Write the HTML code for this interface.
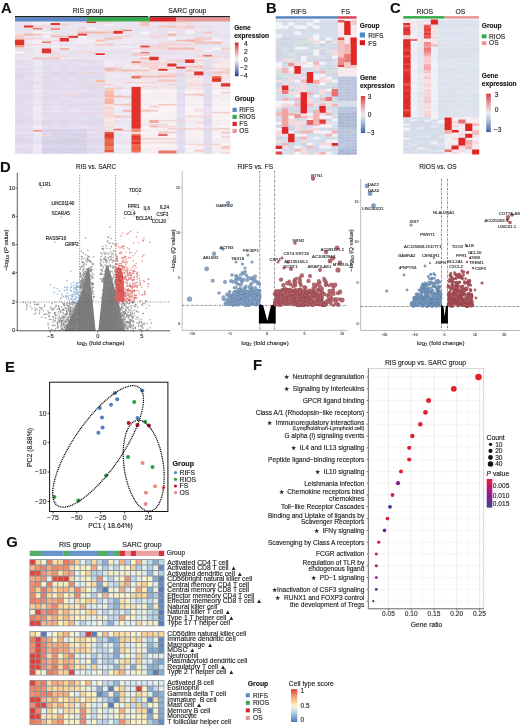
<!DOCTYPE html>
<html><head><meta charset="utf-8"><title>Figure</title>
<style>html,body{margin:0;padding:0;background:#fff;}
svg{display:block;font-family:'Liberation Sans', Arial, Helvetica, sans-serif;}
svg text{stroke:#1a1a1a;stroke-width:0.22px;stroke-opacity:0.55;}</style></head>
<body><svg width="520" height="726" viewBox="0 0 520 726">
<rect x="0" y="0" width="520" height="726" fill="#fff"/>
<text x="1.00" y="12.70" font-size="14.8" font-weight="bold" fill="#111">A</text>
<text x="265.90" y="12.70" font-size="14.8" font-weight="bold" fill="#111">B</text>
<text x="390.00" y="12.70" font-size="14.8" font-weight="bold" fill="#111">C</text>
<text x="234.20" y="29.70" font-size="6.6" font-weight="bold" fill="#111">Gene</text>
<text x="234.20" y="37.70" font-size="6.6" font-weight="bold" fill="#111">expression</text>
<defs><linearGradient id="gA" x1="0" y1="0" x2="0" y2="1"><stop offset="0" stop-color="#c62d33"/><stop offset="0.25" stop-color="#e59a9a"/><stop offset="0.5" stop-color="#f6f2f6"/><stop offset="0.75" stop-color="#9a9fcb"/><stop offset="1" stop-color="#27368c"/></linearGradient><linearGradient id="gB" x1="0" y1="0" x2="0" y2="1"><stop offset="0" stop-color="#d43a3c"/><stop offset="0.25" stop-color="#e79aa0"/><stop offset="0.5" stop-color="#ececf0"/><stop offset="0.75" stop-color="#9fb3d3"/><stop offset="1" stop-color="#3b62a0"/></linearGradient></defs>
<rect x="234.90" y="42.50" width="3.70" height="33.70" fill="url(#gA)"/>
<text x="247.70" y="46.40" font-size="6.6" text-anchor="end" fill="#222">4</text>
<text x="247.70" y="54.20" font-size="6.6" text-anchor="end" fill="#222">2</text>
<text x="247.70" y="62.00" font-size="6.6" text-anchor="end" fill="#222">0</text>
<text x="247.70" y="69.80" font-size="6.6" text-anchor="end" fill="#222">−2</text>
<text x="247.70" y="77.60" font-size="6.6" text-anchor="end" fill="#222">−4</text>
<text x="234.80" y="101.40" font-size="6.6" font-weight="bold" fill="#111">Group</text>
<rect x="232.50" y="107.75" width="4.30" height="4.20" fill="#5b87c5"/>
<text x="239.20" y="112.15" font-size="6.6" fill="#222">RIFS</text>
<rect x="232.50" y="114.78" width="4.30" height="4.20" fill="#35a94b"/>
<text x="239.20" y="119.18" font-size="6.6" fill="#222">RIOS</text>
<rect x="232.50" y="121.81" width="4.30" height="4.20" fill="#d6262c"/>
<text x="239.20" y="126.21" font-size="6.6" fill="#222">FS</text>
<rect x="232.50" y="128.84" width="4.30" height="4.20" fill="#e79896"/>
<text x="239.20" y="133.24" font-size="6.6" fill="#222">OS</text>
<g>
<path fill="#e7e1ed" d="M15 21.5h9.3v2.3h-9.3zM59.8 21.5h9.3v2.3h-9.3zM113.5 21.5h9.3v2.3h-9.3zM122.5 21.5h9.3v2.3h-9.3zM149.4 21.5h9.3v2.3h-9.3zM194.2 21.5h9.3v2.3h-9.3zM77.7 25.5h9.3v2.3h-9.3zM95.6 25.5h9.3v2.3h-9.3zM113.5 25.5h9.3v2.3h-9.3zM140.4 25.5h9.3v2.3h-9.3zM15 27.5h9.3v2.3h-9.3zM24 27.5h9.3v2.3h-9.3zM41.9 27.5h9.3v2.3h-9.3zM68.8 27.5h9.3v2.3h-9.3zM104.6 27.5h9.3v2.3h-9.3zM113.5 27.5h9.3v2.3h-9.3zM122.5 27.5h9.3v2.3h-9.3zM140.4 27.5h9.3v2.3h-9.3zM149.4 27.5h9.3v2.3h-9.3zM158.3 27.5h9.3v2.3h-9.3zM203.1 27.5h9.3v2.3h-9.3zM15 29.5h9.3v2.3h-9.3zM24 29.5h9.3v2.3h-9.3zM77.7 29.5h9.3v2.3h-9.3zM86.7 29.5h9.3v2.3h-9.3zM131.5 29.5h9.3v2.3h-9.3zM167.3 29.5h9.3v2.3h-9.3zM176.2 29.5h9.3v2.3h-9.3zM212.1 29.5h9.3v2.3h-9.3zM59.8 31.5h9.3v2.3h-9.3zM149.4 31.5h9.3v2.3h-9.3zM176.2 31.5h9.3v2.3h-9.3zM59.8 33.5h9.3v2.3h-9.3zM68.8 33.5h9.3v2.3h-9.3zM122.5 33.5h9.3v2.3h-9.3zM131.5 33.5h9.3v2.3h-9.3zM140.4 33.5h9.3v2.3h-9.3zM149.4 33.5h9.3v2.3h-9.3zM185.2 33.5h9.3v2.3h-9.3zM15 35.5h9.3v2.3h-9.3zM95.6 35.5h9.3v2.3h-9.3zM104.6 35.5h9.3v2.3h-9.3zM194.2 35.5h9.3v2.3h-9.3zM203.1 35.5h9.3v2.3h-9.3zM221 35.5h9.3v2.3h-9.3zM50.8 43.5h9.3v2.3h-9.3zM68.8 43.5h9.3v2.3h-9.3zM86.7 43.5h9.3v2.3h-9.3zM113.5 43.5h9.3v2.3h-9.3zM221 43.5h9.3v2.3h-9.3zM50.8 49.5h9.3v2.3h-9.3zM68.8 49.5h9.3v2.3h-9.3zM122.5 49.5h9.3v2.3h-9.3zM140.4 49.5h9.3v2.3h-9.3zM167.3 49.5h9.3v2.3h-9.3zM185.2 49.5h9.3v2.3h-9.3zM212.1 49.5h9.3v2.3h-9.3zM24 51.5h9.3v2.3h-9.3zM113.5 51.5h9.3v2.3h-9.3zM122.5 51.5h9.3v2.3h-9.3zM140.4 51.5h9.3v2.3h-9.3zM212.1 51.5h9.3v2.3h-9.3zM41.9 53.5h9.3v2.3h-9.3zM59.8 53.5h9.3v2.3h-9.3zM86.7 53.5h9.3v2.3h-9.3zM104.6 53.5h9.3v2.3h-9.3zM122.5 53.5h9.3v2.3h-9.3zM158.3 53.5h9.3v2.3h-9.3zM176.2 53.5h9.3v2.3h-9.3zM185.2 53.5h9.3v2.3h-9.3zM194.2 53.5h9.3v2.3h-9.3zM15 55.5h9.3v2.3h-9.3zM86.7 55.5h9.3v2.3h-9.3zM32.9 87.5h9.3v2.3h-9.3zM113.5 119.5h9.3v2.3h-9.3zM32.9 121.5h9.3v2.3h-9.3zM32.9 129.5h9.3v2.3h-9.3z"/>
<path fill="#e7deea" d="M24 21.5h9.3v2.3h-9.3zM149.4 25.5h9.3v2.3h-9.3zM203.1 25.5h9.3v2.3h-9.3zM158.3 29.5h9.3v2.3h-9.3zM194.2 31.5h9.3v2.3h-9.3zM95.6 33.5h9.3v2.3h-9.3zM158.3 33.5h9.3v2.3h-9.3zM194.2 33.5h9.3v2.3h-9.3zM221 33.5h9.3v2.3h-9.3zM41.9 43.5h9.3v2.3h-9.3zM77.7 43.5h9.3v2.3h-9.3zM131.5 43.5h9.3v2.3h-9.3zM140.4 43.5h9.3v2.3h-9.3zM149.4 43.5h9.3v2.3h-9.3zM203.1 43.5h9.3v2.3h-9.3zM212.1 43.5h9.3v2.3h-9.3zM15 49.5h9.3v2.3h-9.3zM41.9 49.5h9.3v2.3h-9.3zM77.7 49.5h9.3v2.3h-9.3zM149.4 51.5h9.3v2.3h-9.3zM167.3 51.5h9.3v2.3h-9.3zM176.2 51.5h9.3v2.3h-9.3zM221 51.5h9.3v2.3h-9.3zM15 53.5h9.3v2.3h-9.3zM50.8 53.5h9.3v2.3h-9.3zM149.4 53.5h9.3v2.3h-9.3zM167.3 53.5h9.3v2.3h-9.3zM203.1 53.5h9.3v2.3h-9.3z"/>
<path fill="#f6f3f6" d="M32.9 21.5h9.3v2.3h-9.3zM41.9 21.5h9.3v2.3h-9.3zM50.8 21.5h9.3v2.3h-9.3zM104.6 23.5h9.3v2.3h-9.3zM86.7 27.5h9.3v2.3h-9.3zM185.2 29.5h9.3v2.3h-9.3zM32.9 31.5h9.3v2.3h-9.3zM41.9 31.5h9.3v2.3h-9.3zM140.4 31.5h9.3v2.3h-9.3zM167.3 31.5h9.3v2.3h-9.3zM185.2 31.5h9.3v2.3h-9.3zM113.5 33.5h9.3v2.3h-9.3zM41.9 35.5h9.3v2.3h-9.3zM77.7 35.5h9.3v2.3h-9.3zM77.7 37.5h9.3v2.3h-9.3zM167.3 37.5h9.3v2.3h-9.3zM86.7 39.5h9.3v2.3h-9.3zM212.1 39.5h9.3v2.3h-9.3zM77.7 41.5h9.3v2.3h-9.3zM95.6 41.5h9.3v2.3h-9.3zM50.8 45.5h9.3v2.3h-9.3zM122.5 45.5h9.3v2.3h-9.3zM59.8 47.5h9.3v2.3h-9.3zM212.1 47.5h9.3v2.3h-9.3zM131.5 49.5h9.3v2.3h-9.3zM203.1 49.5h9.3v2.3h-9.3zM15 51.5h9.3v2.3h-9.3zM95.6 51.5h9.3v2.3h-9.3zM95.6 53.5h9.3v2.3h-9.3zM140.4 55.5h9.3v2.3h-9.3z"/>
<path fill="#eae4f0" d="M68.8 21.5h9.3v2.3h-9.3zM131.5 21.5h9.3v2.3h-9.3zM203.1 21.5h9.3v2.3h-9.3zM221 21.5h9.3v2.3h-9.3zM15 23.5h9.3v2.3h-9.3zM24 23.5h9.3v2.3h-9.3zM41.9 23.5h9.3v2.3h-9.3zM50.8 23.5h9.3v2.3h-9.3zM68.8 23.5h9.3v2.3h-9.3zM86.7 23.5h9.3v2.3h-9.3zM122.5 23.5h9.3v2.3h-9.3zM131.5 23.5h9.3v2.3h-9.3zM167.3 23.5h9.3v2.3h-9.3zM185.2 23.5h9.3v2.3h-9.3zM194.2 23.5h9.3v2.3h-9.3zM203.1 23.5h9.3v2.3h-9.3zM68.8 25.5h9.3v2.3h-9.3zM86.7 25.5h9.3v2.3h-9.3zM104.6 25.5h9.3v2.3h-9.3zM131.5 25.5h9.3v2.3h-9.3zM221 25.5h9.3v2.3h-9.3zM50.8 27.5h9.3v2.3h-9.3zM59.8 27.5h9.3v2.3h-9.3zM212.1 27.5h9.3v2.3h-9.3zM221 27.5h9.3v2.3h-9.3zM50.8 29.5h9.3v2.3h-9.3zM59.8 29.5h9.3v2.3h-9.3zM68.8 29.5h9.3v2.3h-9.3zM95.6 29.5h9.3v2.3h-9.3zM104.6 29.5h9.3v2.3h-9.3zM140.4 29.5h9.3v2.3h-9.3zM149.4 29.5h9.3v2.3h-9.3zM194.2 29.5h9.3v2.3h-9.3zM203.1 29.5h9.3v2.3h-9.3zM221 29.5h9.3v2.3h-9.3zM15 31.5h9.3v2.3h-9.3zM50.8 31.5h9.3v2.3h-9.3zM68.8 31.5h9.3v2.3h-9.3zM113.5 31.5h9.3v2.3h-9.3zM131.5 31.5h9.3v2.3h-9.3zM221 31.5h9.3v2.3h-9.3zM24 35.5h9.3v2.3h-9.3zM131.5 35.5h9.3v2.3h-9.3zM140.4 35.5h9.3v2.3h-9.3zM176.2 35.5h9.3v2.3h-9.3zM185.2 35.5h9.3v2.3h-9.3zM212.1 35.5h9.3v2.3h-9.3zM41.9 37.5h9.3v2.3h-9.3zM149.4 37.5h9.3v2.3h-9.3zM158.3 37.5h9.3v2.3h-9.3zM221 37.5h9.3v2.3h-9.3zM15 39.5h9.3v2.3h-9.3zM41.9 39.5h9.3v2.3h-9.3zM140.4 39.5h9.3v2.3h-9.3zM167.3 39.5h9.3v2.3h-9.3zM104.6 41.5h9.3v2.3h-9.3zM15 45.5h9.3v2.3h-9.3zM41.9 45.5h9.3v2.3h-9.3zM68.8 45.5h9.3v2.3h-9.3zM77.7 45.5h9.3v2.3h-9.3zM140.4 45.5h9.3v2.3h-9.3zM167.3 45.5h9.3v2.3h-9.3zM194.2 45.5h9.3v2.3h-9.3zM203.1 45.5h9.3v2.3h-9.3zM221 45.5h9.3v2.3h-9.3zM41.9 47.5h9.3v2.3h-9.3zM77.7 47.5h9.3v2.3h-9.3zM95.6 47.5h9.3v2.3h-9.3zM113.5 47.5h9.3v2.3h-9.3zM122.5 47.5h9.3v2.3h-9.3zM194.2 47.5h9.3v2.3h-9.3zM24 55.5h9.3v2.3h-9.3zM41.9 55.5h9.3v2.3h-9.3zM77.7 55.5h9.3v2.3h-9.3zM122.5 55.5h9.3v2.3h-9.3zM149.4 55.5h9.3v2.3h-9.3zM158.3 55.5h9.3v2.3h-9.3zM176.2 55.5h9.3v2.3h-9.3zM185.2 55.5h9.3v2.3h-9.3zM24 57.5h9.3v2.3h-9.3zM77.7 57.5h9.3v2.3h-9.3zM104.6 57.5h9.3v2.3h-9.3zM122.5 57.5h9.3v2.3h-9.3zM131.5 57.5h9.3v2.3h-9.3zM158.3 57.5h9.3v2.3h-9.3zM203.1 57.5h9.3v2.3h-9.3zM212.1 57.5h9.3v2.3h-9.3zM113.5 59.5h9.3v2.3h-9.3zM122.5 71.5h9.3v2.3h-9.3zM122.5 73.5h9.3v2.3h-9.3zM32.9 75.5h9.3v2.3h-9.3zM113.5 77.5h9.3v2.3h-9.3zM122.5 77.5h9.3v2.3h-9.3zM113.5 79.5h9.3v2.3h-9.3zM32.9 91.5h9.3v2.3h-9.3zM32.9 95.5h9.3v2.3h-9.3zM122.5 97.5h9.3v2.3h-9.3zM113.5 121.5h9.3v2.3h-9.3zM32.9 123.5h9.3v2.3h-9.3zM32.9 133.5h9.3v2.3h-9.3zM32.9 139.5h9.3v2.3h-9.3zM113.5 139.5h9.3v2.3h-9.3z"/>
<path fill="#f3d8de" d="M77.7 21.5h9.3v2.3h-9.3zM59.8 39.5h9.3v2.3h-9.3zM194.2 75.5h9.3v2.3h-9.3zM122.5 141.5h9.3v2.3h-9.3z"/>
<path fill="#f3d8db" d="M86.7 21.5h9.3v2.3h-9.3zM95.6 21.5h9.3v2.3h-9.3zM15 37.5h9.3v2.3h-9.3zM167.3 41.5h9.3v2.3h-9.3zM32.9 43.5h9.3v2.3h-9.3zM131.5 47.5h9.3v2.3h-9.3zM77.7 51.5h9.3v2.3h-9.3zM131.5 59.5h9.3v2.3h-9.3zM212.1 61.5h9.3v2.3h-9.3zM140.4 63.5h9.3v2.3h-9.3zM158.3 73.5h9.3v2.3h-9.3zM149.4 81.5h9.3v2.3h-9.3zM131.5 87.5h9.3v2.3h-9.3zM149.4 119.5h9.3v2.3h-9.3zM158.3 119.5h9.3v2.3h-9.3zM167.3 119.5h9.3v2.3h-9.3zM149.4 123.5h9.3v2.3h-9.3zM158.3 141.5h9.3v2.3h-9.3zM185.2 143.5h9.3v2.3h-9.3zM104.6 149.5h9.3v2.3h-9.3zM221 151.5h9.3v2.3h-9.3z"/>
<path fill="#f0d8de" d="M104.6 21.5h9.3v2.3h-9.3zM185.2 27.5h9.3v2.3h-9.3zM24 43.5h9.3v2.3h-9.3zM15 47.5h9.3v2.3h-9.3zM140.4 47.5h9.3v2.3h-9.3zM50.8 51.5h9.3v2.3h-9.3z"/>
<path fill="#f0baae" d="M140.4 21.5h9.3v2.3h-9.3zM77.7 31.5h9.3v2.3h-9.3zM176.2 39.5h9.3v2.3h-9.3z"/>
<path fill="#f3d8d8" d="M158.3 21.5h9.3v2.3h-9.3z"/>
<path fill="#f3d5d8" d="M167.3 21.5h9.3v2.3h-9.3zM32.9 37.5h9.3v2.3h-9.3zM158.3 47.5h9.3v2.3h-9.3zM212.1 55.5h9.3v2.3h-9.3zM221 69.5h9.3v2.3h-9.3zM185.2 75.5h9.3v2.3h-9.3zM32.9 81.5h9.3v2.3h-9.3zM131.5 85.5h9.3v2.3h-9.3z"/>
<path fill="#f0d5d8" d="M176.2 21.5h9.3v2.3h-9.3zM24 25.5h9.3v2.3h-9.3zM50.8 25.5h9.3v2.3h-9.3z"/>
<path fill="#f3d5d5" d="M185.2 21.5h9.3v2.3h-9.3zM131.5 61.5h9.3v2.3h-9.3zM158.3 61.5h9.3v2.3h-9.3zM140.4 65.5h9.3v2.3h-9.3zM140.4 81.5h9.3v2.3h-9.3zM140.4 85.5h9.3v2.3h-9.3zM194.2 121.5h9.3v2.3h-9.3zM15 35h9.2v2.2h-9.2z"/>
<path fill="#eae1ed" d="M212.1 21.5h9.3v2.3h-9.3zM95.6 23.5h9.3v2.3h-9.3zM221 23.5h9.3v2.3h-9.3zM15 25.5h9.3v2.3h-9.3zM59.8 25.5h9.3v2.3h-9.3zM122.5 25.5h9.3v2.3h-9.3zM194.2 25.5h9.3v2.3h-9.3zM212.1 25.5h9.3v2.3h-9.3zM95.6 27.5h9.3v2.3h-9.3zM131.5 27.5h9.3v2.3h-9.3zM167.3 27.5h9.3v2.3h-9.3zM194.2 27.5h9.3v2.3h-9.3zM41.9 29.5h9.3v2.3h-9.3zM122.5 29.5h9.3v2.3h-9.3zM24 31.5h9.3v2.3h-9.3zM122.5 31.5h9.3v2.3h-9.3zM158.3 31.5h9.3v2.3h-9.3zM212.1 31.5h9.3v2.3h-9.3zM41.9 33.5h9.3v2.3h-9.3zM203.1 33.5h9.3v2.3h-9.3zM86.7 35.5h9.3v2.3h-9.3zM167.3 35.5h9.3v2.3h-9.3zM24 47.5h9.3v2.3h-9.3zM59.8 49.5h9.3v2.3h-9.3zM86.7 49.5h9.3v2.3h-9.3zM104.6 49.5h9.3v2.3h-9.3zM113.5 49.5h9.3v2.3h-9.3zM149.4 49.5h9.3v2.3h-9.3zM158.3 49.5h9.3v2.3h-9.3zM176.2 49.5h9.3v2.3h-9.3zM221 49.5h9.3v2.3h-9.3zM59.8 51.5h9.3v2.3h-9.3zM104.6 51.5h9.3v2.3h-9.3zM185.2 51.5h9.3v2.3h-9.3zM194.2 51.5h9.3v2.3h-9.3zM24 53.5h9.3v2.3h-9.3zM68.8 53.5h9.3v2.3h-9.3zM77.7 53.5h9.3v2.3h-9.3zM113.5 53.5h9.3v2.3h-9.3zM212.1 53.5h9.3v2.3h-9.3zM221 53.5h9.3v2.3h-9.3zM68.8 55.5h9.3v2.3h-9.3zM95.6 55.5h9.3v2.3h-9.3zM104.6 55.5h9.3v2.3h-9.3zM131.5 55.5h9.3v2.3h-9.3zM167.3 55.5h9.3v2.3h-9.3zM113.5 57.5h9.3v2.3h-9.3zM176.2 57.5h9.3v2.3h-9.3z"/>
<path fill="#edeaf3" d="M32.9 23.5h9.3v2.3h-9.3zM32.9 27.5h9.3v2.3h-9.3zM32.9 29.5h9.3v2.3h-9.3zM32.9 49.5h9.3v2.3h-9.3zM32.9 55.5h9.3v2.3h-9.3zM113.5 75.5h9.3v2.3h-9.3zM113.5 83.5h9.3v2.3h-9.3zM122.5 91.5h9.3v2.3h-9.3zM113.5 97.5h9.3v2.3h-9.3zM122.5 101.5h9.3v2.3h-9.3zM113.5 109.5h9.3v2.3h-9.3zM113.5 113.5h9.3v2.3h-9.3zM113.5 149.5h9.3v2.3h-9.3zM122.5 149.5h9.3v2.3h-9.3zM113.5 151.5h9.3v2.3h-9.3z"/>
<path fill="#f0cfcf" d="M59.8 23.5h9.3v2.3h-9.3zM113.5 35.5h9.3v2.3h-9.3zM113.5 129.5h9.3v2.3h-9.3z"/>
<path fill="#ede7f3" d="M77.7 23.5h9.3v2.3h-9.3zM113.5 23.5h9.3v2.3h-9.3zM149.4 23.5h9.3v2.3h-9.3zM176.2 23.5h9.3v2.3h-9.3zM212.1 23.5h9.3v2.3h-9.3zM68.8 37.5h9.3v2.3h-9.3zM86.7 37.5h9.3v2.3h-9.3zM131.5 37.5h9.3v2.3h-9.3zM140.4 37.5h9.3v2.3h-9.3zM176.2 37.5h9.3v2.3h-9.3zM185.2 37.5h9.3v2.3h-9.3zM24 39.5h9.3v2.3h-9.3zM104.6 39.5h9.3v2.3h-9.3zM203.1 39.5h9.3v2.3h-9.3zM15 41.5h9.3v2.3h-9.3zM24 41.5h9.3v2.3h-9.3zM59.8 41.5h9.3v2.3h-9.3zM68.8 41.5h9.3v2.3h-9.3zM113.5 41.5h9.3v2.3h-9.3zM185.2 41.5h9.3v2.3h-9.3zM59.8 45.5h9.3v2.3h-9.3zM86.7 45.5h9.3v2.3h-9.3zM104.6 45.5h9.3v2.3h-9.3zM113.5 45.5h9.3v2.3h-9.3zM131.5 45.5h9.3v2.3h-9.3zM212.1 45.5h9.3v2.3h-9.3zM68.8 47.5h9.3v2.3h-9.3zM104.6 47.5h9.3v2.3h-9.3zM15 57.5h9.3v2.3h-9.3zM68.8 57.5h9.3v2.3h-9.3zM86.7 57.5h9.3v2.3h-9.3zM194.2 57.5h9.3v2.3h-9.3zM32.9 61.5h9.3v2.3h-9.3zM113.5 63.5h9.3v2.3h-9.3zM122.5 65.5h9.3v2.3h-9.3zM32.9 77.5h9.3v2.3h-9.3zM32.9 79.5h9.3v2.3h-9.3zM122.5 79.5h9.3v2.3h-9.3zM122.5 105.5h9.3v2.3h-9.3zM122.5 111.5h9.3v2.3h-9.3zM113.5 117.5h9.3v2.3h-9.3zM122.5 117.5h9.3v2.3h-9.3zM122.5 133.5h9.3v2.3h-9.3zM32.9 135.5h9.3v2.3h-9.3zM113.5 135.5h9.3v2.3h-9.3zM32.9 143.5h9.3v2.3h-9.3zM32.9 149.5h9.3v2.3h-9.3zM32.9 151.5h9.3v2.3h-9.3z"/>
<path fill="#f3c0ba" d="M140.4 23.5h9.3v2.3h-9.3z"/>
<path fill="#ede4f0" d="M158.3 23.5h9.3v2.3h-9.3zM59.8 37.5h9.3v2.3h-9.3zM95.6 37.5h9.3v2.3h-9.3zM68.8 39.5h9.3v2.3h-9.3zM122.5 39.5h9.3v2.3h-9.3zM149.4 39.5h9.3v2.3h-9.3zM158.3 39.5h9.3v2.3h-9.3zM221 39.5h9.3v2.3h-9.3zM86.7 41.5h9.3v2.3h-9.3zM131.5 41.5h9.3v2.3h-9.3zM140.4 41.5h9.3v2.3h-9.3zM221 41.5h9.3v2.3h-9.3zM24 45.5h9.3v2.3h-9.3zM95.6 45.5h9.3v2.3h-9.3zM176.2 45.5h9.3v2.3h-9.3zM185.2 45.5h9.3v2.3h-9.3zM50.8 47.5h9.3v2.3h-9.3zM86.7 47.5h9.3v2.3h-9.3zM203.1 47.5h9.3v2.3h-9.3zM113.5 55.5h9.3v2.3h-9.3zM59.8 57.5h9.3v2.3h-9.3zM95.6 57.5h9.3v2.3h-9.3zM167.3 57.5h9.3v2.3h-9.3zM185.2 57.5h9.3v2.3h-9.3zM221 57.5h9.3v2.3h-9.3z"/>
<path fill="#f3cfcf" d="M32.9 25.5h9.3v2.3h-9.3zM149.4 45.5h9.3v2.3h-9.3zM185.2 59.5h9.3v2.3h-9.3zM149.4 61.5h9.3v2.3h-9.3zM167.3 67.5h9.3v2.3h-9.3zM167.3 83.5h9.3v2.3h-9.3zM221 91.5h9.3v2.3h-9.3zM212.1 143.5h9.3v2.3h-9.3z"/>
<path fill="#f3d2d2" d="M41.9 25.5h9.3v2.3h-9.3zM122.5 35.5h9.3v2.3h-9.3zM149.4 35.5h9.3v2.3h-9.3zM194.2 59.5h9.3v2.3h-9.3zM194.2 67.5h9.3v2.3h-9.3zM212.1 67.5h9.3v2.3h-9.3zM221 67.5h9.3v2.3h-9.3zM122.5 81.5h9.3v2.3h-9.3zM104.6 83.5h9.3v2.3h-9.3zM185.2 83.5h9.3v2.3h-9.3zM194.2 83.5h9.3v2.3h-9.3zM158.3 137.5h9.3v2.3h-9.3zM167.3 137.5h9.3v2.3h-9.3z"/>
<path fill="#f0c9c6" d="M158.3 25.5h9.3v2.3h-9.3zM203.1 37.5h9.3v2.3h-9.3zM41.9 57.5h9.3v2.3h-9.3zM122.5 129.5h9.3v2.3h-9.3z"/>
<path fill="#f3c3c0" d="M167.3 25.5h9.3v2.3h-9.3z"/>
<path fill="#f3cfc9" d="M176.2 25.5h9.3v2.3h-9.3zM221 135.5h9.3v2.3h-9.3z"/>
<path fill="#f3c6c0" d="M185.2 25.5h9.3v2.3h-9.3zM203.1 31.5h9.3v2.3h-9.3zM194.2 37.5h9.3v2.3h-9.3zM149.4 67.5h9.3v2.3h-9.3zM221 71.5h9.3v2.3h-9.3zM167.3 103.5h9.3v2.3h-9.3zM113.5 115.5h9.3v2.3h-9.3zM131.5 129.5h9.3v2.3h-9.3z"/>
<path fill="#f0d2d8" d="M77.7 27.5h9.3v2.3h-9.3zM203.1 115.5h9.3v2.3h-9.3zM24 117.5h9.3v2.3h-9.3z"/>
<path fill="#f3d5db" d="M176.2 27.5h9.3v2.3h-9.3zM50.8 39.5h9.3v2.3h-9.3zM15 43.5h9.3v2.3h-9.3zM149.4 47.5h9.3v2.3h-9.3zM86.7 51.5h9.3v2.3h-9.3zM194.2 55.5h9.3v2.3h-9.3zM203.1 55.5h9.3v2.3h-9.3zM131.5 63.5h9.3v2.3h-9.3zM149.4 63.5h9.3v2.3h-9.3zM59.8 93.5h9.3v2.3h-9.3zM68.8 93.5h9.3v2.3h-9.3zM86.7 111.5h9.3v2.3h-9.3zM158.3 123.5h9.3v2.3h-9.3z"/>
<path fill="#f0c6c0" d="M113.5 29.5h9.3v2.3h-9.3zM113.5 37.5h9.3v2.3h-9.3zM194.2 39.5h9.3v2.3h-9.3zM140.4 53.5h9.3v2.3h-9.3zM113.5 69.5h9.3v2.3h-9.3zM113.5 103.5h9.3v2.3h-9.3z"/>
<path fill="#f0b7ab" d="M86.7 31.5h9.3v2.3h-9.3zM15 33.5h9.3v2.3h-9.3z"/>
<path fill="#f3b7a8" d="M95.6 31.5h9.3v2.3h-9.3zM158.3 75.5h9.3v2.3h-9.3z"/>
<path fill="#f0c3bd" d="M104.6 31.5h9.3v2.3h-9.3zM203.1 41.5h9.3v2.3h-9.3zM122.5 95.5h9.3v2.3h-9.3z"/>
<path fill="#edbab1" d="M24 33.5h9.3v2.3h-9.3z"/>
<path fill="#f3c3b7" d="M32.9 33.5h9.3v2.3h-9.3z"/>
<path fill="#e4deea" d="M50.8 33.5h9.3v2.3h-9.3zM77.7 33.5h9.3v2.3h-9.3zM86.7 33.5h9.3v2.3h-9.3zM104.6 33.5h9.3v2.3h-9.3zM176.2 33.5h9.3v2.3h-9.3zM212.1 33.5h9.3v2.3h-9.3zM59.8 43.5h9.3v2.3h-9.3zM122.5 43.5h9.3v2.3h-9.3zM194.2 43.5h9.3v2.3h-9.3zM24 49.5h9.3v2.3h-9.3zM95.6 49.5h9.3v2.3h-9.3zM68.8 51.5h9.3v2.3h-9.3zM131.5 51.5h9.3v2.3h-9.3zM158.3 51.5h9.3v2.3h-9.3zM203.1 51.5h9.3v2.3h-9.3z"/>
<path fill="#f0b4a8" d="M167.3 33.5h9.3v2.3h-9.3z"/>
<path fill="#eae4ed" d="M32.9 35.5h9.3v2.3h-9.3z"/>
<path fill="#f0bab1" d="M50.8 35.5h9.3v2.3h-9.3zM185.2 47.5h9.3v2.3h-9.3z"/>
<path fill="#f0c0ba" d="M59.8 35.5h9.3v2.3h-9.3z"/>
<path fill="#f3b4a5" d="M68.8 35.5h9.3v2.3h-9.3z"/>
<path fill="#f0d5db" d="M158.3 35.5h9.3v2.3h-9.3zM185.2 43.5h9.3v2.3h-9.3zM77.7 71.5h9.3v2.3h-9.3zM95.6 71.5h9.3v2.3h-9.3zM24 145.5h9.3v2.3h-9.3z"/>
<path fill="#f3d2d5" d="M24 37.5h9.3v2.3h-9.3zM167.3 43.5h9.3v2.3h-9.3zM149.4 65.5h9.3v2.3h-9.3zM131.5 81.5h9.3v2.3h-9.3zM167.3 141.5h9.3v2.3h-9.3z"/>
<path fill="#f0e7f3" d="M50.8 37.5h9.3v2.3h-9.3zM122.5 37.5h9.3v2.3h-9.3zM212.1 37.5h9.3v2.3h-9.3zM77.7 39.5h9.3v2.3h-9.3zM113.5 39.5h9.3v2.3h-9.3zM131.5 39.5h9.3v2.3h-9.3zM41.9 41.5h9.3v2.3h-9.3zM50.8 41.5h9.3v2.3h-9.3zM149.4 41.5h9.3v2.3h-9.3zM176.2 41.5h9.3v2.3h-9.3z"/>
<path fill="#f3bab1" d="M104.6 37.5h9.3v2.3h-9.3zM167.3 47.5h9.3v2.3h-9.3z"/>
<path fill="#f3edf6" d="M32.9 39.5h9.3v2.3h-9.3z"/>
<path fill="#f3c0b7" d="M95.6 39.5h9.3v2.3h-9.3zM194.2 41.5h9.3v2.3h-9.3zM50.8 57.5h9.3v2.3h-9.3zM140.4 69.5h9.3v2.3h-9.3zM131.5 109.5h9.3v2.3h-9.3zM149.4 109.5h9.3v2.3h-9.3zM221 131.5h9.3v2.3h-9.3z"/>
<path fill="#f3b1a2" d="M185.2 39.5h9.3v2.3h-9.3z"/>
<path fill="#f3f0f9" d="M32.9 41.5h9.3v2.3h-9.3z"/>
<path fill="#f0eaf6" d="M122.5 41.5h9.3v2.3h-9.3zM122.5 63.5h9.3v2.3h-9.3zM32.9 107.5h9.3v2.3h-9.3zM122.5 113.5h9.3v2.3h-9.3zM32.9 131.5h9.3v2.3h-9.3zM113.5 131.5h9.3v2.3h-9.3z"/>
<path fill="#f0dbe1" d="M158.3 41.5h9.3v2.3h-9.3zM194.2 49.5h9.3v2.3h-9.3zM113.5 85.5h9.3v2.3h-9.3z"/>
<path fill="#f3baae" d="M212.1 41.5h9.3v2.3h-9.3zM104.6 95.5h9.3v2.3h-9.3z"/>
<path fill="#f3cccc" d="M95.6 43.5h9.3v2.3h-9.3zM203.1 67.5h9.3v2.3h-9.3zM203.1 83.5h9.3v2.3h-9.3z"/>
<path fill="#f3ccc9" d="M104.6 43.5h9.3v2.3h-9.3zM212.1 111.5h9.3v2.3h-9.3zM221 111.5h9.3v2.3h-9.3zM167.3 127.5h9.3v2.3h-9.3zM185.2 127.5h9.3v2.3h-9.3zM221 127.5h9.3v2.3h-9.3zM221 147.5h9.3v2.3h-9.3z"/>
<path fill="#f3cfd2" d="M158.3 43.5h9.3v2.3h-9.3zM176.2 43.5h9.3v2.3h-9.3zM140.4 61.5h9.3v2.3h-9.3z"/>
<path fill="#f0eaf3" d="M32.9 45.5h9.3v2.3h-9.3zM32.9 47.5h9.3v2.3h-9.3z"/>
<path fill="#f0cfcc" d="M158.3 45.5h9.3v2.3h-9.3zM113.5 87.5h9.3v2.3h-9.3zM122.5 115.5h9.3v2.3h-9.3z"/>
<path fill="#f3bdb1" d="M176.2 47.5h9.3v2.3h-9.3zM149.4 75.5h9.3v2.3h-9.3zM167.3 75.5h9.3v2.3h-9.3z"/>
<path fill="#f0cfd2" d="M221 47.5h9.3v2.3h-9.3zM176.2 127.5h9.3v2.3h-9.3z"/>
<path fill="#ede7f0" d="M32.9 51.5h9.3v2.3h-9.3zM32.9 53.5h9.3v2.3h-9.3z"/>
<path fill="#edd8de" d="M41.9 51.5h9.3v2.3h-9.3z"/>
<path fill="#f0c6c3" d="M131.5 53.5h9.3v2.3h-9.3z"/>
<path fill="#f0d8db" d="M50.8 55.5h9.3v2.3h-9.3zM59.8 55.5h9.3v2.3h-9.3z"/>
<path fill="#f0d8e1" d="M221 55.5h9.3v2.3h-9.3z"/>
<path fill="#f3bdb4" d="M32.9 57.5h9.3v2.3h-9.3zM131.5 69.5h9.3v2.3h-9.3zM194.2 149.5h9.3v2.3h-9.3zM86.7 108h9.2v2h-9.2zM122.5 108h9.2v2h-9.2z"/>
<path fill="#f3b7ab" d="M140.4 57.5h9.3v2.3h-9.3zM104.6 69.5h9.3v2.3h-9.3zM122.5 109.5h9.3v2.3h-9.3zM149.4 125.5h9.3v2.3h-9.3z"/>
<path fill="#f0c3ba" d="M149.4 57.5h9.3v2.3h-9.3z"/>
<path fill="#e1dbed" d="M15 59.5h9.3v2.3h-9.3zM50.8 59.5h9.3v2.3h-9.3zM59.8 59.5h9.3v2.3h-9.3zM86.7 59.5h9.3v2.3h-9.3zM15 61.5h9.3v2.3h-9.3zM50.8 61.5h9.3v2.3h-9.3zM86.7 61.5h9.3v2.3h-9.3zM95.6 61.5h9.3v2.3h-9.3zM176.2 61.5h9.3v2.3h-9.3zM15 63.5h9.3v2.3h-9.3zM24 63.5h9.3v2.3h-9.3zM41.9 65.5h9.3v2.3h-9.3zM59.8 65.5h9.3v2.3h-9.3zM77.7 65.5h9.3v2.3h-9.3zM86.7 65.5h9.3v2.3h-9.3zM95.6 65.5h9.3v2.3h-9.3zM15 67.5h9.3v2.3h-9.3zM50.8 67.5h9.3v2.3h-9.3zM59.8 67.5h9.3v2.3h-9.3zM68.8 67.5h9.3v2.3h-9.3zM77.7 67.5h9.3v2.3h-9.3zM86.7 67.5h9.3v2.3h-9.3zM15 69.5h9.3v2.3h-9.3zM41.9 69.5h9.3v2.3h-9.3zM59.8 69.5h9.3v2.3h-9.3zM77.7 69.5h9.3v2.3h-9.3zM15 71.5h9.3v2.3h-9.3zM59.8 71.5h9.3v2.3h-9.3zM24 73.5h9.3v2.3h-9.3zM41.9 73.5h9.3v2.3h-9.3zM59.8 73.5h9.3v2.3h-9.3zM77.7 73.5h9.3v2.3h-9.3zM86.7 73.5h9.3v2.3h-9.3zM24 75.5h9.3v2.3h-9.3zM59.8 75.5h9.3v2.3h-9.3zM68.8 75.5h9.3v2.3h-9.3zM77.7 75.5h9.3v2.3h-9.3zM86.7 75.5h9.3v2.3h-9.3zM50.8 77.5h9.3v2.3h-9.3zM59.8 77.5h9.3v2.3h-9.3zM77.7 77.5h9.3v2.3h-9.3zM86.7 77.5h9.3v2.3h-9.3zM95.6 77.5h9.3v2.3h-9.3zM24 79.5h9.3v2.3h-9.3zM41.9 79.5h9.3v2.3h-9.3zM59.8 79.5h9.3v2.3h-9.3zM68.8 79.5h9.3v2.3h-9.3zM77.7 79.5h9.3v2.3h-9.3zM95.6 79.5h9.3v2.3h-9.3zM176.2 79.5h9.3v2.3h-9.3zM15 81.5h9.3v2.3h-9.3zM24 81.5h9.3v2.3h-9.3zM59.8 81.5h9.3v2.3h-9.3zM86.7 81.5h9.3v2.3h-9.3zM95.6 81.5h9.3v2.3h-9.3zM24 83.5h9.3v2.3h-9.3zM50.8 83.5h9.3v2.3h-9.3zM59.8 83.5h9.3v2.3h-9.3zM15 85.5h9.3v2.3h-9.3zM24 85.5h9.3v2.3h-9.3zM50.8 85.5h9.3v2.3h-9.3zM86.7 85.5h9.3v2.3h-9.3zM95.6 85.5h9.3v2.3h-9.3zM41.9 87.5h9.3v2.3h-9.3zM77.7 87.5h9.3v2.3h-9.3zM86.7 87.5h9.3v2.3h-9.3zM95.6 87.5h9.3v2.3h-9.3zM86.7 89.5h9.3v2.3h-9.3zM41.9 91.5h9.3v2.3h-9.3zM59.8 91.5h9.3v2.3h-9.3zM77.7 91.5h9.3v2.3h-9.3zM24 93.5h9.3v2.3h-9.3zM41.9 93.5h9.3v2.3h-9.3zM77.7 93.5h9.3v2.3h-9.3zM95.6 93.5h9.3v2.3h-9.3zM203.1 93.5h9.3v2.3h-9.3zM15 95.5h9.3v2.3h-9.3zM24 95.5h9.3v2.3h-9.3zM59.8 95.5h9.3v2.3h-9.3zM176.2 95.5h9.3v2.3h-9.3zM15 97.5h9.3v2.3h-9.3zM24 97.5h9.3v2.3h-9.3zM41.9 97.5h9.3v2.3h-9.3zM50.8 97.5h9.3v2.3h-9.3zM176.2 97.5h9.3v2.3h-9.3zM203.1 97.5h9.3v2.3h-9.3zM15 99.5h9.3v2.3h-9.3zM24 99.5h9.3v2.3h-9.3zM50.8 99.5h9.3v2.3h-9.3zM68.8 99.5h9.3v2.3h-9.3zM86.7 99.5h9.3v2.3h-9.3zM15 101.5h9.3v2.3h-9.3zM59.8 101.5h9.3v2.3h-9.3zM86.7 101.5h9.3v2.3h-9.3zM95.6 101.5h9.3v2.3h-9.3zM15 103.5h9.3v2.3h-9.3zM24 103.5h9.3v2.3h-9.3zM50.8 103.5h9.3v2.3h-9.3zM68.8 105.5h9.3v2.3h-9.3zM77.7 107.5h9.3v2.3h-9.3zM95.6 107.5h9.3v2.3h-9.3zM24 109.5h9.3v2.3h-9.3zM95.6 109.5h9.3v2.3h-9.3zM15 111.5h9.3v2.3h-9.3zM41.9 111.5h9.3v2.3h-9.3zM50.8 111.5h9.3v2.3h-9.3zM77.7 111.5h9.3v2.3h-9.3zM15 113.5h9.3v2.3h-9.3zM41.9 113.5h9.3v2.3h-9.3zM77.7 113.5h9.3v2.3h-9.3zM86.7 113.5h9.3v2.3h-9.3zM203.1 113.5h9.3v2.3h-9.3zM15 115.5h9.3v2.3h-9.3zM24 115.5h9.3v2.3h-9.3zM86.7 115.5h9.3v2.3h-9.3zM15 117.5h9.3v2.3h-9.3zM59.8 117.5h9.3v2.3h-9.3zM68.8 117.5h9.3v2.3h-9.3zM86.7 117.5h9.3v2.3h-9.3zM95.6 117.5h9.3v2.3h-9.3zM176.2 117.5h9.3v2.3h-9.3zM24 121.5h9.3v2.3h-9.3zM50.8 121.5h9.3v2.3h-9.3zM68.8 121.5h9.3v2.3h-9.3zM77.7 121.5h9.3v2.3h-9.3zM15 123.5h9.3v2.3h-9.3zM24 123.5h9.3v2.3h-9.3zM50.8 123.5h9.3v2.3h-9.3zM68.8 123.5h9.3v2.3h-9.3zM95.6 123.5h9.3v2.3h-9.3zM15 127.5h9.3v2.3h-9.3zM24 127.5h9.3v2.3h-9.3zM41.9 127.5h9.3v2.3h-9.3zM50.8 127.5h9.3v2.3h-9.3zM203.1 127.5h9.3v2.3h-9.3zM95.6 133.5h9.3v2.3h-9.3zM15 135.5h9.3v2.3h-9.3zM15 143.5h9.3v2.3h-9.3zM95.6 143.5h9.3v2.3h-9.3zM24 147.5h9.3v2.3h-9.3zM15 149.5h9.3v2.3h-9.3zM24 149.5h9.3v2.3h-9.3zM95.6 149.5h9.3v2.3h-9.3zM15 151.5h9.3v2.3h-9.3zM86.7 151.5h9.3v2.3h-9.3z"/>
<path fill="#e4def0" d="M24 59.5h9.3v2.3h-9.3zM95.6 59.5h9.3v2.3h-9.3zM24 61.5h9.3v2.3h-9.3zM41.9 61.5h9.3v2.3h-9.3zM59.8 61.5h9.3v2.3h-9.3zM68.8 61.5h9.3v2.3h-9.3zM77.7 61.5h9.3v2.3h-9.3zM41.9 63.5h9.3v2.3h-9.3zM50.8 63.5h9.3v2.3h-9.3zM59.8 63.5h9.3v2.3h-9.3zM68.8 63.5h9.3v2.3h-9.3zM86.7 63.5h9.3v2.3h-9.3zM95.6 63.5h9.3v2.3h-9.3zM15 65.5h9.3v2.3h-9.3zM24 65.5h9.3v2.3h-9.3zM50.8 65.5h9.3v2.3h-9.3zM68.8 65.5h9.3v2.3h-9.3zM24 69.5h9.3v2.3h-9.3zM50.8 69.5h9.3v2.3h-9.3zM68.8 69.5h9.3v2.3h-9.3zM86.7 69.5h9.3v2.3h-9.3zM95.6 69.5h9.3v2.3h-9.3zM24 77.5h9.3v2.3h-9.3zM68.8 77.5h9.3v2.3h-9.3zM15 79.5h9.3v2.3h-9.3zM50.8 79.5h9.3v2.3h-9.3zM86.7 79.5h9.3v2.3h-9.3zM203.1 79.5h9.3v2.3h-9.3zM15 83.5h9.3v2.3h-9.3zM41.9 83.5h9.3v2.3h-9.3zM68.8 83.5h9.3v2.3h-9.3zM77.7 83.5h9.3v2.3h-9.3zM59.8 85.5h9.3v2.3h-9.3zM68.8 85.5h9.3v2.3h-9.3zM15 89.5h9.3v2.3h-9.3zM24 89.5h9.3v2.3h-9.3zM41.9 89.5h9.3v2.3h-9.3zM50.8 89.5h9.3v2.3h-9.3zM59.8 89.5h9.3v2.3h-9.3zM68.8 89.5h9.3v2.3h-9.3zM95.6 89.5h9.3v2.3h-9.3zM15 91.5h9.3v2.3h-9.3zM24 91.5h9.3v2.3h-9.3zM50.8 91.5h9.3v2.3h-9.3zM68.8 91.5h9.3v2.3h-9.3zM86.7 91.5h9.3v2.3h-9.3zM95.6 91.5h9.3v2.3h-9.3zM176.2 91.5h9.3v2.3h-9.3zM59.8 97.5h9.3v2.3h-9.3zM68.8 97.5h9.3v2.3h-9.3zM77.7 97.5h9.3v2.3h-9.3zM86.7 97.5h9.3v2.3h-9.3zM95.6 97.5h9.3v2.3h-9.3zM77.7 99.5h9.3v2.3h-9.3zM95.6 99.5h9.3v2.3h-9.3zM176.2 99.5h9.3v2.3h-9.3zM24 101.5h9.3v2.3h-9.3zM41.9 101.5h9.3v2.3h-9.3zM50.8 101.5h9.3v2.3h-9.3zM68.8 101.5h9.3v2.3h-9.3zM77.7 101.5h9.3v2.3h-9.3zM15 105.5h9.3v2.3h-9.3zM24 105.5h9.3v2.3h-9.3zM41.9 105.5h9.3v2.3h-9.3zM59.8 105.5h9.3v2.3h-9.3zM77.7 105.5h9.3v2.3h-9.3zM86.7 105.5h9.3v2.3h-9.3zM95.6 105.5h9.3v2.3h-9.3zM176.2 105.5h9.3v2.3h-9.3zM15 107.5h9.3v2.3h-9.3zM24 107.5h9.3v2.3h-9.3zM41.9 107.5h9.3v2.3h-9.3zM50.8 107.5h9.3v2.3h-9.3zM59.8 107.5h9.3v2.3h-9.3zM68.8 107.5h9.3v2.3h-9.3zM86.7 107.5h9.3v2.3h-9.3zM15 109.5h9.3v2.3h-9.3zM41.9 109.5h9.3v2.3h-9.3zM59.8 109.5h9.3v2.3h-9.3zM77.7 109.5h9.3v2.3h-9.3zM24 111.5h9.3v2.3h-9.3zM59.8 111.5h9.3v2.3h-9.3zM68.8 111.5h9.3v2.3h-9.3zM203.1 111.5h9.3v2.3h-9.3zM24 113.5h9.3v2.3h-9.3zM50.8 113.5h9.3v2.3h-9.3zM59.8 113.5h9.3v2.3h-9.3zM68.8 113.5h9.3v2.3h-9.3zM95.6 113.5h9.3v2.3h-9.3zM41.9 115.5h9.3v2.3h-9.3zM50.8 115.5h9.3v2.3h-9.3zM59.8 115.5h9.3v2.3h-9.3zM68.8 115.5h9.3v2.3h-9.3zM77.7 115.5h9.3v2.3h-9.3zM95.6 115.5h9.3v2.3h-9.3zM41.9 117.5h9.3v2.3h-9.3zM50.8 117.5h9.3v2.3h-9.3zM77.7 117.5h9.3v2.3h-9.3zM15 125.5h9.3v2.3h-9.3zM24 125.5h9.3v2.3h-9.3zM41.9 125.5h9.3v2.3h-9.3zM50.8 125.5h9.3v2.3h-9.3zM59.8 125.5h9.3v2.3h-9.3zM68.8 125.5h9.3v2.3h-9.3zM86.7 125.5h9.3v2.3h-9.3zM95.6 125.5h9.3v2.3h-9.3zM59.8 127.5h9.3v2.3h-9.3zM68.8 127.5h9.3v2.3h-9.3zM77.7 127.5h9.3v2.3h-9.3zM86.7 127.5h9.3v2.3h-9.3zM95.6 127.5h9.3v2.3h-9.3zM95.6 131.5h9.3v2.3h-9.3zM24 135.5h9.3v2.3h-9.3zM86.7 135.5h9.3v2.3h-9.3zM95.6 135.5h9.3v2.3h-9.3zM203.1 135.5h9.3v2.3h-9.3zM24 143.5h9.3v2.3h-9.3zM86.7 143.5h9.3v2.3h-9.3zM176.2 143.5h9.3v2.3h-9.3zM86.7 145.5h9.3v2.3h-9.3zM95.6 145.5h9.3v2.3h-9.3z"/>
<path fill="#eae7f3" d="M32.9 59.5h9.3v2.3h-9.3zM122.5 59.5h9.3v2.3h-9.3zM122.5 61.5h9.3v2.3h-9.3zM113.5 73.5h9.3v2.3h-9.3zM122.5 75.5h9.3v2.3h-9.3zM32.9 83.5h9.3v2.3h-9.3zM32.9 85.5h9.3v2.3h-9.3zM122.5 85.5h9.3v2.3h-9.3zM113.5 91.5h9.3v2.3h-9.3zM122.5 93.5h9.3v2.3h-9.3zM32.9 99.5h9.3v2.3h-9.3zM32.9 101.5h9.3v2.3h-9.3zM32.9 111.5h9.3v2.3h-9.3zM113.5 111.5h9.3v2.3h-9.3zM32.9 113.5h9.3v2.3h-9.3zM113.5 123.5h9.3v2.3h-9.3zM32.9 127.5h9.3v2.3h-9.3zM32.9 147.5h9.3v2.3h-9.3zM122.5 151.5h9.3v2.3h-9.3z"/>
<path fill="#ded8ea" d="M41.9 59.5h9.3v2.3h-9.3zM68.8 59.5h9.3v2.3h-9.3zM77.7 59.5h9.3v2.3h-9.3zM24 67.5h9.3v2.3h-9.3zM41.9 67.5h9.3v2.3h-9.3zM95.6 67.5h9.3v2.3h-9.3zM24 71.5h9.3v2.3h-9.3zM41.9 71.5h9.3v2.3h-9.3zM50.8 71.5h9.3v2.3h-9.3zM68.8 71.5h9.3v2.3h-9.3zM203.1 71.5h9.3v2.3h-9.3zM68.8 73.5h9.3v2.3h-9.3zM95.6 73.5h9.3v2.3h-9.3zM15 75.5h9.3v2.3h-9.3zM41.9 75.5h9.3v2.3h-9.3zM50.8 75.5h9.3v2.3h-9.3zM95.6 75.5h9.3v2.3h-9.3zM15 77.5h9.3v2.3h-9.3zM41.9 77.5h9.3v2.3h-9.3zM41.9 81.5h9.3v2.3h-9.3zM50.8 81.5h9.3v2.3h-9.3zM68.8 81.5h9.3v2.3h-9.3zM77.7 81.5h9.3v2.3h-9.3zM41.9 85.5h9.3v2.3h-9.3zM77.7 85.5h9.3v2.3h-9.3zM15 87.5h9.3v2.3h-9.3zM24 87.5h9.3v2.3h-9.3zM50.8 87.5h9.3v2.3h-9.3zM59.8 87.5h9.3v2.3h-9.3zM68.8 87.5h9.3v2.3h-9.3zM15 93.5h9.3v2.3h-9.3zM50.8 93.5h9.3v2.3h-9.3zM86.7 93.5h9.3v2.3h-9.3zM176.2 93.5h9.3v2.3h-9.3zM41.9 95.5h9.3v2.3h-9.3zM50.8 95.5h9.3v2.3h-9.3zM68.8 95.5h9.3v2.3h-9.3zM77.7 95.5h9.3v2.3h-9.3zM86.7 95.5h9.3v2.3h-9.3zM95.6 95.5h9.3v2.3h-9.3zM41.9 99.5h9.3v2.3h-9.3zM59.8 99.5h9.3v2.3h-9.3zM41.9 103.5h9.3v2.3h-9.3zM59.8 103.5h9.3v2.3h-9.3zM68.8 103.5h9.3v2.3h-9.3zM77.7 103.5h9.3v2.3h-9.3zM86.7 103.5h9.3v2.3h-9.3zM95.6 103.5h9.3v2.3h-9.3zM176.2 103.5h9.3v2.3h-9.3zM15 119.5h9.3v2.3h-9.3zM24 119.5h9.3v2.3h-9.3zM50.8 119.5h9.3v2.3h-9.3zM59.8 119.5h9.3v2.3h-9.3zM68.8 119.5h9.3v2.3h-9.3zM77.7 119.5h9.3v2.3h-9.3zM86.7 119.5h9.3v2.3h-9.3zM95.6 119.5h9.3v2.3h-9.3zM15 121.5h9.3v2.3h-9.3zM41.9 121.5h9.3v2.3h-9.3zM59.8 121.5h9.3v2.3h-9.3zM86.7 121.5h9.3v2.3h-9.3zM95.6 121.5h9.3v2.3h-9.3zM203.1 121.5h9.3v2.3h-9.3zM41.9 123.5h9.3v2.3h-9.3zM59.8 123.5h9.3v2.3h-9.3zM77.7 123.5h9.3v2.3h-9.3zM86.7 123.5h9.3v2.3h-9.3zM203.1 123.5h9.3v2.3h-9.3zM15 129.5h9.3v2.3h-9.3zM24 129.5h9.3v2.3h-9.3zM86.7 129.5h9.3v2.3h-9.3zM15 133.5h9.3v2.3h-9.3zM24 133.5h9.3v2.3h-9.3zM86.7 133.5h9.3v2.3h-9.3zM15 137.5h9.3v2.3h-9.3zM24 137.5h9.3v2.3h-9.3zM86.7 137.5h9.3v2.3h-9.3zM95.6 137.5h9.3v2.3h-9.3zM15 139.5h9.3v2.3h-9.3zM24 139.5h9.3v2.3h-9.3zM86.7 139.5h9.3v2.3h-9.3zM95.6 139.5h9.3v2.3h-9.3zM15 141.5h9.3v2.3h-9.3zM24 141.5h9.3v2.3h-9.3zM86.7 141.5h9.3v2.3h-9.3zM95.6 141.5h9.3v2.3h-9.3zM15 147.5h9.3v2.3h-9.3zM86.7 147.5h9.3v2.3h-9.3zM95.6 147.5h9.3v2.3h-9.3zM86.7 149.5h9.3v2.3h-9.3zM24 151.5h9.3v2.3h-9.3zM95.6 151.5h9.3v2.3h-9.3zM203.1 151.5h9.3v2.3h-9.3z"/>
<path fill="#f0eaf0" d="M104.6 59.5h9.3v2.3h-9.3zM131.5 79.5h9.3v2.3h-9.3zM131.5 91.5h9.3v2.3h-9.3zM104.6 97.5h9.3v2.3h-9.3zM131.5 97.5h9.3v2.3h-9.3zM104.6 109.5h9.3v2.3h-9.3zM131.5 115.5h9.3v2.3h-9.3zM131.5 125.5h9.3v2.3h-9.3zM131.5 127.5h9.3v2.3h-9.3z"/>
<path fill="#f0e1e7" d="M140.4 59.5h9.3v2.3h-9.3zM149.4 59.5h9.3v2.3h-9.3zM140.4 71.5h9.3v2.3h-9.3zM149.4 71.5h9.3v2.3h-9.3zM158.3 71.5h9.3v2.3h-9.3zM185.2 73.5h9.3v2.3h-9.3zM194.2 73.5h9.3v2.3h-9.3zM212.1 73.5h9.3v2.3h-9.3zM221 73.5h9.3v2.3h-9.3zM140.4 77.5h9.3v2.3h-9.3zM149.4 77.5h9.3v2.3h-9.3zM158.3 77.5h9.3v2.3h-9.3zM185.2 77.5h9.3v2.3h-9.3zM221 77.5h9.3v2.3h-9.3zM167.3 81.5h9.3v2.3h-9.3zM185.2 81.5h9.3v2.3h-9.3zM221 81.5h9.3v2.3h-9.3zM149.4 85.5h9.3v2.3h-9.3zM140.4 87.5h9.3v2.3h-9.3zM149.4 87.5h9.3v2.3h-9.3zM194.2 87.5h9.3v2.3h-9.3z"/>
<path fill="#f3e4e7" d="M158.3 59.5h9.3v2.3h-9.3zM158.3 65.5h9.3v2.3h-9.3zM167.3 77.5h9.3v2.3h-9.3zM158.3 81.5h9.3v2.3h-9.3zM158.3 83.5h9.3v2.3h-9.3zM158.3 85.5h9.3v2.3h-9.3zM167.3 85.5h9.3v2.3h-9.3zM194.2 85.5h9.3v2.3h-9.3zM158.3 87.5h9.3v2.3h-9.3zM167.3 87.5h9.3v2.3h-9.3zM185.2 87.5h9.3v2.3h-9.3z"/>
<path fill="#f3cfcc" d="M167.3 59.5h9.3v2.3h-9.3z"/>
<path fill="#f0cccc" d="M176.2 59.5h9.3v2.3h-9.3z"/>
<path fill="#e1def0" d="M203.1 59.5h9.3v2.3h-9.3zM203.1 61.5h9.3v2.3h-9.3zM203.1 63.5h9.3v2.3h-9.3zM176.2 65.5h9.3v2.3h-9.3zM176.2 69.5h9.3v2.3h-9.3zM203.1 69.5h9.3v2.3h-9.3zM176.2 71.5h9.3v2.3h-9.3zM176.2 75.5h9.3v2.3h-9.3zM203.1 75.5h9.3v2.3h-9.3zM203.1 77.5h9.3v2.3h-9.3zM176.2 81.5h9.3v2.3h-9.3zM203.1 81.5h9.3v2.3h-9.3zM176.2 83.5h9.3v2.3h-9.3zM203.1 87.5h9.3v2.3h-9.3zM203.1 89.5h9.3v2.3h-9.3zM203.1 91.5h9.3v2.3h-9.3zM176.2 101.5h9.3v2.3h-9.3zM203.1 101.5h9.3v2.3h-9.3zM176.2 109.5h9.3v2.3h-9.3zM176.2 111.5h9.3v2.3h-9.3zM176.2 115.5h9.3v2.3h-9.3zM203.1 117.5h9.3v2.3h-9.3zM203.1 125.5h9.3v2.3h-9.3zM176.2 131.5h9.3v2.3h-9.3zM203.1 131.5h9.3v2.3h-9.3zM176.2 135.5h9.3v2.3h-9.3zM176.2 137.5h9.3v2.3h-9.3zM203.1 145.5h9.3v2.3h-9.3z"/>
<path fill="#f3e4ea" d="M212.1 59.5h9.3v2.3h-9.3zM194.2 61.5h9.3v2.3h-9.3zM185.2 63.5h9.3v2.3h-9.3zM194.2 63.5h9.3v2.3h-9.3zM140.4 67.5h9.3v2.3h-9.3zM185.2 67.5h9.3v2.3h-9.3zM149.4 69.5h9.3v2.3h-9.3zM212.1 69.5h9.3v2.3h-9.3zM167.3 71.5h9.3v2.3h-9.3zM185.2 71.5h9.3v2.3h-9.3zM212.1 75.5h9.3v2.3h-9.3zM221 75.5h9.3v2.3h-9.3zM140.4 79.5h9.3v2.3h-9.3zM149.4 79.5h9.3v2.3h-9.3zM194.2 79.5h9.3v2.3h-9.3zM212.1 79.5h9.3v2.3h-9.3zM194.2 81.5h9.3v2.3h-9.3zM212.1 81.5h9.3v2.3h-9.3zM149.4 83.5h9.3v2.3h-9.3zM185.2 85.5h9.3v2.3h-9.3zM221 85.5h9.3v2.3h-9.3zM212.1 87.5h9.3v2.3h-9.3z"/>
<path fill="#f6e7ea" d="M221 59.5h9.3v2.3h-9.3zM167.3 69.5h9.3v2.3h-9.3zM194.2 69.5h9.3v2.3h-9.3zM194.2 77.5h9.3v2.3h-9.3zM212.1 77.5h9.3v2.3h-9.3zM185.2 79.5h9.3v2.3h-9.3zM212.1 83.5h9.3v2.3h-9.3zM221 83.5h9.3v2.3h-9.3zM212.1 85.5h9.3v2.3h-9.3z"/>
<path fill="#f3eaf3" d="M104.6 61.5h9.3v2.3h-9.3zM104.6 65.5h9.3v2.3h-9.3zM131.5 65.5h9.3v2.3h-9.3zM131.5 83.5h9.3v2.3h-9.3zM104.6 91.5h9.3v2.3h-9.3zM104.6 99.5h9.3v2.3h-9.3zM131.5 99.5h9.3v2.3h-9.3zM131.5 105.5h9.3v2.3h-9.3zM131.5 111.5h9.3v2.3h-9.3zM104.6 113.5h9.3v2.3h-9.3zM131.5 113.5h9.3v2.3h-9.3zM104.6 117.5h9.3v2.3h-9.3zM131.5 117.5h9.3v2.3h-9.3zM104.6 125.5h9.3v2.3h-9.3zM131.5 131.5h9.3v2.3h-9.3zM104.6 135.5h9.3v2.3h-9.3zM131.5 135.5h9.3v2.3h-9.3zM131.5 143.5h9.3v2.3h-9.3zM104.6 145.5h9.3v2.3h-9.3zM131.5 151.5h9.3v2.3h-9.3z"/>
<path fill="#edeaf6" d="M113.5 61.5h9.3v2.3h-9.3zM32.9 63.5h9.3v2.3h-9.3zM32.9 69.5h9.3v2.3h-9.3zM122.5 83.5h9.3v2.3h-9.3zM32.9 89.5h9.3v2.3h-9.3zM113.5 89.5h9.3v2.3h-9.3zM122.5 99.5h9.3v2.3h-9.3zM113.5 101.5h9.3v2.3h-9.3zM32.9 105.5h9.3v2.3h-9.3zM113.5 107.5h9.3v2.3h-9.3zM122.5 107.5h9.3v2.3h-9.3zM32.9 109.5h9.3v2.3h-9.3zM32.9 115.5h9.3v2.3h-9.3zM32.9 117.5h9.3v2.3h-9.3zM113.5 125.5h9.3v2.3h-9.3zM122.5 125.5h9.3v2.3h-9.3zM113.5 127.5h9.3v2.3h-9.3zM122.5 127.5h9.3v2.3h-9.3zM122.5 135.5h9.3v2.3h-9.3zM113.5 143.5h9.3v2.3h-9.3zM32.9 145.5h9.3v2.3h-9.3z"/>
<path fill="#f6e7ed" d="M167.3 61.5h9.3v2.3h-9.3zM185.2 61.5h9.3v2.3h-9.3zM221 61.5h9.3v2.3h-9.3zM221 63.5h9.3v2.3h-9.3zM167.3 65.5h9.3v2.3h-9.3zM212.1 65.5h9.3v2.3h-9.3zM221 65.5h9.3v2.3h-9.3zM158.3 69.5h9.3v2.3h-9.3zM221 79.5h9.3v2.3h-9.3zM140.4 83.5h9.3v2.3h-9.3z"/>
<path fill="#e7e1f3" d="M77.7 63.5h9.3v2.3h-9.3zM77.7 89.5h9.3v2.3h-9.3zM50.8 105.5h9.3v2.3h-9.3zM50.8 109.5h9.3v2.3h-9.3zM68.8 109.5h9.3v2.3h-9.3zM86.7 109.5h9.3v2.3h-9.3zM203.1 109.5h9.3v2.3h-9.3zM77.7 125.5h9.3v2.3h-9.3zM15 131.5h9.3v2.3h-9.3zM24 131.5h9.3v2.3h-9.3zM86.7 131.5h9.3v2.3h-9.3zM15 145.5h9.3v2.3h-9.3z"/>
<path fill="#f3edf3" d="M104.6 63.5h9.3v2.3h-9.3zM104.6 89.5h9.3v2.3h-9.3zM104.6 105.5h9.3v2.3h-9.3zM104.6 107.5h9.3v2.3h-9.3zM131.5 107.5h9.3v2.3h-9.3z"/>
<path fill="#f6d8de" d="M158.3 63.5h9.3v2.3h-9.3z"/>
<path fill="#f9eaed" d="M167.3 63.5h9.3v2.3h-9.3zM212.1 63.5h9.3v2.3h-9.3z"/>
<path fill="#e4e1f3" d="M176.2 63.5h9.3v2.3h-9.3zM176.2 89.5h9.3v2.3h-9.3zM203.1 105.5h9.3v2.3h-9.3zM176.2 107.5h9.3v2.3h-9.3zM203.1 107.5h9.3v2.3h-9.3zM176.2 113.5h9.3v2.3h-9.3zM176.2 125.5h9.3v2.3h-9.3zM176.2 145.5h9.3v2.3h-9.3z"/>
<path fill="#e7e4f0" d="M32.9 65.5h9.3v2.3h-9.3zM32.9 67.5h9.3v2.3h-9.3zM32.9 71.5h9.3v2.3h-9.3zM113.5 71.5h9.3v2.3h-9.3zM32.9 73.5h9.3v2.3h-9.3zM122.5 87.5h9.3v2.3h-9.3zM32.9 93.5h9.3v2.3h-9.3zM32.9 97.5h9.3v2.3h-9.3zM32.9 103.5h9.3v2.3h-9.3zM32.9 119.5h9.3v2.3h-9.3zM122.5 121.5h9.3v2.3h-9.3zM113.5 133.5h9.3v2.3h-9.3zM32.9 137.5h9.3v2.3h-9.3zM113.5 137.5h9.3v2.3h-9.3zM122.5 137.5h9.3v2.3h-9.3z"/>
<path fill="#eae7f0" d="M113.5 65.5h9.3v2.3h-9.3zM122.5 67.5h9.3v2.3h-9.3zM113.5 81.5h9.3v2.3h-9.3zM113.5 93.5h9.3v2.3h-9.3zM113.5 99.5h9.3v2.3h-9.3zM122.5 119.5h9.3v2.3h-9.3zM122.5 143.5h9.3v2.3h-9.3zM113.5 147.5h9.3v2.3h-9.3zM122.5 147.5h9.3v2.3h-9.3z"/>
<path fill="#f3c9c3" d="M185.2 65.5h9.3v2.3h-9.3zM158.3 67.5h9.3v2.3h-9.3zM167.3 131.5h9.3v2.3h-9.3z"/>
<path fill="#f3c3ba" d="M194.2 65.5h9.3v2.3h-9.3zM158.3 79.5h9.3v2.3h-9.3zM104.6 87.5h9.3v2.3h-9.3zM221 145.5h9.3v2.3h-9.3z"/>
<path fill="#dedbed" d="M203.1 65.5h9.3v2.3h-9.3zM176.2 67.5h9.3v2.3h-9.3zM176.2 77.5h9.3v2.3h-9.3zM176.2 85.5h9.3v2.3h-9.3zM203.1 85.5h9.3v2.3h-9.3zM176.2 87.5h9.3v2.3h-9.3zM203.1 99.5h9.3v2.3h-9.3zM176.2 123.5h9.3v2.3h-9.3zM176.2 133.5h9.3v2.3h-9.3zM203.1 133.5h9.3v2.3h-9.3zM203.1 137.5h9.3v2.3h-9.3zM176.2 139.5h9.3v2.3h-9.3zM203.1 141.5h9.3v2.3h-9.3zM176.2 147.5h9.3v2.3h-9.3zM176.2 149.5h9.3v2.3h-9.3zM203.1 149.5h9.3v2.3h-9.3zM176.2 151.5h9.3v2.3h-9.3z"/>
<path fill="#f0baab" d="M104.6 67.5h9.3v2.3h-9.3z"/>
<path fill="#f3c9c6" d="M113.5 67.5h9.3v2.3h-9.3zM167.3 73.5h9.3v2.3h-9.3zM131.5 93.5h9.3v2.3h-9.3zM104.6 101.5h9.3v2.3h-9.3zM149.4 137.5h9.3v2.3h-9.3z"/>
<path fill="#ede7ed" d="M131.5 67.5h9.3v2.3h-9.3zM104.6 75.5h9.3v2.3h-9.3zM131.5 75.5h9.3v2.3h-9.3zM104.6 79.5h9.3v2.3h-9.3zM104.6 85.5h9.3v2.3h-9.3zM131.5 95.5h9.3v2.3h-9.3zM104.6 119.5h9.3v2.3h-9.3zM131.5 133.5h9.3v2.3h-9.3zM104.6 137.5h9.3v2.3h-9.3zM131.5 137.5h9.3v2.3h-9.3zM104.6 141.5h9.3v2.3h-9.3zM104.6 147.5h9.3v2.3h-9.3z"/>
<path fill="#f0c0b7" d="M122.5 69.5h9.3v2.3h-9.3zM113.5 95.5h9.3v2.3h-9.3z"/>
<path fill="#f3ccc6" d="M185.2 69.5h9.3v2.3h-9.3z"/>
<path fill="#ead5db" d="M86.7 71.5h9.3v2.3h-9.3z"/>
<path fill="#f0e7f0" d="M104.6 71.5h9.3v2.3h-9.3zM131.5 73.5h9.3v2.3h-9.3zM104.6 81.5h9.3v2.3h-9.3zM131.5 89.5h9.3v2.3h-9.3zM104.6 93.5h9.3v2.3h-9.3zM131.5 101.5h9.3v2.3h-9.3zM104.6 103.5h9.3v2.3h-9.3zM131.5 103.5h9.3v2.3h-9.3zM104.6 111.5h9.3v2.3h-9.3zM104.6 127.5h9.3v2.3h-9.3zM104.6 143.5h9.3v2.3h-9.3zM131.5 149.5h9.3v2.3h-9.3zM104.6 151.5h9.3v2.3h-9.3z"/>
<path fill="#ede4ed" d="M131.5 71.5h9.3v2.3h-9.3zM104.6 77.5h9.3v2.3h-9.3zM131.5 77.5h9.3v2.3h-9.3zM131.5 119.5h9.3v2.3h-9.3zM131.5 121.5h9.3v2.3h-9.3zM104.6 123.5h9.3v2.3h-9.3zM104.6 133.5h9.3v2.3h-9.3zM104.6 139.5h9.3v2.3h-9.3zM131.5 141.5h9.3v2.3h-9.3z"/>
<path fill="#f0e1e4" d="M194.2 71.5h9.3v2.3h-9.3zM140.4 73.5h9.3v2.3h-9.3zM149.4 73.5h9.3v2.3h-9.3z"/>
<path fill="#f3c3bd" d="M212.1 71.5h9.3v2.3h-9.3zM122.5 103.5h9.3v2.3h-9.3zM158.3 103.5h9.3v2.3h-9.3zM104.6 115.5h9.3v2.3h-9.3z"/>
<path fill="#dbd5e7" d="M15 73.5h9.3v2.3h-9.3zM50.8 73.5h9.3v2.3h-9.3zM41.9 119.5h9.3v2.3h-9.3zM176.2 141.5h9.3v2.3h-9.3z"/>
<path fill="#eae4ea" d="M104.6 73.5h9.3v2.3h-9.3zM104.6 121.5h9.3v2.3h-9.3zM131.5 139.5h9.3v2.3h-9.3zM131.5 147.5h9.3v2.3h-9.3z"/>
<path fill="#eacfd5" d="M176.2 73.5h9.3v2.3h-9.3z"/>
<path fill="#dbd8ea" d="M203.1 73.5h9.3v2.3h-9.3zM203.1 95.5h9.3v2.3h-9.3zM203.1 103.5h9.3v2.3h-9.3zM203.1 119.5h9.3v2.3h-9.3zM176.2 121.5h9.3v2.3h-9.3zM176.2 129.5h9.3v2.3h-9.3zM203.1 129.5h9.3v2.3h-9.3zM203.1 139.5h9.3v2.3h-9.3zM203.1 147.5h9.3v2.3h-9.3z"/>
<path fill="#f3c0b4" d="M140.4 75.5h9.3v2.3h-9.3z"/>
<path fill="#f3c6bd" d="M167.3 79.5h9.3v2.3h-9.3zM185.2 93.5h9.3v2.3h-9.3z"/>
<path fill="#edd5db" d="M86.7 83.5h9.3v2.3h-9.3z"/>
<path fill="#edd2db" d="M95.6 83.5h9.3v2.3h-9.3z"/>
<path fill="#f3dbde" d="M221 87.5h9.3v2.3h-9.3zM140.4 123.5h9.3v2.3h-9.3zM104.6 129.5h9.3v2.3h-9.3zM140.4 141.5h9.3v2.3h-9.3zM149.4 141.5h9.3v2.3h-9.3z"/>
<path fill="#f0edf6" d="M122.5 89.5h9.3v2.3h-9.3zM113.5 105.5h9.3v2.3h-9.3zM122.5 145.5h9.3v2.3h-9.3z"/>
<path fill="#f9f3f6" d="M140.4 89.5h9.3v2.3h-9.3zM212.1 89.5h9.3v2.3h-9.3zM140.4 91.5h9.3v2.3h-9.3zM185.2 91.5h9.3v2.3h-9.3zM167.3 97.5h9.3v2.3h-9.3zM158.3 101.5h9.3v2.3h-9.3zM194.2 101.5h9.3v2.3h-9.3zM221 101.5h9.3v2.3h-9.3zM194.2 105.5h9.3v2.3h-9.3zM149.4 107.5h9.3v2.3h-9.3zM221 107.5h9.3v2.3h-9.3zM167.3 109.5h9.3v2.3h-9.3zM185.2 111.5h9.3v2.3h-9.3zM140.4 113.5h9.3v2.3h-9.3zM149.4 113.5h9.3v2.3h-9.3zM167.3 113.5h9.3v2.3h-9.3zM185.2 113.5h9.3v2.3h-9.3zM212.1 113.5h9.3v2.3h-9.3zM140.4 125.5h9.3v2.3h-9.3zM194.2 125.5h9.3v2.3h-9.3zM140.4 127.5h9.3v2.3h-9.3zM194.2 131.5h9.3v2.3h-9.3zM212.1 131.5h9.3v2.3h-9.3zM149.4 143.5h9.3v2.3h-9.3zM158.3 143.5h9.3v2.3h-9.3zM221 143.5h9.3v2.3h-9.3zM149.4 145.5h9.3v2.3h-9.3zM167.3 145.5h9.3v2.3h-9.3z"/>
<path fill="#f9f0f6" d="M149.4 89.5h9.3v2.3h-9.3zM167.3 89.5h9.3v2.3h-9.3zM167.3 91.5h9.3v2.3h-9.3zM194.2 91.5h9.3v2.3h-9.3zM212.1 91.5h9.3v2.3h-9.3zM212.1 97.5h9.3v2.3h-9.3zM149.4 99.5h9.3v2.3h-9.3zM194.2 99.5h9.3v2.3h-9.3zM212.1 99.5h9.3v2.3h-9.3zM158.3 105.5h9.3v2.3h-9.3zM167.3 105.5h9.3v2.3h-9.3zM140.4 107.5h9.3v2.3h-9.3zM185.2 109.5h9.3v2.3h-9.3zM212.1 109.5h9.3v2.3h-9.3zM149.4 111.5h9.3v2.3h-9.3zM158.3 111.5h9.3v2.3h-9.3zM140.4 115.5h9.3v2.3h-9.3zM158.3 115.5h9.3v2.3h-9.3zM158.3 117.5h9.3v2.3h-9.3zM212.1 117.5h9.3v2.3h-9.3zM185.2 131.5h9.3v2.3h-9.3zM149.4 135.5h9.3v2.3h-9.3zM167.3 143.5h9.3v2.3h-9.3zM194.2 145.5h9.3v2.3h-9.3zM212.1 145.5h9.3v2.3h-9.3zM185.2 149.5h9.3v2.3h-9.3zM158.3 151.5h9.3v2.3h-9.3z"/>
<path fill="#fcf3f9" d="M158.3 89.5h9.3v2.3h-9.3zM140.4 105.5h9.3v2.3h-9.3zM185.2 105.5h9.3v2.3h-9.3zM212.1 105.5h9.3v2.3h-9.3zM221 105.5h9.3v2.3h-9.3zM212.1 107.5h9.3v2.3h-9.3zM212.1 125.5h9.3v2.3h-9.3zM149.4 131.5h9.3v2.3h-9.3zM140.4 135.5h9.3v2.3h-9.3zM167.3 135.5h9.3v2.3h-9.3zM194.2 135.5h9.3v2.3h-9.3zM212.1 135.5h9.3v2.3h-9.3zM158.3 145.5h9.3v2.3h-9.3z"/>
<path fill="#f6f0f3" d="M185.2 89.5h9.3v2.3h-9.3zM194.2 89.5h9.3v2.3h-9.3zM221 89.5h9.3v2.3h-9.3zM149.4 91.5h9.3v2.3h-9.3zM158.3 91.5h9.3v2.3h-9.3zM140.4 97.5h9.3v2.3h-9.3zM158.3 97.5h9.3v2.3h-9.3zM185.2 97.5h9.3v2.3h-9.3zM194.2 97.5h9.3v2.3h-9.3zM158.3 99.5h9.3v2.3h-9.3zM185.2 99.5h9.3v2.3h-9.3zM149.4 101.5h9.3v2.3h-9.3zM167.3 101.5h9.3v2.3h-9.3zM185.2 101.5h9.3v2.3h-9.3zM212.1 101.5h9.3v2.3h-9.3zM221 103.5h9.3v2.3h-9.3zM158.3 107.5h9.3v2.3h-9.3zM194.2 107.5h9.3v2.3h-9.3zM221 109.5h9.3v2.3h-9.3zM167.3 111.5h9.3v2.3h-9.3zM194.2 111.5h9.3v2.3h-9.3zM158.3 113.5h9.3v2.3h-9.3zM194.2 113.5h9.3v2.3h-9.3zM149.4 115.5h9.3v2.3h-9.3zM167.3 115.5h9.3v2.3h-9.3zM212.1 115.5h9.3v2.3h-9.3zM221 115.5h9.3v2.3h-9.3zM140.4 117.5h9.3v2.3h-9.3zM149.4 117.5h9.3v2.3h-9.3zM167.3 117.5h9.3v2.3h-9.3zM185.2 117.5h9.3v2.3h-9.3zM221 117.5h9.3v2.3h-9.3zM140.4 121.5h9.3v2.3h-9.3zM221 121.5h9.3v2.3h-9.3zM167.3 123.5h9.3v2.3h-9.3zM221 123.5h9.3v2.3h-9.3zM185.2 125.5h9.3v2.3h-9.3zM149.4 127.5h9.3v2.3h-9.3zM158.3 127.5h9.3v2.3h-9.3zM149.4 133.5h9.3v2.3h-9.3zM167.3 133.5h9.3v2.3h-9.3zM194.2 133.5h9.3v2.3h-9.3zM212.1 133.5h9.3v2.3h-9.3zM158.3 135.5h9.3v2.3h-9.3zM185.2 135.5h9.3v2.3h-9.3zM194.2 137.5h9.3v2.3h-9.3zM212.1 137.5h9.3v2.3h-9.3zM149.4 149.5h9.3v2.3h-9.3zM167.3 149.5h9.3v2.3h-9.3zM221 149.5h9.3v2.3h-9.3zM140.4 151.5h9.3v2.3h-9.3zM149.4 151.5h9.3v2.3h-9.3zM167.3 151.5h9.3v2.3h-9.3z"/>
<path fill="#f3edf0" d="M140.4 93.5h9.3v2.3h-9.3zM149.4 93.5h9.3v2.3h-9.3zM158.3 93.5h9.3v2.3h-9.3zM167.3 93.5h9.3v2.3h-9.3zM221 93.5h9.3v2.3h-9.3zM140.4 95.5h9.3v2.3h-9.3zM158.3 95.5h9.3v2.3h-9.3zM185.2 95.5h9.3v2.3h-9.3zM194.2 95.5h9.3v2.3h-9.3zM221 95.5h9.3v2.3h-9.3zM221 97.5h9.3v2.3h-9.3zM221 99.5h9.3v2.3h-9.3zM149.4 103.5h9.3v2.3h-9.3zM185.2 103.5h9.3v2.3h-9.3zM194.2 103.5h9.3v2.3h-9.3zM212.1 119.5h9.3v2.3h-9.3zM221 119.5h9.3v2.3h-9.3zM158.3 121.5h9.3v2.3h-9.3zM167.3 121.5h9.3v2.3h-9.3zM185.2 121.5h9.3v2.3h-9.3zM212.1 121.5h9.3v2.3h-9.3zM212.1 123.5h9.3v2.3h-9.3zM149.4 129.5h9.3v2.3h-9.3zM158.3 129.5h9.3v2.3h-9.3zM194.2 129.5h9.3v2.3h-9.3zM212.1 129.5h9.3v2.3h-9.3zM140.4 133.5h9.3v2.3h-9.3zM185.2 133.5h9.3v2.3h-9.3zM221 133.5h9.3v2.3h-9.3zM185.2 137.5h9.3v2.3h-9.3zM221 137.5h9.3v2.3h-9.3zM149.4 139.5h9.3v2.3h-9.3zM158.3 139.5h9.3v2.3h-9.3zM167.3 139.5h9.3v2.3h-9.3zM221 139.5h9.3v2.3h-9.3zM194.2 141.5h9.3v2.3h-9.3zM221 141.5h9.3v2.3h-9.3zM140.4 147.5h9.3v2.3h-9.3zM140.4 149.5h9.3v2.3h-9.3zM212.1 149.5h9.3v2.3h-9.3zM185.2 151.5h9.3v2.3h-9.3zM212.1 151.5h9.3v2.3h-9.3z"/>
<path fill="#f3c9c0" d="M194.2 93.5h9.3v2.3h-9.3z"/>
<path fill="#f6edf3" d="M212.1 93.5h9.3v2.3h-9.3zM149.4 95.5h9.3v2.3h-9.3zM167.3 95.5h9.3v2.3h-9.3zM149.4 97.5h9.3v2.3h-9.3zM140.4 99.5h9.3v2.3h-9.3zM167.3 99.5h9.3v2.3h-9.3zM140.4 101.5h9.3v2.3h-9.3zM212.1 103.5h9.3v2.3h-9.3zM140.4 111.5h9.3v2.3h-9.3zM221 113.5h9.3v2.3h-9.3zM194.2 117.5h9.3v2.3h-9.3zM185.2 123.5h9.3v2.3h-9.3zM194.2 123.5h9.3v2.3h-9.3zM185.2 129.5h9.3v2.3h-9.3zM158.3 133.5h9.3v2.3h-9.3zM140.4 139.5h9.3v2.3h-9.3zM140.4 143.5h9.3v2.3h-9.3zM149.4 147.5h9.3v2.3h-9.3zM167.3 147.5h9.3v2.3h-9.3zM194.2 147.5h9.3v2.3h-9.3zM158.3 149.5h9.3v2.3h-9.3zM194.2 151.5h9.3v2.3h-9.3z"/>
<path fill="#f3eaf0" d="M212.1 95.5h9.3v2.3h-9.3zM140.4 103.5h9.3v2.3h-9.3zM140.4 119.5h9.3v2.3h-9.3zM185.2 119.5h9.3v2.3h-9.3zM194.2 119.5h9.3v2.3h-9.3zM149.4 121.5h9.3v2.3h-9.3zM194.2 139.5h9.3v2.3h-9.3zM212.1 139.5h9.3v2.3h-9.3zM185.2 141.5h9.3v2.3h-9.3zM158.3 147.5h9.3v2.3h-9.3zM185.2 147.5h9.3v2.3h-9.3z"/>
<path fill="#f6d5d5" d="M149.4 105.5h9.3v2.3h-9.3zM194.2 127.5h9.3v2.3h-9.3z"/>
<path fill="#fcf6f9" d="M167.3 107.5h9.3v2.3h-9.3zM185.2 107.5h9.3v2.3h-9.3zM158.3 109.5h9.3v2.3h-9.3zM221 125.5h9.3v2.3h-9.3zM140.4 131.5h9.3v2.3h-9.3zM140.4 145.5h9.3v2.3h-9.3zM185.2 145.5h9.3v2.3h-9.3z"/>
<path fill="#f6c6bd" d="M140.4 109.5h9.3v2.3h-9.3zM15 39h9.2v.6h-9.2z"/>
<path fill="#f6dbde" d="M194.2 109.5h9.3v2.3h-9.3zM194.2 115.5h9.3v2.3h-9.3z"/>
<path fill="#edd8e1" d="M95.6 111.5h9.3v2.3h-9.3z"/>
<path fill="#f6dbdb" d="M185.2 115.5h9.3v2.3h-9.3zM167.3 125.5h9.3v2.3h-9.3zM194.2 143.5h9.3v2.3h-9.3z"/>
<path fill="#edd5de" d="M176.2 119.5h9.3v2.3h-9.3z"/>
<path fill="#e7e4ed" d="M122.5 123.5h9.3v2.3h-9.3zM122.5 139.5h9.3v2.3h-9.3z"/>
<path fill="#f3dbe1" d="M131.5 123.5h9.3v2.3h-9.3z"/>
<path fill="#f0edf9" d="M32.9 125.5h9.3v2.3h-9.3zM122.5 131.5h9.3v2.3h-9.3zM113.5 145.5h9.3v2.3h-9.3z"/>
<path fill="#f6d8d8" d="M158.3 125.5h9.3v2.3h-9.3z"/>
<path fill="#f3d5d2" d="M212.1 127.5h9.3v2.3h-9.3z"/>
<path fill="#d5cfe4" d="M41.9 129.5h9.3v2.3h-9.3zM68.8 137.5h9.3v2.3h-9.3zM41.9 139.5h9.3v2.3h-9.3zM50.8 139.5h9.3v2.3h-9.3zM59.8 139.5h9.3v2.3h-9.3zM41.9 147.5h9.3v2.3h-9.3zM68.8 147.5h9.3v2.3h-9.3zM41.9 149.5h9.3v2.3h-9.3zM50.8 149.5h9.3v2.3h-9.3zM59.8 151.5h9.3v2.3h-9.3zM68.8 151.5h9.3v2.3h-9.3z"/>
<path fill="#d2cfe4" d="M50.8 129.5h9.3v2.3h-9.3zM59.8 137.5h9.3v2.3h-9.3zM68.8 141.5h9.3v2.3h-9.3zM50.8 147.5h9.3v2.3h-9.3z"/>
<path fill="#d5cfe7" d="M59.8 129.5h9.3v2.3h-9.3zM68.8 129.5h9.3v2.3h-9.3zM50.8 133.5h9.3v2.3h-9.3zM77.7 133.5h9.3v2.3h-9.3zM77.7 139.5h9.3v2.3h-9.3zM77.7 141.5h9.3v2.3h-9.3zM59.8 147.5h9.3v2.3h-9.3zM68.8 149.5h9.3v2.3h-9.3zM41.9 151.5h9.3v2.3h-9.3zM77.7 151.5h9.3v2.3h-9.3z"/>
<path fill="#d2cce1" d="M77.7 129.5h9.3v2.3h-9.3zM41.9 141.5h9.3v2.3h-9.3zM50.8 141.5h9.3v2.3h-9.3zM59.8 141.5h9.3v2.3h-9.3zM77.7 147.5h9.3v2.3h-9.3z"/>
<path fill="#f0d5de" d="M95.6 129.5h9.3v2.3h-9.3z"/>
<path fill="#f0eaed" d="M140.4 129.5h9.3v2.3h-9.3zM167.3 129.5h9.3v2.3h-9.3zM221 129.5h9.3v2.3h-9.3zM185.2 139.5h9.3v2.3h-9.3zM212.1 141.5h9.3v2.3h-9.3zM212.1 147.5h9.3v2.3h-9.3z"/>
<path fill="#dbd5ed" d="M41.9 131.5h9.3v2.3h-9.3zM68.8 131.5h9.3v2.3h-9.3zM77.7 131.5h9.3v2.3h-9.3z"/>
<path fill="#dbd5ea" d="M50.8 131.5h9.3v2.3h-9.3zM59.8 135.5h9.3v2.3h-9.3zM68.8 135.5h9.3v2.3h-9.3zM50.8 143.5h9.3v2.3h-9.3zM68.8 145.5h9.3v2.3h-9.3zM77.7 145.5h9.3v2.3h-9.3z"/>
<path fill="#d8d5ea" d="M59.8 131.5h9.3v2.3h-9.3zM41.9 135.5h9.3v2.3h-9.3zM59.8 143.5h9.3v2.3h-9.3z"/>
<path fill="#f6edf6" d="M104.6 131.5h9.3v2.3h-9.3zM131.5 145.5h9.3v2.3h-9.3z"/>
<path fill="#f3c6c3" d="M158.3 131.5h9.3v2.3h-9.3z"/>
<path fill="#ead5de" d="M41.9 133.5h9.3v2.3h-9.3z"/>
<path fill="#d5d2e7" d="M59.8 133.5h9.3v2.3h-9.3zM50.8 135.5h9.3v2.3h-9.3zM77.7 143.5h9.3v2.3h-9.3zM59.8 149.5h9.3v2.3h-9.3zM77.7 149.5h9.3v2.3h-9.3zM50.8 151.5h9.3v2.3h-9.3z"/>
<path fill="#d2cce4" d="M68.8 133.5h9.3v2.3h-9.3zM68.8 139.5h9.3v2.3h-9.3z"/>
<path fill="#d8d2e7" d="M77.7 135.5h9.3v2.3h-9.3zM41.9 137.5h9.3v2.3h-9.3zM50.8 137.5h9.3v2.3h-9.3zM77.7 137.5h9.3v2.3h-9.3zM41.9 143.5h9.3v2.3h-9.3z"/>
<path fill="#f3d2cf" d="M140.4 137.5h9.3v2.3h-9.3z"/>
<path fill="#e4e1ed" d="M32.9 141.5h9.3v2.3h-9.3zM113.5 141.5h9.3v2.3h-9.3z"/>
<path fill="#d8d2ea" d="M68.8 143.5h9.3v2.3h-9.3zM50.8 145.5h9.3v2.3h-9.3zM59.8 145.5h9.3v2.3h-9.3z"/>
<path fill="#edd2d8" d="M203.1 143.5h9.3v2.3h-9.3z"/>
<path fill="#dbd8ed" d="M41.9 145.5h9.3v2.3h-9.3z"/>
<path fill="#e1332d" d="M15 39.4h9.2v6.2h-9.2zM24 25.5h9.2v2.1h-9.2zM41.9 48.4h9.2v4.8h-9.2zM50.8 23h9.2v2.1h-9.2zM59.8 38h9.2v3.5h-9.2zM68.8 36h9.2v1.7h-9.2zM77.7 33.8h9.2v1.8h-9.2zM86.7 21.5h9.2v1.5h-9.2zM95.6 53.2h9.2v1.8h-9.2zM113.5 31h9.2v2.8h-9.2zM131.5 87h9.2v41.8h-9.2zM149.4 56.7h9.2v3.5h-9.2zM158.3 69h9.2v1.8h-9.2zM167.3 63.5h9.2v2.9h-9.2zM176.2 66.8h9.2v1.8h-9.2zM185.2 59.5h9.2v3.6h-9.2zM194.2 71.5h9.2v3.7h-9.2zM212.1 78h9.2v3.7h-9.2zM221 83.2h9.2v3.4h-9.2z"/>
<path fill="#f3a590" d="M15 45.6h9.2v1.9h-9.2z"/>
<path fill="#ed7869" d="M32.9 28h9.2v1.5h-9.2zM41.9 41.5h9.2v1.5h-9.2zM50.8 28.3h9.2v1.4h-9.2zM59.8 48.4h9.2v1.1h-9.2zM122.5 29.7h9.2v1.3h-9.2zM131.5 61.5h9.2v1.5h-9.2zM131.5 75.8h9.2v2.8h-9.2zM140.4 51.9h9.2v1.3h-9.2zM158.3 150.4h9.2v3.1h-9.2zM167.3 150.4h9.2v3.1h-9.2zM203.1 55h9.2v1.5h-9.2zM113.5 128.8h9.2v1.4h-9.2z"/>
<path fill="#f38d78" d="M131.5 128.8h9.2v3.4h-9.2z"/>
<path fill="#f9dbc9" d="M131.5 132.2h9.2v2.1h-9.2z"/>
<path fill="#ed5a3c" d="M131.5 134.3h9.2v1.7h-9.2z"/>
<path fill="#f06f5a" d="M131.5 148h9.2v4.5h-9.2z"/>
<path fill="#e7453c" d="M140.4 45.6h9.2v1.8h-9.2z"/>
<path fill="#e13c36" d="M158.3 134.3h9.2v1.5h-9.2z"/>
<path fill="#f06f54" d="M212.1 75.9h9.2v2.1h-9.2z"/>
<path fill="#f6bd9f" d="M95.6 80h9.2v2h-9.2z"/>
<path fill="#f09681" d="M32.9 130h9.2v1.5h-9.2z"/>
<path fill="#f3ab9f" d="M149.4 120h9.2v3h-9.2z"/>
<path fill="#f3dede" d="M15 33h9.2v2.2h-9.2z"/>
<path fill="#f6ccc9" d="M15 37h9.2v2.2h-9.2z"/>
<path fill="#f9c9ba" d="M104.6 88.4h9.2v2.2h-9.2zM104.6 96.4h9.2v2.2h-9.2z"/>
<path fill="#f6bda8" d="M104.6 90.4h9.2v2.2h-9.2zM104.6 92.4h9.2v2.2h-9.2z"/>
<path fill="#f6ae99" d="M104.6 94.4h9.2v2.2h-9.2z"/>
<path fill="#f6b19c" d="M104.6 98.4h9.2v2.2h-9.2z"/>
<path fill="#f6b49f" d="M104.6 100.4h9.2v2.2h-9.2zM104.6 102.4h9.2v2.2h-9.2z"/>
<path fill="#f9ccbd" d="M104.6 104.4h9.2v.4h-9.2z"/>
<path fill="#f9e4e1" d="M104.6 104.6h9.2v2.2h-9.2zM104.6 116.6h9.2v2.2h-9.2zM104.6 124.6h9.2v2.2h-9.2z"/>
<path fill="#f6d2cc" d="M104.6 106.6h9.2v2.2h-9.2z"/>
<path fill="#f6dbd5" d="M104.6 108.6h9.2v2.2h-9.2z"/>
<path fill="#f9dbd5" d="M104.6 110.6h9.2v2.2h-9.2z"/>
<path fill="#f6d8d5" d="M104.6 112.6h9.2v2.2h-9.2z"/>
<path fill="#f6d8d2" d="M104.6 114.6h9.2v2.2h-9.2zM104.6 126.6h9.2v1.6h-9.2z"/>
<path fill="#f9e7e1" d="M104.6 118.6h9.2v2.2h-9.2zM104.6 120.6h9.2v2.2h-9.2z"/>
<path fill="#f9e1db" d="M104.6 122.6h9.2v2.2h-9.2z"/>
<path fill="#e75a45" d="M104.6 131.8h9.2v2.2h-9.2z"/>
<path fill="#e13c2d" d="M104.6 133.8h9.2v2.2h-9.2zM104.6 135.8h9.2v2.2h-9.2z"/>
<path fill="#ea5d45" d="M104.6 137.8h9.2v2.2h-9.2z"/>
<path fill="#ed6c51" d="M104.6 139.8h9.2v2.2h-9.2z"/>
<path fill="#ea664b" d="M104.6 141.8h9.2v2.2h-9.2z"/>
<path fill="#e75742" d="M104.6 143.8h9.2v2.2h-9.2z"/>
<path fill="#f07e5d" d="M104.6 145.8h9.2v2.2h-9.2z"/>
<path fill="#f08163" d="M104.6 147.8h9.2v2.2h-9.2z"/>
<path fill="#e7543f" d="M104.6 149.8h9.2v2.2h-9.2z"/>
<path fill="#f08160" d="M104.6 151.8h9.2v.6h-9.2z"/>
<path fill="#e43930" d="M131.5 136h9.2v2.2h-9.2z"/>
<path fill="#e44236" d="M131.5 138h9.2v2.2h-9.2z"/>
<path fill="#ea5442" d="M131.5 140h9.2v2.2h-9.2z"/>
<path fill="#e43630" d="M131.5 142h9.2v2.2h-9.2z"/>
<path fill="#f06c4e" d="M131.5 144h9.2v2.2h-9.2z"/>
<path fill="#ed634b" d="M131.5 146h9.2v2.2h-9.2z"/>
<path fill="#ed6348" d="M131.5 148h9.2v2.2h-9.2z"/>
</g>
<rect x="15.00" y="17.20" width="71.87" height="4.30" fill="#5b87c5"/>
<rect x="86.67" y="17.20" width="62.91" height="4.30" fill="#35a94b"/>
<rect x="149.38" y="17.20" width="27.07" height="4.30" fill="#d6262c"/>
<rect x="176.25" y="17.20" width="53.95" height="4.30" fill="#e79896"/>
<rect x="15.00" y="16.00" width="133.18" height="1.20" fill="#222"/>
<rect x="149.78" y="16.00" width="80.22" height="1.20" fill="#222"/>
<text x="88.00" y="12.80" font-size="6.8" text-anchor="middle" fill="#222">RIS group</text>
<text x="187.30" y="12.80" font-size="6.8" text-anchor="middle" fill="#222">SARC group</text>
<g>
<path fill="#d5deea" d="M275.7 19.5h6.5v3.3h-6.5zM281.9 19.5h6.5v3.3h-6.5zM288.1 19.5h6.5v3.3h-6.5zM294.4 19.5h6.5v3.3h-6.5zM300.6 19.5h6.5v3.3h-6.5zM306.8 19.5h6.5v3.3h-6.5zM319.3 19.5h6.5v3.3h-6.5zM325.5 19.5h6.5v3.3h-6.5zM331.7 19.5h6.5v3.3h-6.5zM281.9 22.5h6.5v3.3h-6.5zM294.4 22.5h6.5v3.3h-6.5zM300.6 22.5h6.5v3.3h-6.5zM313 22.5h6.5v3.3h-6.5zM319.3 22.5h6.5v3.3h-6.5zM325.5 22.5h6.5v3.3h-6.5zM331.7 22.5h6.5v3.3h-6.5zM288.1 25.5h6.5v3.3h-6.5zM306.8 25.5h6.5v3.3h-6.5zM319.3 25.5h6.5v3.3h-6.5zM325.5 25.5h6.5v3.3h-6.5zM331.7 25.5h6.5v3.3h-6.5zM275.7 28.5h6.5v3.3h-6.5zM281.9 28.5h6.5v3.3h-6.5zM288.1 28.5h6.5v3.3h-6.5zM294.4 28.5h6.5v3.3h-6.5zM300.6 28.5h6.5v3.3h-6.5zM306.8 28.5h6.5v3.3h-6.5zM313 28.5h6.5v3.3h-6.5zM319.3 28.5h6.5v3.3h-6.5zM325.5 28.5h6.5v3.3h-6.5zM331.7 28.5h6.5v3.3h-6.5zM275.7 31.5h6.5v3.3h-6.5zM281.9 31.5h6.5v3.3h-6.5zM288.1 31.5h6.5v3.3h-6.5zM300.6 31.5h6.5v3.3h-6.5zM306.8 31.5h6.5v3.3h-6.5zM313 31.5h6.5v3.3h-6.5zM319.3 31.5h6.5v3.3h-6.5zM325.5 31.5h6.5v3.3h-6.5zM331.7 31.5h6.5v3.3h-6.5zM281.9 34.5h6.5v3.3h-6.5zM288.1 34.5h6.5v3.3h-6.5zM294.4 34.5h6.5v3.3h-6.5zM300.6 34.5h6.5v3.3h-6.5zM306.8 34.5h6.5v3.3h-6.5zM319.3 34.5h6.5v3.3h-6.5zM325.5 34.5h6.5v3.3h-6.5zM331.7 34.5h6.5v3.3h-6.5zM300.6 145.5h6.5v3.3h-6.5z"/>
<path fill="#f3f3f9" d="M313 19.5h6.5v3.3h-6.5zM275.7 22.5h6.5v3.3h-6.5zM288.1 22.5h6.5v3.3h-6.5zM306.8 22.5h6.5v3.3h-6.5zM275.7 25.5h6.5v3.3h-6.5zM281.9 25.5h6.5v3.3h-6.5zM294.4 25.5h6.5v3.3h-6.5zM300.6 25.5h6.5v3.3h-6.5zM313 25.5h6.5v3.3h-6.5zM294.4 31.5h6.5v3.3h-6.5zM275.7 34.5h6.5v3.3h-6.5zM313 34.5h6.5v3.3h-6.5zM313 37.5h6.5v3.3h-6.5zM325.5 37.5h6.5v3.3h-6.5zM319.3 40.5h6.5v3.3h-6.5zM294.4 46.5h6.5v3.3h-6.5zM300.6 46.5h6.5v3.3h-6.5zM313 49.5h6.5v3.3h-6.5zM313 52.5h6.5v3.3h-6.5zM300.6 55.5h6.5v3.3h-6.5zM331.7 55.5h6.5v3.3h-6.5zM300.6 58.5h6.5v3.3h-6.5zM275.7 61.5h6.5v3.3h-6.5zM306.8 61.5h6.5v3.3h-6.5zM319.3 61.5h6.5v3.3h-6.5zM275.7 64.5h6.5v3.3h-6.5zM300.6 64.5h6.5v3.3h-6.5zM306.8 64.5h6.5v3.3h-6.5zM288.1 67.5h6.5v3.3h-6.5zM306.8 73.5h6.5v3.3h-6.5zM313 73.5h6.5v3.3h-6.5zM319.3 73.5h6.5v3.3h-6.5zM313 76.5h6.5v3.3h-6.5zM325.5 76.5h6.5v3.3h-6.5zM294.4 79.5h6.5v3.3h-6.5zM331.7 79.5h6.5v3.3h-6.5zM319.3 82.5h6.5v3.3h-6.5zM281.9 88.5h6.5v3.3h-6.5zM325.5 88.5h6.5v3.3h-6.5zM294.4 94.5h6.5v3.3h-6.5zM313 94.5h6.5v3.3h-6.5zM300.6 97.5h6.5v3.3h-6.5zM275.7 100.5h6.5v3.3h-6.5zM281.9 100.5h6.5v3.3h-6.5zM288.1 100.5h6.5v3.3h-6.5zM275.7 103.5h6.5v3.3h-6.5zM300.6 103.5h6.5v3.3h-6.5zM300.6 112.5h6.5v3.3h-6.5zM306.8 112.5h6.5v3.3h-6.5zM288.1 115.5h6.5v3.3h-6.5zM319.3 115.5h6.5v3.3h-6.5zM325.5 115.5h6.5v3.3h-6.5zM281.9 118.5h6.5v3.3h-6.5zM306.8 118.5h6.5v3.3h-6.5zM331.7 118.5h6.5v3.3h-6.5zM275.7 121.5h6.5v3.3h-6.5zM313 124.5h6.5v3.3h-6.5zM319.3 124.5h6.5v3.3h-6.5zM325.5 124.5h6.5v3.3h-6.5zM275.7 127.5h6.5v3.3h-6.5zM288.1 130.5h6.5v3.3h-6.5zM313 130.5h6.5v3.3h-6.5zM319.3 130.5h6.5v3.3h-6.5zM325.5 130.5h6.5v3.3h-6.5zM294.4 133.5h6.5v3.3h-6.5zM300.6 133.5h6.5v3.3h-6.5zM331.7 133.5h6.5v3.3h-6.5zM313 136.5h6.5v3.3h-6.5zM325.5 139.5h6.5v3.3h-6.5zM331.7 139.5h6.5v3.3h-6.5zM306.8 142.5h6.5v3.3h-6.5zM331.7 142.5h6.5v3.3h-6.5zM294.4 145.5h6.5v3.3h-6.5zM319.3 145.5h6.5v3.3h-6.5zM325.5 145.5h6.5v3.3h-6.5zM275.7 148.5h6.5v3.3h-6.5zM275.7 151.5h6.5v3.3h-6.5zM294.4 151.5h6.5v3.3h-6.5zM325.5 151.5h6.5v3.3h-6.5z"/>
<path fill="#f6eaed" d="M337.9 19.5h6.5v3.3h-6.5zM344.2 19.5h6.5v3.3h-6.5zM350.4 19.5h6.5v3.3h-6.5zM337.9 22.5h6.5v3.3h-6.5zM344.2 22.5h6.5v3.3h-6.5zM350.4 22.5h6.5v3.3h-6.5zM337.9 25.5h6.5v3.3h-6.5zM344.2 25.5h6.5v3.3h-6.5zM350.4 25.5h6.5v3.3h-6.5zM337.9 28.5h6.5v3.3h-6.5zM344.2 28.5h6.5v3.3h-6.5zM350.4 28.5h6.5v3.3h-6.5zM337.9 31.5h6.5v3.3h-6.5zM344.2 31.5h6.5v3.3h-6.5zM350.4 31.5h6.5v3.3h-6.5zM337.9 34.5h6.5v3.3h-6.5zM344.2 34.5h6.5v3.3h-6.5zM350.4 34.5h6.5v3.3h-6.5zM337.9 37.5h6.5v3.3h-6.5zM344.2 37.5h6.5v3.3h-6.5zM350.4 37.5h6.5v3.3h-6.5zM337.9 40.5h6.5v3.3h-6.5zM344.2 40.5h6.5v3.3h-6.5zM350.4 40.5h6.5v3.3h-6.5zM337.9 43.5h6.5v3.3h-6.5zM344.2 43.5h6.5v3.3h-6.5zM350.4 43.5h6.5v3.3h-6.5zM337.9 46.5h6.5v3.3h-6.5zM344.2 46.5h6.5v3.3h-6.5zM350.4 46.5h6.5v3.3h-6.5zM337.9 49.5h6.5v3.3h-6.5zM344.2 49.5h6.5v3.3h-6.5zM350.4 49.5h6.5v3.3h-6.5zM337.9 52.5h6.5v3.3h-6.5zM344.2 52.5h6.5v3.3h-6.5zM350.4 52.5h6.5v3.3h-6.5zM337.9 55.5h6.5v3.3h-6.5zM344.2 55.5h6.5v3.3h-6.5zM350.4 55.5h6.5v3.3h-6.5zM337.9 58.5h6.5v3.3h-6.5zM344.2 58.5h6.5v3.3h-6.5zM350.4 58.5h6.5v3.3h-6.5zM337.9 61.5h6.5v3.3h-6.5zM344.2 61.5h6.5v3.3h-6.5zM350.4 61.5h6.5v3.3h-6.5zM337.9 64.5h6.5v3.3h-6.5zM344.2 64.5h6.5v3.3h-6.5zM350.4 64.5h6.5v3.3h-6.5zM337.9 67.5h6.5v3.3h-6.5zM344.2 67.5h6.5v3.3h-6.5zM350.4 67.5h6.5v3.3h-6.5zM337.9 70.5h6.5v3.3h-6.5zM344.2 70.5h6.5v3.3h-6.5zM350.4 70.5h6.5v3.3h-6.5zM337.9 73.5h6.5v3.3h-6.5zM344.2 73.5h6.5v3.3h-6.5zM350.4 73.5h6.5v3.3h-6.5z"/>
<path fill="#cfdeea" d="M275.7 37.5h6.5v3.3h-6.5zM275.7 97.5h6.5v3.3h-6.5z"/>
<path fill="#cfd2de" d="M281.9 37.5h6.5v3.3h-6.5zM325.5 40.5h6.5v3.3h-6.5z"/>
<path fill="#ccd8e4" d="M288.1 37.5h6.5v3.3h-6.5z"/>
<path fill="#d5d2e7" d="M294.4 37.5h6.5v3.3h-6.5z"/>
<path fill="#cfd5e1" d="M300.6 37.5h6.5v3.3h-6.5zM300.6 73.5h6.5v3.3h-6.5z"/>
<path fill="#f3dbde" d="M306.8 37.5h6.5v3.3h-6.5zM313 40.5h6.5v3.3h-6.5zM331.7 40.5h6.5v3.3h-6.5zM331.7 49.5h6.5v3.3h-6.5zM331.7 52.5h6.5v3.3h-6.5zM281.9 58.5h6.5v3.3h-6.5zM288.1 58.5h6.5v3.3h-6.5zM294.4 61.5h6.5v3.3h-6.5zM300.6 61.5h6.5v3.3h-6.5zM294.4 64.5h6.5v3.3h-6.5zM313 64.5h6.5v3.3h-6.5zM275.7 67.5h6.5v3.3h-6.5zM313 67.5h6.5v3.3h-6.5zM288.1 70.5h6.5v3.3h-6.5zM294.4 73.5h6.5v3.3h-6.5zM288.1 76.5h6.5v3.3h-6.5zM300.6 76.5h6.5v3.3h-6.5zM319.3 76.5h6.5v3.3h-6.5zM275.7 79.5h6.5v3.3h-6.5zM288.1 79.5h6.5v3.3h-6.5zM313 79.5h6.5v3.3h-6.5zM319.3 79.5h6.5v3.3h-6.5zM325.5 79.5h6.5v3.3h-6.5zM281.9 82.5h6.5v3.3h-6.5zM300.6 82.5h6.5v3.3h-6.5zM288.1 85.5h6.5v3.3h-6.5zM300.6 85.5h6.5v3.3h-6.5zM275.7 88.5h6.5v3.3h-6.5zM294.4 88.5h6.5v3.3h-6.5zM300.6 88.5h6.5v3.3h-6.5zM319.3 88.5h6.5v3.3h-6.5zM281.9 91.5h6.5v3.3h-6.5zM288.1 91.5h6.5v3.3h-6.5zM294.4 91.5h6.5v3.3h-6.5zM319.3 91.5h6.5v3.3h-6.5zM331.7 91.5h6.5v3.3h-6.5zM300.6 94.5h6.5v3.3h-6.5zM306.8 97.5h6.5v3.3h-6.5zM300.6 100.5h6.5v3.3h-6.5zM306.8 100.5h6.5v3.3h-6.5zM325.5 100.5h6.5v3.3h-6.5zM281.9 103.5h6.5v3.3h-6.5zM288.1 103.5h6.5v3.3h-6.5zM313 103.5h6.5v3.3h-6.5zM325.5 103.5h6.5v3.3h-6.5zM275.7 106.5h6.5v3.3h-6.5zM281.9 109.5h6.5v3.3h-6.5zM300.6 109.5h6.5v3.3h-6.5zM313 109.5h6.5v3.3h-6.5zM319.3 109.5h6.5v3.3h-6.5zM325.5 109.5h6.5v3.3h-6.5zM319.3 112.5h6.5v3.3h-6.5zM306.8 115.5h6.5v3.3h-6.5zM288.1 118.5h6.5v3.3h-6.5zM319.3 118.5h6.5v3.3h-6.5zM288.1 121.5h6.5v3.3h-6.5zM294.4 121.5h6.5v3.3h-6.5zM300.6 121.5h6.5v3.3h-6.5zM325.5 121.5h6.5v3.3h-6.5zM281.9 124.5h6.5v3.3h-6.5zM294.4 124.5h6.5v3.3h-6.5zM294.4 127.5h6.5v3.3h-6.5zM306.8 127.5h6.5v3.3h-6.5zM313 127.5h6.5v3.3h-6.5zM275.7 130.5h6.5v3.3h-6.5zM281.9 130.5h6.5v3.3h-6.5zM275.7 133.5h6.5v3.3h-6.5zM281.9 133.5h6.5v3.3h-6.5zM275.7 139.5h6.5v3.3h-6.5zM300.6 139.5h6.5v3.3h-6.5zM319.3 142.5h6.5v3.3h-6.5zM325.5 142.5h6.5v3.3h-6.5zM281.9 145.5h6.5v3.3h-6.5zM300.6 148.5h6.5v3.3h-6.5zM300.6 151.5h6.5v3.3h-6.5zM313 151.5h6.5v3.3h-6.5z"/>
<path fill="#d8d5e4" d="M319.3 37.5h6.5v3.3h-6.5zM300.6 67.5h6.5v3.3h-6.5zM331.7 94.5h6.5v3.3h-6.5zM294.4 118.5h6.5v3.3h-6.5z"/>
<path fill="#cce1e1" d="M331.7 37.5h6.5v3.3h-6.5z"/>
<path fill="#d5d5e1" d="M275.7 40.5h6.5v3.3h-6.5zM294.4 136.5h6.5v3.3h-6.5z"/>
<path fill="#ccdbe1" d="M281.9 40.5h6.5v3.3h-6.5z"/>
<path fill="#cfd8ed" d="M288.1 40.5h6.5v3.3h-6.5zM325.5 73.5h6.5v3.3h-6.5zM281.9 127.5h6.5v3.3h-6.5z"/>
<path fill="#d2dee1" d="M294.4 40.5h6.5v3.3h-6.5zM275.7 73.5h6.5v3.3h-6.5zM325.5 148.5h6.5v3.3h-6.5z"/>
<path fill="#d8dee1" d="M300.6 40.5h6.5v3.3h-6.5z"/>
<path fill="#d5dee1" d="M306.8 40.5h6.5v3.3h-6.5z"/>
<path fill="#d5d5ea" d="M275.7 43.5h6.5v3.3h-6.5zM325.5 55.5h6.5v3.3h-6.5zM275.7 58.5h6.5v3.3h-6.5z"/>
<path fill="#cfd5ea" d="M281.9 43.5h6.5v3.3h-6.5z"/>
<path fill="#ccd8ea" d="M288.1 43.5h6.5v3.3h-6.5z"/>
<path fill="#cfdee1" d="M294.4 43.5h6.5v3.3h-6.5z"/>
<path fill="#cfd8de" d="M300.6 43.5h6.5v3.3h-6.5z"/>
<path fill="#cfdbe1" d="M306.8 43.5h6.5v3.3h-6.5zM331.7 76.5h6.5v3.3h-6.5z"/>
<path fill="#d8e1e7" d="M313 43.5h6.5v3.3h-6.5zM331.7 61.5h6.5v3.3h-6.5z"/>
<path fill="#d2d2de" d="M319.3 43.5h6.5v3.3h-6.5z"/>
<path fill="#d8dbed" d="M325.5 43.5h6.5v3.3h-6.5zM331.7 58.5h6.5v3.3h-6.5zM331.7 112.5h6.5v3.3h-6.5z"/>
<path fill="#d5d8ea" d="M331.7 43.5h6.5v3.3h-6.5zM294.4 55.5h6.5v3.3h-6.5zM331.7 127.5h6.5v3.3h-6.5zM288.1 145.5h6.5v3.3h-6.5z"/>
<path fill="#d8d2e7" d="M275.7 46.5h6.5v3.3h-6.5z"/>
<path fill="#d8dbea" d="M281.9 46.5h6.5v3.3h-6.5zM331.7 70.5h6.5v3.3h-6.5zM275.7 94.5h6.5v3.3h-6.5zM331.7 151.5h6.5v3.3h-6.5z"/>
<path fill="#d8d5e7" d="M288.1 46.5h6.5v3.3h-6.5zM300.6 49.5h6.5v3.3h-6.5zM319.3 67.5h6.5v3.3h-6.5z"/>
<path fill="#d5dee7" d="M306.8 46.5h6.5v3.3h-6.5zM275.7 70.5h6.5v3.3h-6.5zM288.1 73.5h6.5v3.3h-6.5zM331.7 106.5h6.5v3.3h-6.5zM300.6 127.5h6.5v3.3h-6.5zM294.4 142.5h6.5v3.3h-6.5zM313 142.5h6.5v3.3h-6.5z"/>
<path fill="#cfdbe7" d="M313 46.5h6.5v3.3h-6.5zM325.5 46.5h6.5v3.3h-6.5zM288.1 55.5h6.5v3.3h-6.5zM325.5 67.5h6.5v3.3h-6.5zM306.8 109.5h6.5v3.3h-6.5z"/>
<path fill="#d5e1ea" d="M319.3 46.5h6.5v3.3h-6.5zM306.8 139.5h6.5v3.3h-6.5z"/>
<path fill="#d8d2ea" d="M331.7 46.5h6.5v3.3h-6.5z"/>
<path fill="#d2d8e1" d="M275.7 49.5h6.5v3.3h-6.5z"/>
<path fill="#d2dbed" d="M281.9 49.5h6.5v3.3h-6.5zM313 97.5h6.5v3.3h-6.5z"/>
<path fill="#c9d5e7" d="M288.1 49.5h6.5v3.3h-6.5z"/>
<path fill="#ccdee7" d="M294.4 49.5h6.5v3.3h-6.5z"/>
<path fill="#cfdeed" d="M306.8 49.5h6.5v3.3h-6.5z"/>
<path fill="#d2d5e1" d="M319.3 49.5h6.5v3.3h-6.5z"/>
<path fill="#d8deea" d="M325.5 49.5h6.5v3.3h-6.5zM281.9 79.5h6.5v3.3h-6.5zM350.4 100.5h6.5v3.3h-6.5z"/>
<path fill="#ccd8e1" d="M275.7 52.5h6.5v3.3h-6.5zM275.7 55.5h6.5v3.3h-6.5z"/>
<path fill="#cfdbe4" d="M281.9 52.5h6.5v3.3h-6.5zM325.5 82.5h6.5v3.3h-6.5zM319.3 127.5h6.5v3.3h-6.5z"/>
<path fill="#d8e1e4" d="M288.1 52.5h6.5v3.3h-6.5zM319.3 100.5h6.5v3.3h-6.5zM331.7 136.5h6.5v3.3h-6.5z"/>
<path fill="#c9dede" d="M294.4 52.5h6.5v3.3h-6.5z"/>
<path fill="#d2d5ea" d="M300.6 52.5h6.5v3.3h-6.5z"/>
<path fill="#ccd8de" d="M306.8 52.5h6.5v3.3h-6.5z"/>
<path fill="#ccd2e7" d="M319.3 52.5h6.5v3.3h-6.5zM325.5 58.5h6.5v3.3h-6.5z"/>
<path fill="#d2dbea" d="M325.5 52.5h6.5v3.3h-6.5zM275.7 115.5h6.5v3.3h-6.5zM313 121.5h6.5v3.3h-6.5z"/>
<path fill="#d2dbe1" d="M281.9 55.5h6.5v3.3h-6.5z"/>
<path fill="#d8dbe1" d="M306.8 55.5h6.5v3.3h-6.5z"/>
<path fill="#d2dee4" d="M313 55.5h6.5v3.3h-6.5zM325.5 70.5h6.5v3.3h-6.5zM294.4 112.5h6.5v3.3h-6.5zM313 115.5h6.5v3.3h-6.5z"/>
<path fill="#d8deed" d="M319.3 55.5h6.5v3.3h-6.5zM300.6 70.5h6.5v3.3h-6.5z"/>
<path fill="#d5d5ed" d="M294.4 58.5h6.5v3.3h-6.5zM319.3 139.5h6.5v3.3h-6.5zM281.9 148.5h6.5v3.3h-6.5z"/>
<path fill="#ccd8e7" d="M306.8 58.5h6.5v3.3h-6.5z"/>
<path fill="#d2d2ea" d="M313 58.5h6.5v3.3h-6.5z"/>
<path fill="#d5d5e4" d="M319.3 58.5h6.5v3.3h-6.5zM325.5 91.5h6.5v3.3h-6.5zM288.1 133.5h6.5v3.3h-6.5z"/>
<path fill="#ccd5e4" d="M281.9 61.5h6.5v3.3h-6.5zM325.5 64.5h6.5v3.3h-6.5zM313 70.5h6.5v3.3h-6.5zM331.7 73.5h6.5v3.3h-6.5zM275.7 76.5h6.5v3.3h-6.5zM275.7 82.5h6.5v3.3h-6.5zM306.8 82.5h6.5v3.3h-6.5zM275.7 85.5h6.5v3.3h-6.5zM331.7 85.5h6.5v3.3h-6.5zM288.1 88.5h6.5v3.3h-6.5zM306.8 94.5h6.5v3.3h-6.5zM288.1 97.5h6.5v3.3h-6.5zM294.4 100.5h6.5v3.3h-6.5zM281.9 106.5h6.5v3.3h-6.5zM275.7 109.5h6.5v3.3h-6.5zM294.4 109.5h6.5v3.3h-6.5zM313 112.5h6.5v3.3h-6.5zM294.4 115.5h6.5v3.3h-6.5zM275.7 124.5h6.5v3.3h-6.5zM288.1 127.5h6.5v3.3h-6.5zM294.4 130.5h6.5v3.3h-6.5zM275.7 136.5h6.5v3.3h-6.5zM288.1 142.5h6.5v3.3h-6.5zM300.6 142.5h6.5v3.3h-6.5zM313 148.5h6.5v3.3h-6.5z"/>
<path fill="#d2dbe4" d="M288.1 61.5h6.5v3.3h-6.5zM331.7 67.5h6.5v3.3h-6.5zM313 133.5h6.5v3.3h-6.5zM275.7 142.5h6.5v3.3h-6.5z"/>
<path fill="#f0b7ba" d="M313 61.5h6.5v3.3h-6.5zM281.9 67.5h6.5v3.3h-6.5zM281.9 70.5h6.5v3.3h-6.5zM294.4 70.5h6.5v3.3h-6.5zM319.3 70.5h6.5v3.3h-6.5zM300.6 79.5h6.5v3.3h-6.5zM306.8 79.5h6.5v3.3h-6.5zM306.8 91.5h6.5v3.3h-6.5zM281.9 97.5h6.5v3.3h-6.5zM294.4 97.5h6.5v3.3h-6.5zM319.3 97.5h6.5v3.3h-6.5zM294.4 103.5h6.5v3.3h-6.5zM306.8 103.5h6.5v3.3h-6.5zM319.3 103.5h6.5v3.3h-6.5zM331.7 103.5h6.5v3.3h-6.5zM275.7 112.5h6.5v3.3h-6.5zM281.9 112.5h6.5v3.3h-6.5zM288.1 112.5h6.5v3.3h-6.5zM325.5 112.5h6.5v3.3h-6.5zM300.6 115.5h6.5v3.3h-6.5zM313 118.5h6.5v3.3h-6.5zM319.3 121.5h6.5v3.3h-6.5zM300.6 130.5h6.5v3.3h-6.5zM306.8 130.5h6.5v3.3h-6.5zM331.7 130.5h6.5v3.3h-6.5zM325.5 133.5h6.5v3.3h-6.5zM300.6 136.5h6.5v3.3h-6.5zM281.9 142.5h6.5v3.3h-6.5zM306.8 145.5h6.5v3.3h-6.5zM294.4 148.5h6.5v3.3h-6.5zM319.3 151.5h6.5v3.3h-6.5z"/>
<path fill="#d2deed" d="M325.5 61.5h6.5v3.3h-6.5zM281.9 121.5h6.5v3.3h-6.5zM306.8 151.5h6.5v3.3h-6.5z"/>
<path fill="#d5dbea" d="M281.9 64.5h6.5v3.3h-6.5zM331.7 88.5h6.5v3.3h-6.5zM325.5 94.5h6.5v3.3h-6.5zM344.2 100.5h6.5v3.3h-6.5z"/>
<path fill="#dbdbe7" d="M288.1 64.5h6.5v3.3h-6.5z"/>
<path fill="#d5dbed" d="M319.3 64.5h6.5v3.3h-6.5zM306.8 106.5h6.5v3.3h-6.5z"/>
<path fill="#d5d8e7" d="M331.7 64.5h6.5v3.3h-6.5zM306.8 67.5h6.5v3.3h-6.5zM281.9 85.5h6.5v3.3h-6.5zM325.5 127.5h6.5v3.3h-6.5z"/>
<path fill="#cfdbed" d="M294.4 67.5h6.5v3.3h-6.5z"/>
<path fill="#d2e1e4" d="M306.8 70.5h6.5v3.3h-6.5z"/>
<path fill="#d5e1ed" d="M281.9 73.5h6.5v3.3h-6.5zM306.8 136.5h6.5v3.3h-6.5z"/>
<path fill="#cfe1e7" d="M281.9 76.5h6.5v3.3h-6.5z"/>
<path fill="#d5dbe7" d="M294.4 76.5h6.5v3.3h-6.5zM288.1 82.5h6.5v3.3h-6.5z"/>
<path fill="#d5dee4" d="M306.8 76.5h6.5v3.3h-6.5zM313 82.5h6.5v3.3h-6.5zM313 100.5h6.5v3.3h-6.5zM300.6 106.5h6.5v3.3h-6.5zM300.6 118.5h6.5v3.3h-6.5z"/>
<path fill="#bdc6de" d="M337.9 76.5h6.5v3.3h-6.5zM350.4 88.5h6.5v3.3h-6.5zM337.9 109.5h6.5v3.3h-6.5z"/>
<path fill="#bdc6db" d="M344.2 76.5h6.5v3.3h-6.5zM344.2 127.5h6.5v3.3h-6.5z"/>
<path fill="#bac6e1" d="M350.4 76.5h6.5v3.3h-6.5z"/>
<path fill="#bac3db" d="M337.9 79.5h6.5v3.3h-6.5zM344.2 91.5h6.5v3.3h-6.5zM337.9 94.5h6.5v3.3h-6.5zM350.4 133.5h6.5v3.3h-6.5z"/>
<path fill="#bac0db" d="M344.2 79.5h6.5v3.3h-6.5z"/>
<path fill="#bac6db" d="M350.4 79.5h6.5v3.3h-6.5zM337.9 91.5h6.5v3.3h-6.5zM344.2 94.5h6.5v3.3h-6.5zM337.9 130.5h6.5v3.3h-6.5z"/>
<path fill="#dbdeea" d="M294.4 82.5h6.5v3.3h-6.5z"/>
<path fill="#d8dbe7" d="M331.7 82.5h6.5v3.3h-6.5zM294.4 85.5h6.5v3.3h-6.5z"/>
<path fill="#bdc6e1" d="M337.9 82.5h6.5v3.3h-6.5z"/>
<path fill="#bac6d8" d="M344.2 82.5h6.5v3.3h-6.5zM350.4 82.5h6.5v3.3h-6.5z"/>
<path fill="#d2deea" d="M306.8 85.5h6.5v3.3h-6.5zM275.7 91.5h6.5v3.3h-6.5zM337.9 100.5h6.5v3.3h-6.5zM275.7 145.5h6.5v3.3h-6.5z"/>
<path fill="#d8d8e1" d="M313 85.5h6.5v3.3h-6.5z"/>
<path fill="#cfd8ea" d="M319.3 85.5h6.5v3.3h-6.5zM288.1 124.5h6.5v3.3h-6.5zM294.4 139.5h6.5v3.3h-6.5z"/>
<path fill="#d8dee4" d="M325.5 85.5h6.5v3.3h-6.5zM331.7 100.5h6.5v3.3h-6.5z"/>
<path fill="#bdc3de" d="M337.9 85.5h6.5v3.3h-6.5z"/>
<path fill="#b7c6e1" d="M344.2 85.5h6.5v3.3h-6.5zM344.2 106.5h6.5v3.3h-6.5z"/>
<path fill="#b7c6de" d="M350.4 85.5h6.5v3.3h-6.5zM350.4 127.5h6.5v3.3h-6.5z"/>
<path fill="#d5dbe4" d="M306.8 88.5h6.5v3.3h-6.5zM288.1 109.5h6.5v3.3h-6.5z"/>
<path fill="#d5d5e7" d="M313 88.5h6.5v3.3h-6.5zM281.9 115.5h6.5v3.3h-6.5z"/>
<path fill="#bac9e1" d="M337.9 88.5h6.5v3.3h-6.5z"/>
<path fill="#bac3d8" d="M344.2 88.5h6.5v3.3h-6.5zM350.4 106.5h6.5v3.3h-6.5z"/>
<path fill="#d2e1ed" d="M300.6 91.5h6.5v3.3h-6.5zM319.3 136.5h6.5v3.3h-6.5z"/>
<path fill="#cfd8e7" d="M313 91.5h6.5v3.3h-6.5zM288.1 106.5h6.5v3.3h-6.5z"/>
<path fill="#bac9d8" d="M350.4 91.5h6.5v3.3h-6.5zM344.2 133.5h6.5v3.3h-6.5zM344.2 142.5h6.5v3.3h-6.5z"/>
<path fill="#d2d8ed" d="M281.9 94.5h6.5v3.3h-6.5z"/>
<path fill="#d5e1e7" d="M288.1 94.5h6.5v3.3h-6.5zM281.9 139.5h6.5v3.3h-6.5zM281.9 151.5h6.5v3.3h-6.5z"/>
<path fill="#cfe1e4" d="M319.3 94.5h6.5v3.3h-6.5z"/>
<path fill="#b7c3de" d="M350.4 94.5h6.5v3.3h-6.5zM344.2 139.5h6.5v3.3h-6.5zM350.4 139.5h6.5v3.3h-6.5z"/>
<path fill="#d2d8e7" d="M325.5 97.5h6.5v3.3h-6.5zM281.9 136.5h6.5v3.3h-6.5z"/>
<path fill="#d2d8ea" d="M331.7 97.5h6.5v3.3h-6.5zM325.5 106.5h6.5v3.3h-6.5zM306.8 121.5h6.5v3.3h-6.5zM288.1 139.5h6.5v3.3h-6.5zM288.1 148.5h6.5v3.3h-6.5z"/>
<path fill="#bac6de" d="M337.9 97.5h6.5v3.3h-6.5zM337.9 145.5h6.5v3.3h-6.5z"/>
<path fill="#bac3de" d="M344.2 97.5h6.5v3.3h-6.5zM337.9 133.5h6.5v3.3h-6.5zM337.9 136.5h6.5v3.3h-6.5zM350.4 142.5h6.5v3.3h-6.5z"/>
<path fill="#bdc3d8" d="M350.4 97.5h6.5v3.3h-6.5zM344.2 130.5h6.5v3.3h-6.5z"/>
<path fill="#d8e1ea" d="M337.9 103.5h6.5v3.3h-6.5zM331.7 121.5h6.5v3.3h-6.5zM319.3 133.5h6.5v3.3h-6.5z"/>
<path fill="#d5deed" d="M344.2 103.5h6.5v3.3h-6.5zM319.3 148.5h6.5v3.3h-6.5z"/>
<path fill="#d2dbe7" d="M350.4 103.5h6.5v3.3h-6.5z"/>
<path fill="#dbd5e7" d="M294.4 106.5h6.5v3.3h-6.5z"/>
<path fill="#cfd8e4" d="M313 106.5h6.5v3.3h-6.5zM331.7 109.5h6.5v3.3h-6.5z"/>
<path fill="#d8dbe4" d="M319.3 106.5h6.5v3.3h-6.5z"/>
<path fill="#b7c9de" d="M337.9 106.5h6.5v3.3h-6.5zM350.4 136.5h6.5v3.3h-6.5z"/>
<path fill="#bdc3db" d="M344.2 109.5h6.5v3.3h-6.5z"/>
<path fill="#b7c6d8" d="M350.4 109.5h6.5v3.3h-6.5z"/>
<path fill="#a8bdd2" d="M337.9 112.5h6.5v3.3h-6.5z"/>
<path fill="#abbad2" d="M344.2 112.5h6.5v3.3h-6.5zM350.4 115.5h6.5v3.3h-6.5zM337.9 121.5h6.5v3.3h-6.5zM337.9 148.5h6.5v3.3h-6.5zM337.9 151.5h6.5v3.3h-6.5zM350.4 151.5h6.5v3.3h-6.5z"/>
<path fill="#aeb7d2" d="M350.4 112.5h6.5v3.3h-6.5zM350.4 148.5h6.5v3.3h-6.5z"/>
<path fill="#dbdee4" d="M331.7 115.5h6.5v3.3h-6.5z"/>
<path fill="#aeb7d5" d="M337.9 115.5h6.5v3.3h-6.5z"/>
<path fill="#abb7d5" d="M344.2 115.5h6.5v3.3h-6.5z"/>
<path fill="#d8d8ed" d="M275.7 118.5h6.5v3.3h-6.5z"/>
<path fill="#d2d8e4" d="M325.5 118.5h6.5v3.3h-6.5zM306.8 148.5h6.5v3.3h-6.5z"/>
<path fill="#a8bdd5" d="M337.9 118.5h6.5v3.3h-6.5z"/>
<path fill="#abbad8" d="M344.2 118.5h6.5v3.3h-6.5z"/>
<path fill="#aebad5" d="M350.4 118.5h6.5v3.3h-6.5z"/>
<path fill="#aebdd5" d="M344.2 121.5h6.5v3.3h-6.5z"/>
<path fill="#aebdd2" d="M350.4 121.5h6.5v3.3h-6.5zM350.4 124.5h6.5v3.3h-6.5z"/>
<path fill="#d8d8e7" d="M300.6 124.5h6.5v3.3h-6.5zM325.5 136.5h6.5v3.3h-6.5zM331.7 148.5h6.5v3.3h-6.5z"/>
<path fill="#dbd8ed" d="M306.8 124.5h6.5v3.3h-6.5z"/>
<path fill="#d8e1ed" d="M331.7 124.5h6.5v3.3h-6.5z"/>
<path fill="#aeb7d8" d="M337.9 124.5h6.5v3.3h-6.5z"/>
<path fill="#abbdd2" d="M344.2 124.5h6.5v3.3h-6.5z"/>
<path fill="#b4c6d8" d="M337.9 127.5h6.5v3.3h-6.5z"/>
<path fill="#bac9de" d="M350.4 130.5h6.5v3.3h-6.5zM337.9 142.5h6.5v3.3h-6.5z"/>
<path fill="#cfdee7" d="M306.8 133.5h6.5v3.3h-6.5z"/>
<path fill="#d8dee7" d="M288.1 136.5h6.5v3.3h-6.5z"/>
<path fill="#b4c3de" d="M344.2 136.5h6.5v3.3h-6.5zM350.4 145.5h6.5v3.3h-6.5z"/>
<path fill="#d2e1ea" d="M313 139.5h6.5v3.3h-6.5z"/>
<path fill="#bac0de" d="M337.9 139.5h6.5v3.3h-6.5z"/>
<path fill="#cfd5e7" d="M313 145.5h6.5v3.3h-6.5z"/>
<path fill="#d8d5ed" d="M331.7 145.5h6.5v3.3h-6.5z"/>
<path fill="#b7c3db" d="M344.2 145.5h6.5v3.3h-6.5z"/>
<path fill="#a8bdd8" d="M344.2 148.5h6.5v3.3h-6.5z"/>
<path fill="#dbdbe1" d="M288.1 151.5h6.5v3.3h-6.5z"/>
<path fill="#abb7d2" d="M344.2 151.5h6.5v3.3h-6.5z"/>
<path fill="#ea5a5a" d="M337.9 20h6.4v2.5h-6.4z"/>
<path fill="#e75151" d="M337.9 37.5h6.4v2.5h-6.4z"/>
<path fill="#f3c3c3" d="M337.9 40h6.4v17.5h-6.4z"/>
<path fill="#ed8d8d" d="M337.9 57.5h6.4v7.5h-6.4z"/>
<path fill="#e74545" d="M337.9 65h6.4v2h-6.4zM275.7 151.6h6.4v2.9h-6.4z"/>
<path fill="#e12727" d="M344.2 21h6.4v14h-6.4zM350.4 37.5h6.4v27.5h-6.4zM294.4 66h6.4v7.7h-6.4zM306.8 72h6.4v11h-6.4zM281.9 85.5h6.4v5h-6.4zM281.9 127h6.4v6.8h-6.4zM300.6 92.3h6.4v21.2h-6.4zM331.7 143h6.4v2.7h-6.4zM319.3 106h6.4v6.7h-6.4zM288.1 133.8h6.4v8.5h-6.4zM275.7 145.7h6.4v3.3h-6.4z"/>
<path fill="#f3b4b4" d="M344.2 43.7h6.4v10h-6.4zM313 110h6.4v16h-6.4z"/>
<path fill="#ed7878" d="M344.2 53.7h6.4v8.8h-6.4zM281.9 90.5h6.4v3.5h-6.4zM325.5 97h6.4v4h-6.4z"/>
<path fill="#f3c9c9" d="M344.2 62.5h6.4v5.5h-6.4zM350.4 20h6.4v5h-6.4zM350.4 65h6.4v3h-6.4z"/>
<path fill="#f0a5a5" d="M281.9 108.5h6.4v18.5h-6.4z"/>
<path fill="#ed6f6f" d="M331.7 89h6.4v7.5h-6.4z"/>
<path fill="#e73c3c" d="M319.3 119.5h6.4v4.2h-6.4z"/>
<path fill="#ed6363" d="M306.8 120h6.4v5h-6.4z"/>
<path fill="#f09696" d="M288.1 63h6.4v3h-6.4zM294.4 114h6.4v4h-6.4z"/>
<path fill="#f3abab" d="M313 80h6.4v4h-6.4z"/>
</g>
<rect x="275.70" y="16.20" width="62.23" height="2.50" fill="#5b87c0"/>
<rect x="337.93" y="16.20" width="18.67" height="2.50" fill="#d8454e"/>
<text x="298.80" y="13.80" font-size="6.8" text-anchor="middle" fill="#222">RIFS</text>
<text x="345.60" y="13.80" font-size="6.8" text-anchor="middle" fill="#222">FS</text>
<text x="359.80" y="27.50" font-size="6.6" font-weight="bold" fill="#111">Group</text>
<rect x="359.80" y="32.50" width="5.20" height="5.00" fill="#4a8ad0"/>
<text x="368.30" y="37.50" font-size="6.6" fill="#222">RIFS</text>
<rect x="359.80" y="40.20" width="5.20" height="5.00" fill="#e0141c"/>
<text x="368.30" y="45.50" font-size="6.6" fill="#222">FS</text>
<text x="359.90" y="79.60" font-size="6.6" font-weight="bold" fill="#111">Gene</text>
<text x="359.90" y="87.80" font-size="6.6" font-weight="bold" fill="#111">expression</text>
<rect x="360.80" y="96.00" width="4.40" height="37.10" fill="url(#gB)"/>
<text x="371.50" y="99.30" font-size="6.6" text-anchor="end" fill="#222">3</text>
<text x="371.50" y="116.60" font-size="6.6" text-anchor="end" fill="#222">0</text>
<text x="374.50" y="135.40" font-size="6.6" text-anchor="end" fill="#222">−3</text>
<g>
<path fill="#dee4f0" d="M403.3 19.5h7.2v2.3h-7.2zM403.3 27.5h7.2v2.3h-7.2zM437.7 27.5h7.2v2.3h-7.2zM458.4 27.5h7.2v2.3h-7.2zM403.3 29.5h7.2v2.3h-7.2zM451.5 29.5h7.2v2.3h-7.2zM403.3 33.5h7.2v2.3h-7.2zM423.9 37.5h7.2v2.3h-7.2zM444.6 37.5h7.2v2.3h-7.2zM458.4 37.5h7.2v2.3h-7.2zM465.2 37.5h7.2v2.3h-7.2zM472.1 37.5h7.2v2.3h-7.2zM472.1 39.5h7.2v2.3h-7.2zM403.3 41.5h7.2v2.3h-7.2zM423.9 41.5h7.2v2.3h-7.2zM437.7 41.5h7.2v2.3h-7.2zM444.6 41.5h7.2v2.3h-7.2zM458.4 41.5h7.2v2.3h-7.2zM423.9 45.5h7.2v2.3h-7.2zM451.5 45.5h7.2v2.3h-7.2zM458.4 45.5h7.2v2.3h-7.2zM444.6 59.5h7.2v2.3h-7.2zM423.9 65.5h7.2v2.3h-7.2zM444.6 65.5h7.2v2.3h-7.2zM472.1 65.5h7.2v2.3h-7.2zM472.1 73.5h7.2v2.3h-7.2zM437.7 75.5h7.2v2.3h-7.2zM458.4 75.5h7.2v2.3h-7.2zM472.1 75.5h7.2v2.3h-7.2zM451.5 79.5h7.2v2.3h-7.2zM458.4 79.5h7.2v2.3h-7.2zM465.2 79.5h7.2v2.3h-7.2zM403.3 81.5h7.2v2.3h-7.2zM423.9 81.5h7.2v2.3h-7.2zM451.5 81.5h7.2v2.3h-7.2zM423.9 85.5h7.2v2.3h-7.2zM444.6 85.5h7.2v2.3h-7.2zM458.4 85.5h7.2v2.3h-7.2zM472.1 85.5h7.2v2.3h-7.2zM472.1 89.5h7.2v2.3h-7.2zM403.3 97.5h7.2v2.3h-7.2zM451.5 107.5h7.2v2.3h-7.2zM472.1 111.5h7.2v2.3h-7.2zM423.9 113.5h7.2v2.3h-7.2zM403.3 115.5h7.2v2.3h-7.2zM444.6 115.5h7.2v2.3h-7.2z"/>
<path fill="#f0f0f3" d="M410.2 19.5h7.2v2.3h-7.2zM410.2 59.5h7.2v2.3h-7.2zM410.2 61.5h7.2v2.3h-7.2z"/>
<path fill="#e4eaf0" d="M417.1 19.5h7.2v2.3h-7.2zM417.1 39.5h7.2v2.3h-7.2zM417.1 81.5h7.2v2.3h-7.2z"/>
<path fill="#dee1ed" d="M423.9 19.5h7.2v2.3h-7.2zM451.5 19.5h7.2v2.3h-7.2zM423.9 25.5h7.2v2.3h-7.2zM444.6 25.5h7.2v2.3h-7.2zM458.4 29.5h7.2v2.3h-7.2zM465.2 31.5h7.2v2.3h-7.2zM423.9 33.5h7.2v2.3h-7.2zM458.4 33.5h7.2v2.3h-7.2zM465.2 39.5h7.2v2.3h-7.2zM423.9 57.5h7.2v2.3h-7.2zM472.1 57.5h7.2v2.3h-7.2zM403.3 59.5h7.2v2.3h-7.2zM437.7 59.5h7.2v2.3h-7.2zM458.4 59.5h7.2v2.3h-7.2zM458.4 61.5h7.2v2.3h-7.2zM458.4 71.5h7.2v2.3h-7.2zM423.9 73.5h7.2v2.3h-7.2zM444.6 73.5h7.2v2.3h-7.2zM451.5 83.5h7.2v2.3h-7.2zM444.6 91.5h7.2v2.3h-7.2zM403.3 101.5h7.2v2.3h-7.2zM458.4 101.5h7.2v2.3h-7.2zM472.1 107.5h7.2v2.3h-7.2zM458.4 113.5h7.2v2.3h-7.2zM423.9 115.5h7.2v2.3h-7.2zM472.1 115.5h7.2v2.3h-7.2z"/>
<path fill="#edf0f6" d="M430.8 19.5h7.2v2.3h-7.2zM430.8 35.5h7.2v2.3h-7.2zM430.8 45.5h7.2v2.3h-7.2zM430.8 71.5h7.2v2.3h-7.2zM430.8 81.5h7.2v2.3h-7.2zM430.8 83.5h7.2v2.3h-7.2zM410.2 97.5h7.2v2.3h-7.2zM410.2 103.5h7.2v2.3h-7.2zM430.8 107.5h7.2v2.3h-7.2zM410.2 113.5h7.2v2.3h-7.2zM410.2 115.5h7.2v2.3h-7.2z"/>
<path fill="#dbe1ed" d="M437.7 19.5h7.2v2.3h-7.2zM423.9 21.5h7.2v2.3h-7.2zM444.6 21.5h7.2v2.3h-7.2zM403.3 25.5h7.2v2.3h-7.2zM458.4 25.5h7.2v2.3h-7.2zM465.2 25.5h7.2v2.3h-7.2zM472.1 25.5h7.2v2.3h-7.2zM423.9 31.5h7.2v2.3h-7.2zM451.5 31.5h7.2v2.3h-7.2zM472.1 33.5h7.2v2.3h-7.2zM437.7 35.5h7.2v2.3h-7.2zM451.5 35.5h7.2v2.3h-7.2zM458.4 35.5h7.2v2.3h-7.2zM472.1 35.5h7.2v2.3h-7.2zM437.7 47.5h7.2v2.3h-7.2zM458.4 49.5h7.2v2.3h-7.2zM451.5 51.5h7.2v2.3h-7.2zM437.7 53.5h7.2v2.3h-7.2zM472.1 53.5h7.2v2.3h-7.2zM444.6 57.5h7.2v2.3h-7.2zM451.5 57.5h7.2v2.3h-7.2zM458.4 57.5h7.2v2.3h-7.2zM403.3 61.5h7.2v2.3h-7.2zM423.9 61.5h7.2v2.3h-7.2zM451.5 61.5h7.2v2.3h-7.2zM465.2 61.5h7.2v2.3h-7.2zM472.1 61.5h7.2v2.3h-7.2zM403.3 67.5h7.2v2.3h-7.2zM437.7 67.5h7.2v2.3h-7.2zM444.6 67.5h7.2v2.3h-7.2zM451.5 67.5h7.2v2.3h-7.2zM444.6 69.5h7.2v2.3h-7.2zM458.4 69.5h7.2v2.3h-7.2zM403.3 71.5h7.2v2.3h-7.2zM451.5 71.5h7.2v2.3h-7.2zM465.2 71.5h7.2v2.3h-7.2zM403.3 73.5h7.2v2.3h-7.2zM451.5 73.5h7.2v2.3h-7.2zM458.4 73.5h7.2v2.3h-7.2zM465.2 77.5h7.2v2.3h-7.2zM458.4 83.5h7.2v2.3h-7.2zM465.2 83.5h7.2v2.3h-7.2zM472.1 83.5h7.2v2.3h-7.2zM437.7 87.5h7.2v2.3h-7.2zM458.4 87.5h7.2v2.3h-7.2zM465.2 87.5h7.2v2.3h-7.2zM472.1 87.5h7.2v2.3h-7.2zM403.3 91.5h7.2v2.3h-7.2zM423.9 91.5h7.2v2.3h-7.2zM472.1 91.5h7.2v2.3h-7.2zM444.6 93.5h7.2v2.3h-7.2zM444.6 101.5h7.2v2.3h-7.2zM451.5 101.5h7.2v2.3h-7.2zM465.2 101.5h7.2v2.3h-7.2zM472.1 101.5h7.2v2.3h-7.2zM437.7 103.5h7.2v2.3h-7.2zM458.4 103.5h7.2v2.3h-7.2zM472.1 103.5h7.2v2.3h-7.2zM451.5 105.5h7.2v2.3h-7.2zM458.4 109.5h7.2v2.3h-7.2zM423.9 111.5h7.2v2.3h-7.2zM444.6 111.5h7.2v2.3h-7.2z"/>
<path fill="#dee4ed" d="M444.6 19.5h7.2v2.3h-7.2zM451.5 25.5h7.2v2.3h-7.2zM451.5 27.5h7.2v2.3h-7.2zM444.6 29.5h7.2v2.3h-7.2zM465.2 29.5h7.2v2.3h-7.2zM472.1 29.5h7.2v2.3h-7.2zM465.2 33.5h7.2v2.3h-7.2zM451.5 41.5h7.2v2.3h-7.2zM472.1 45.5h7.2v2.3h-7.2zM423.9 59.5h7.2v2.3h-7.2zM451.5 59.5h7.2v2.3h-7.2zM403.3 63.5h7.2v2.3h-7.2zM458.4 63.5h7.2v2.3h-7.2zM465.2 63.5h7.2v2.3h-7.2zM437.7 65.5h7.2v2.3h-7.2zM437.7 73.5h7.2v2.3h-7.2zM465.2 73.5h7.2v2.3h-7.2zM444.6 75.5h7.2v2.3h-7.2zM403.3 79.5h7.2v2.3h-7.2zM423.9 79.5h7.2v2.3h-7.2zM444.6 79.5h7.2v2.3h-7.2zM472.1 81.5h7.2v2.3h-7.2zM403.3 89.5h7.2v2.3h-7.2zM423.9 89.5h7.2v2.3h-7.2zM444.6 89.5h7.2v2.3h-7.2zM458.4 89.5h7.2v2.3h-7.2zM437.7 91.5h7.2v2.3h-7.2zM423.9 97.5h7.2v2.3h-7.2zM458.4 97.5h7.2v2.3h-7.2zM465.2 97.5h7.2v2.3h-7.2zM472.1 97.5h7.2v2.3h-7.2zM423.9 107.5h7.2v2.3h-7.2zM444.6 107.5h7.2v2.3h-7.2zM451.5 111.5h7.2v2.3h-7.2zM458.4 111.5h7.2v2.3h-7.2zM465.2 111.5h7.2v2.3h-7.2zM451.5 113.5h7.2v2.3h-7.2zM451.5 115.5h7.2v2.3h-7.2zM458.4 115.5h7.2v2.3h-7.2zM423.9 147.5h7.2v2.3h-7.2z"/>
<path fill="#dbe1f0" d="M458.4 19.5h7.2v2.3h-7.2zM465.2 19.5h7.2v2.3h-7.2zM437.7 21.5h7.2v2.3h-7.2zM458.4 31.5h7.2v2.3h-7.2zM437.7 33.5h7.2v2.3h-7.2zM423.9 35.5h7.2v2.3h-7.2zM465.2 81.5h7.2v2.3h-7.2zM451.5 89.5h7.2v2.3h-7.2z"/>
<path fill="#dee1f0" d="M472.1 19.5h7.2v2.3h-7.2zM403.3 21.5h7.2v2.3h-7.2zM451.5 21.5h7.2v2.3h-7.2zM437.7 29.5h7.2v2.3h-7.2zM451.5 33.5h7.2v2.3h-7.2zM403.3 37.5h7.2v2.3h-7.2zM403.3 39.5h7.2v2.3h-7.2zM444.6 45.5h7.2v2.3h-7.2zM465.2 59.5h7.2v2.3h-7.2zM465.2 65.5h7.2v2.3h-7.2zM437.7 79.5h7.2v2.3h-7.2zM444.6 81.5h7.2v2.3h-7.2zM465.2 89.5h7.2v2.3h-7.2zM437.7 97.5h7.2v2.3h-7.2zM451.5 97.5h7.2v2.3h-7.2zM465.2 107.5h7.2v2.3h-7.2zM437.7 113.5h7.2v2.3h-7.2zM465.2 113.5h7.2v2.3h-7.2zM472.1 113.5h7.2v2.3h-7.2z"/>
<path fill="#f0f0f6" d="M410.2 21.5h7.2v2.3h-7.2zM430.8 25.5h7.2v2.3h-7.2zM430.8 29.5h7.2v2.3h-7.2zM410.2 33.5h7.2v2.3h-7.2zM430.8 33.5h7.2v2.3h-7.2zM410.2 45.5h7.2v2.3h-7.2zM430.8 57.5h7.2v2.3h-7.2zM430.8 65.5h7.2v2.3h-7.2zM430.8 85.5h7.2v2.3h-7.2zM430.8 113.5h7.2v2.3h-7.2zM437.7 119.5h7.2v2.3h-7.2zM437.7 121.5h7.2v2.3h-7.2zM403.3 123.5h7.2v2.3h-7.2z"/>
<path fill="#e4e7f0" d="M417.1 21.5h7.2v2.3h-7.2zM417.1 33.5h7.2v2.3h-7.2zM417.1 35.5h7.2v2.3h-7.2zM417.1 45.5h7.2v2.3h-7.2zM417.1 59.5h7.2v2.3h-7.2zM417.1 65.5h7.2v2.3h-7.2zM417.1 67.5h7.2v2.3h-7.2zM417.1 73.5h7.2v2.3h-7.2zM417.1 111.5h7.2v2.3h-7.2zM417.1 113.5h7.2v2.3h-7.2zM403.3 129.5h7.2v2.3h-7.2z"/>
<path fill="#f0edf6" d="M430.8 21.5h7.2v2.3h-7.2zM430.8 73.5h7.2v2.3h-7.2zM410.2 89.5h7.2v2.3h-7.2zM423.9 119.5h7.2v2.3h-7.2z"/>
<path fill="#dbe4f0" d="M458.4 21.5h7.2v2.3h-7.2zM423.9 29.5h7.2v2.3h-7.2zM444.6 33.5h7.2v2.3h-7.2zM458.4 39.5h7.2v2.3h-7.2zM403.3 45.5h7.2v2.3h-7.2zM458.4 65.5h7.2v2.3h-7.2zM437.7 81.5h7.2v2.3h-7.2zM437.7 89.5h7.2v2.3h-7.2zM444.6 97.5h7.2v2.3h-7.2z"/>
<path fill="#dbe4ed" d="M465.2 21.5h7.2v2.3h-7.2zM403.3 35.5h7.2v2.3h-7.2zM444.6 35.5h7.2v2.3h-7.2zM437.7 39.5h7.2v2.3h-7.2zM444.6 39.5h7.2v2.3h-7.2zM451.5 39.5h7.2v2.3h-7.2zM437.7 45.5h7.2v2.3h-7.2zM465.2 45.5h7.2v2.3h-7.2zM403.3 57.5h7.2v2.3h-7.2zM465.2 57.5h7.2v2.3h-7.2zM458.4 81.5h7.2v2.3h-7.2zM403.3 83.5h7.2v2.3h-7.2zM423.9 101.5h7.2v2.3h-7.2zM403.3 103.5h7.2v2.3h-7.2zM465.2 103.5h7.2v2.3h-7.2zM403.3 111.5h7.2v2.3h-7.2zM437.7 111.5h7.2v2.3h-7.2zM403.3 113.5h7.2v2.3h-7.2zM444.6 113.5h7.2v2.3h-7.2zM437.7 115.5h7.2v2.3h-7.2zM465.2 115.5h7.2v2.3h-7.2z"/>
<path fill="#dee1ea" d="M472.1 21.5h7.2v2.3h-7.2zM444.6 31.5h7.2v2.3h-7.2zM465.2 35.5h7.2v2.3h-7.2zM451.5 91.5h7.2v2.3h-7.2z"/>
<path fill="#dbdeed" d="M403.3 23.5h7.2v2.3h-7.2zM444.6 23.5h7.2v2.3h-7.2zM451.5 53.5h7.2v2.3h-7.2zM465.2 53.5h7.2v2.3h-7.2zM423.9 55.5h7.2v2.3h-7.2zM437.7 57.5h7.2v2.3h-7.2zM437.7 77.5h7.2v2.3h-7.2zM472.1 77.5h7.2v2.3h-7.2zM437.7 83.5h7.2v2.3h-7.2zM403.3 87.5h7.2v2.3h-7.2zM451.5 87.5h7.2v2.3h-7.2zM437.7 95.5h7.2v2.3h-7.2zM444.6 109.5h7.2v2.3h-7.2z"/>
<path fill="#edf0f3" d="M410.2 23.5h7.2v2.3h-7.2zM410.2 35.5h7.2v2.3h-7.2zM410.2 47.5h7.2v2.3h-7.2zM430.8 59.5h7.2v2.3h-7.2zM410.2 67.5h7.2v2.3h-7.2zM430.8 69.5h7.2v2.3h-7.2zM430.8 77.5h7.2v2.3h-7.2zM430.8 87.5h7.2v2.3h-7.2zM430.8 91.5h7.2v2.3h-7.2zM410.2 101.5h7.2v2.3h-7.2zM430.8 103.5h7.2v2.3h-7.2z"/>
<path fill="#e1e4f0" d="M417.1 23.5h7.2v2.3h-7.2zM472.1 27.5h7.2v2.3h-7.2zM451.5 37.5h7.2v2.3h-7.2zM465.2 41.5h7.2v2.3h-7.2zM472.1 41.5h7.2v2.3h-7.2zM417.1 49.5h7.2v2.3h-7.2zM444.6 63.5h7.2v2.3h-7.2zM423.9 75.5h7.2v2.3h-7.2zM465.2 75.5h7.2v2.3h-7.2zM403.3 107.5h7.2v2.3h-7.2zM437.7 107.5h7.2v2.3h-7.2zM437.7 143.5h7.2v2.3h-7.2zM403.3 145.5h7.2v2.3h-7.2z"/>
<path fill="#d8e1ed" d="M423.9 23.5h7.2v2.3h-7.2zM437.7 49.5h7.2v2.3h-7.2zM458.4 67.5h7.2v2.3h-7.2zM465.2 67.5h7.2v2.3h-7.2zM444.6 87.5h7.2v2.3h-7.2zM451.5 95.5h7.2v2.3h-7.2zM451.5 103.5h7.2v2.3h-7.2zM444.6 105.5h7.2v2.3h-7.2zM403.3 109.5h7.2v2.3h-7.2zM472.1 109.5h7.2v2.3h-7.2z"/>
<path fill="#edeaf6" d="M430.8 23.5h7.2v2.3h-7.2z"/>
<path fill="#d8deed" d="M437.7 23.5h7.2v2.3h-7.2zM437.7 43.5h7.2v2.3h-7.2zM444.6 47.5h7.2v2.3h-7.2zM465.2 47.5h7.2v2.3h-7.2zM403.3 51.5h7.2v2.3h-7.2zM465.2 55.5h7.2v2.3h-7.2zM423.9 77.5h7.2v2.3h-7.2zM465.2 105.5h7.2v2.3h-7.2z"/>
<path fill="#dbdeea" d="M451.5 23.5h7.2v2.3h-7.2zM423.9 43.5h7.2v2.3h-7.2zM451.5 43.5h7.2v2.3h-7.2zM451.5 47.5h7.2v2.3h-7.2zM444.6 55.5h7.2v2.3h-7.2zM437.7 69.5h7.2v2.3h-7.2zM451.5 77.5h7.2v2.3h-7.2zM458.4 77.5h7.2v2.3h-7.2zM451.5 93.5h7.2v2.3h-7.2zM423.9 99.5h7.2v2.3h-7.2zM403.3 105.5h7.2v2.3h-7.2zM472.1 105.5h7.2v2.3h-7.2z"/>
<path fill="#d8deea" d="M458.4 23.5h7.2v2.3h-7.2zM465.2 43.5h7.2v2.3h-7.2zM403.3 47.5h7.2v2.3h-7.2zM437.7 51.5h7.2v2.3h-7.2zM444.6 51.5h7.2v2.3h-7.2zM451.5 55.5h7.2v2.3h-7.2zM403.3 93.5h7.2v2.3h-7.2zM423.9 93.5h7.2v2.3h-7.2zM465.2 93.5h7.2v2.3h-7.2zM444.6 95.5h7.2v2.3h-7.2zM444.6 99.5h7.2v2.3h-7.2zM472.1 99.5h7.2v2.3h-7.2zM437.7 105.5h7.2v2.3h-7.2zM458.4 105.5h7.2v2.3h-7.2zM437.7 109.5h7.2v2.3h-7.2zM410.2 117.5h7.2v2.3h-7.2zM410.2 131.5h7.2v2.3h-7.2zM437.7 141.5h7.2v2.3h-7.2zM403.3 149.5h7.2v2.3h-7.2zM410.2 149.5h7.2v2.3h-7.2zM423.9 149.5h7.2v2.3h-7.2zM430.8 149.5h7.2v2.3h-7.2z"/>
<path fill="#dbe1ea" d="M465.2 23.5h7.2v2.3h-7.2zM437.7 25.5h7.2v2.3h-7.2zM403.3 31.5h7.2v2.3h-7.2zM437.7 31.5h7.2v2.3h-7.2zM472.1 31.5h7.2v2.3h-7.2zM444.6 43.5h7.2v2.3h-7.2zM458.4 43.5h7.2v2.3h-7.2zM423.9 47.5h7.2v2.3h-7.2zM458.4 47.5h7.2v2.3h-7.2zM472.1 47.5h7.2v2.3h-7.2zM444.6 49.5h7.2v2.3h-7.2zM465.2 49.5h7.2v2.3h-7.2zM472.1 49.5h7.2v2.3h-7.2zM458.4 51.5h7.2v2.3h-7.2zM472.1 51.5h7.2v2.3h-7.2zM403.3 53.5h7.2v2.3h-7.2zM423.9 53.5h7.2v2.3h-7.2zM444.6 53.5h7.2v2.3h-7.2zM458.4 53.5h7.2v2.3h-7.2zM472.1 55.5h7.2v2.3h-7.2zM472.1 59.5h7.2v2.3h-7.2zM444.6 61.5h7.2v2.3h-7.2zM472.1 67.5h7.2v2.3h-7.2zM403.3 69.5h7.2v2.3h-7.2zM423.9 69.5h7.2v2.3h-7.2zM451.5 69.5h7.2v2.3h-7.2zM472.1 69.5h7.2v2.3h-7.2zM437.7 71.5h7.2v2.3h-7.2zM472.1 71.5h7.2v2.3h-7.2zM403.3 77.5h7.2v2.3h-7.2zM444.6 77.5h7.2v2.3h-7.2zM423.9 83.5h7.2v2.3h-7.2zM423.9 87.5h7.2v2.3h-7.2zM465.2 91.5h7.2v2.3h-7.2zM437.7 93.5h7.2v2.3h-7.2zM458.4 93.5h7.2v2.3h-7.2zM403.3 95.5h7.2v2.3h-7.2zM458.4 95.5h7.2v2.3h-7.2zM465.2 95.5h7.2v2.3h-7.2zM451.5 99.5h7.2v2.3h-7.2zM458.4 99.5h7.2v2.3h-7.2zM437.7 101.5h7.2v2.3h-7.2zM423.9 103.5h7.2v2.3h-7.2zM444.6 103.5h7.2v2.3h-7.2zM423.9 109.5h7.2v2.3h-7.2zM451.5 109.5h7.2v2.3h-7.2zM465.2 109.5h7.2v2.3h-7.2z"/>
<path fill="#d8e1ea" d="M472.1 23.5h7.2v2.3h-7.2zM403.3 43.5h7.2v2.3h-7.2zM472.1 43.5h7.2v2.3h-7.2zM403.3 49.5h7.2v2.3h-7.2zM423.9 49.5h7.2v2.3h-7.2zM451.5 49.5h7.2v2.3h-7.2zM423.9 51.5h7.2v2.3h-7.2zM465.2 51.5h7.2v2.3h-7.2zM403.3 55.5h7.2v2.3h-7.2zM437.7 55.5h7.2v2.3h-7.2zM458.4 55.5h7.2v2.3h-7.2zM423.9 67.5h7.2v2.3h-7.2zM465.2 69.5h7.2v2.3h-7.2zM444.6 83.5h7.2v2.3h-7.2zM472.1 93.5h7.2v2.3h-7.2zM423.9 95.5h7.2v2.3h-7.2zM472.1 95.5h7.2v2.3h-7.2zM403.3 99.5h7.2v2.3h-7.2zM437.7 99.5h7.2v2.3h-7.2zM465.2 99.5h7.2v2.3h-7.2zM423.9 105.5h7.2v2.3h-7.2z"/>
<path fill="#ededf3" d="M410.2 25.5h7.2v2.3h-7.2zM410.2 31.5h7.2v2.3h-7.2zM430.8 49.5h7.2v2.3h-7.2zM410.2 57.5h7.2v2.3h-7.2zM430.8 61.5h7.2v2.3h-7.2zM430.8 67.5h7.2v2.3h-7.2zM410.2 71.5h7.2v2.3h-7.2zM410.2 77.5h7.2v2.3h-7.2zM410.2 83.5h7.2v2.3h-7.2zM430.8 99.5h7.2v2.3h-7.2zM430.8 109.5h7.2v2.3h-7.2z"/>
<path fill="#e4e4f0" d="M417.1 25.5h7.2v2.3h-7.2zM417.1 55.5h7.2v2.3h-7.2zM417.1 71.5h7.2v2.3h-7.2zM417.1 109.5h7.2v2.3h-7.2z"/>
<path fill="#f0f0f9" d="M410.2 27.5h7.2v2.3h-7.2zM410.2 29.5h7.2v2.3h-7.2zM430.8 37.5h7.2v2.3h-7.2zM410.2 79.5h7.2v2.3h-7.2zM410.2 85.5h7.2v2.3h-7.2z"/>
<path fill="#e7eaf3" d="M417.1 27.5h7.2v2.3h-7.2zM417.1 37.5h7.2v2.3h-7.2zM417.1 41.5h7.2v2.3h-7.2zM417.1 63.5h7.2v2.3h-7.2zM417.1 75.5h7.2v2.3h-7.2zM417.1 79.5h7.2v2.3h-7.2zM417.1 85.5h7.2v2.3h-7.2zM417.1 115.5h7.2v2.3h-7.2zM437.7 149.5h7.2v2.3h-7.2z"/>
<path fill="#e1e7f0" d="M423.9 27.5h7.2v2.3h-7.2zM417.1 31.5h7.2v2.3h-7.2zM417.1 61.5h7.2v2.3h-7.2zM472.1 63.5h7.2v2.3h-7.2zM417.1 77.5h7.2v2.3h-7.2zM417.1 103.5h7.2v2.3h-7.2zM417.1 105.5h7.2v2.3h-7.2zM410.2 143.5h7.2v2.3h-7.2z"/>
<path fill="#f3f0f9" d="M430.8 27.5h7.2v2.3h-7.2z"/>
<path fill="#e1e4f3" d="M444.6 27.5h7.2v2.3h-7.2z"/>
<path fill="#dee7f0" d="M465.2 27.5h7.2v2.3h-7.2zM437.7 37.5h7.2v2.3h-7.2zM423.9 39.5h7.2v2.3h-7.2zM437.7 63.5h7.2v2.3h-7.2zM403.3 65.5h7.2v2.3h-7.2zM451.5 65.5h7.2v2.3h-7.2zM472.1 79.5h7.2v2.3h-7.2zM403.3 85.5h7.2v2.3h-7.2z"/>
<path fill="#e7e7f3" d="M417.1 29.5h7.2v2.3h-7.2z"/>
<path fill="#f0edf3" d="M430.8 31.5h7.2v2.3h-7.2zM410.2 91.5h7.2v2.3h-7.2zM410.2 119.5h7.2v2.3h-7.2z"/>
<path fill="#f0f3f9" d="M410.2 37.5h7.2v2.3h-7.2zM410.2 41.5h7.2v2.3h-7.2zM430.8 63.5h7.2v2.3h-7.2zM403.3 127.5h7.2v2.3h-7.2z"/>
<path fill="#f3f3f9" d="M410.2 39.5h7.2v2.3h-7.2z"/>
<path fill="#edf0f9" d="M430.8 39.5h7.2v2.3h-7.2z"/>
<path fill="#f3f3f6" d="M430.8 41.5h7.2v2.3h-7.2zM430.8 117.5h7.2v2.3h-7.2zM403.3 137.5h7.2v2.3h-7.2zM430.8 141.5h7.2v2.3h-7.2z"/>
<path fill="#eaeaf3" d="M410.2 43.5h7.2v2.3h-7.2zM410.2 93.5h7.2v2.3h-7.2zM444.6 151.5h7.2v2.3h-7.2z"/>
<path fill="#e1e7ed" d="M417.1 43.5h7.2v2.3h-7.2zM423.9 63.5h7.2v2.3h-7.2zM417.1 91.5h7.2v2.3h-7.2zM430.8 121.5h7.2v2.3h-7.2zM417.1 135.5h7.2v2.3h-7.2zM423.9 135.5h7.2v2.3h-7.2zM430.8 143.5h7.2v2.3h-7.2z"/>
<path fill="#eaedf3" d="M430.8 43.5h7.2v2.3h-7.2zM410.2 49.5h7.2v2.3h-7.2zM410.2 53.5h7.2v2.3h-7.2zM430.8 53.5h7.2v2.3h-7.2zM410.2 55.5h7.2v2.3h-7.2zM430.8 93.5h7.2v2.3h-7.2zM410.2 95.5h7.2v2.3h-7.2zM410.2 99.5h7.2v2.3h-7.2zM410.2 109.5h7.2v2.3h-7.2z"/>
<path fill="#e1e4ed" d="M417.1 47.5h7.2v2.3h-7.2zM417.1 51.5h7.2v2.3h-7.2zM451.5 63.5h7.2v2.3h-7.2zM403.3 75.5h7.2v2.3h-7.2zM417.1 83.5h7.2v2.3h-7.2zM437.7 85.5h7.2v2.3h-7.2zM417.1 95.5h7.2v2.3h-7.2zM417.1 99.5h7.2v2.3h-7.2zM458.4 107.5h7.2v2.3h-7.2zM437.7 135.5h7.2v2.3h-7.2zM430.8 139.5h7.2v2.3h-7.2z"/>
<path fill="#eaedf6" d="M430.8 47.5h7.2v2.3h-7.2zM410.2 69.5h7.2v2.3h-7.2zM430.8 95.5h7.2v2.3h-7.2zM430.8 105.5h7.2v2.3h-7.2z"/>
<path fill="#ededf0" d="M410.2 51.5h7.2v2.3h-7.2z"/>
<path fill="#eaedf0" d="M430.8 51.5h7.2v2.3h-7.2zM410.2 105.5h7.2v2.3h-7.2z"/>
<path fill="#e4e4ed" d="M417.1 53.5h7.2v2.3h-7.2zM417.1 69.5h7.2v2.3h-7.2zM417.1 93.5h7.2v2.3h-7.2z"/>
<path fill="#eaeaf6" d="M430.8 55.5h7.2v2.3h-7.2z"/>
<path fill="#e4e7ed" d="M417.1 57.5h7.2v2.3h-7.2zM417.1 87.5h7.2v2.3h-7.2zM417.1 101.5h7.2v2.3h-7.2z"/>
<path fill="#dbe4ea" d="M437.7 61.5h7.2v2.3h-7.2z"/>
<path fill="#f0f3f6" d="M410.2 63.5h7.2v2.3h-7.2zM410.2 65.5h7.2v2.3h-7.2zM410.2 73.5h7.2v2.3h-7.2zM430.8 97.5h7.2v2.3h-7.2zM430.8 115.5h7.2v2.3h-7.2z"/>
<path fill="#dee4ea" d="M423.9 71.5h7.2v2.3h-7.2zM444.6 71.5h7.2v2.3h-7.2zM458.4 91.5h7.2v2.3h-7.2z"/>
<path fill="#f3f0f6" d="M410.2 75.5h7.2v2.3h-7.2zM430.8 75.5h7.2v2.3h-7.2zM430.8 79.5h7.2v2.3h-7.2zM410.2 107.5h7.2v2.3h-7.2zM410.2 36h7.1v2.2h-7.1z"/>
<path fill="#dee4f3" d="M451.5 75.5h7.2v2.3h-7.2z"/>
<path fill="#ededf6" d="M410.2 81.5h7.2v2.3h-7.2zM430.8 101.5h7.2v2.3h-7.2z"/>
<path fill="#dee7ed" d="M451.5 85.5h7.2v2.3h-7.2zM465.2 85.5h7.2v2.3h-7.2z"/>
<path fill="#eaf0f3" d="M410.2 87.5h7.2v2.3h-7.2z"/>
<path fill="#e7eaf0" d="M417.1 89.5h7.2v2.3h-7.2zM417.1 97.5h7.2v2.3h-7.2z"/>
<path fill="#edf3f9" d="M430.8 89.5h7.2v2.3h-7.2z"/>
<path fill="#e7e7f0" d="M417.1 107.5h7.2v2.3h-7.2z"/>
<path fill="#ededf9" d="M410.2 111.5h7.2v2.3h-7.2z"/>
<path fill="#edf3f3" d="M430.8 111.5h7.2v2.3h-7.2z"/>
<path fill="#d5deea" d="M403.3 117.5h7.2v2.3h-7.2zM417.1 117.5h7.2v2.3h-7.2zM430.8 129.5h7.2v2.3h-7.2zM417.1 131.5h7.2v2.3h-7.2zM423.9 131.5h7.2v2.3h-7.2zM403.3 141.5h7.2v2.3h-7.2zM417.1 151.5h7.2v2.3h-7.2zM423.9 151.5h7.2v2.3h-7.2z"/>
<path fill="#d5deed" d="M423.9 117.5h7.2v2.3h-7.2z"/>
<path fill="#d5dbea" d="M437.7 117.5h7.2v2.3h-7.2zM423.9 125.5h7.2v2.3h-7.2zM423.9 127.5h7.2v2.3h-7.2zM410.2 129.5h7.2v2.3h-7.2zM423.9 129.5h7.2v2.3h-7.2zM437.7 129.5h7.2v2.3h-7.2zM403.3 131.5h7.2v2.3h-7.2zM437.7 131.5h7.2v2.3h-7.2zM437.7 137.5h7.2v2.3h-7.2zM410.2 141.5h7.2v2.3h-7.2z"/>
<path fill="#f6f0f0" d="M444.6 117.5h7.2v2.3h-7.2zM465.2 131.5h7.2v2.3h-7.2zM444.6 141.5h7.2v2.3h-7.2z"/>
<path fill="#f9f0f3" d="M451.5 117.5h7.2v2.3h-7.2z"/>
<path fill="#f9edf3" d="M458.4 117.5h7.2v2.3h-7.2zM451.5 149.5h7.2v2.3h-7.2z"/>
<path fill="#f6edf6" d="M465.2 117.5h7.2v2.3h-7.2z"/>
<path fill="#f0edf0" d="M472.1 117.5h7.2v2.3h-7.2zM472.1 119.5h7.2v2.3h-7.2z"/>
<path fill="#d5dbe4" d="M403.3 119.5h7.2v2.3h-7.2z"/>
<path fill="#d2dbe7" d="M417.1 119.5h7.2v2.3h-7.2zM403.3 121.5h7.2v2.3h-7.2zM423.9 121.5h7.2v2.3h-7.2zM417.1 129.5h7.2v2.3h-7.2zM410.2 133.5h7.2v2.3h-7.2zM430.8 133.5h7.2v2.3h-7.2zM410.2 135.5h7.2v2.3h-7.2zM430.8 135.5h7.2v2.3h-7.2zM423.9 137.5h7.2v2.3h-7.2zM417.1 139.5h7.2v2.3h-7.2zM423.9 143.5h7.2v2.3h-7.2zM403.3 151.5h7.2v2.3h-7.2z"/>
<path fill="#d2d8e7" d="M430.8 119.5h7.2v2.3h-7.2zM410.2 121.5h7.2v2.3h-7.2zM423.9 123.5h7.2v2.3h-7.2zM417.1 137.5h7.2v2.3h-7.2zM423.9 139.5h7.2v2.3h-7.2zM437.7 139.5h7.2v2.3h-7.2zM423.9 145.5h7.2v2.3h-7.2zM430.8 145.5h7.2v2.3h-7.2zM403.3 147.5h7.2v2.3h-7.2z"/>
<path fill="#eae7ed" d="M444.6 119.5h7.2v2.3h-7.2zM458.4 119.5h7.2v2.3h-7.2z"/>
<path fill="#f0eaed" d="M451.5 119.5h7.2v2.3h-7.2zM458.4 147.5h7.2v2.3h-7.2z"/>
<path fill="#f3edf0" d="M465.2 119.5h7.2v2.3h-7.2zM458.4 121.5h7.2v2.3h-7.2zM444.6 123.5h7.2v2.3h-7.2zM465.2 123.5h7.2v2.3h-7.2zM472.1 129.5h7.2v2.3h-7.2zM451.5 133.5h7.2v2.3h-7.2zM451.5 135.5h7.2v2.3h-7.2zM458.4 137.5h7.2v2.3h-7.2zM444.6 139.5h7.2v2.3h-7.2zM458.4 143.5h7.2v2.3h-7.2zM451.5 145.5h7.2v2.3h-7.2zM458.4 151.5h7.2v2.3h-7.2zM430.8 28.7h7.1v2.2h-7.1zM410.2 32h7.1v2.2h-7.1z"/>
<path fill="#d2d8e4" d="M417.1 121.5h7.2v2.3h-7.2zM403.3 135.5h7.2v2.3h-7.2zM410.2 147.5h7.2v2.3h-7.2zM430.8 147.5h7.2v2.3h-7.2zM437.7 147.5h7.2v2.3h-7.2z"/>
<path fill="#f6eaf0" d="M444.6 121.5h7.2v2.3h-7.2zM444.6 133.5h7.2v2.3h-7.2zM458.4 139.5h7.2v2.3h-7.2z"/>
<path fill="#f3d5d5" d="M451.5 121.5h7.2v2.3h-7.2z"/>
<path fill="#f3eaed" d="M465.2 121.5h7.2v2.3h-7.2zM472.1 121.5h7.2v2.3h-7.2zM472.1 133.5h7.2v2.3h-7.2zM465.2 139.5h7.2v2.3h-7.2zM410.2 26h7.1v2.2h-7.1z"/>
<path fill="#d5d8e7" d="M410.2 123.5h7.2v2.3h-7.2z"/>
<path fill="#d5dbe7" d="M417.1 123.5h7.2v2.3h-7.2zM417.1 125.5h7.2v2.3h-7.2zM437.7 125.5h7.2v2.3h-7.2zM410.2 127.5h7.2v2.3h-7.2zM403.3 133.5h7.2v2.3h-7.2zM417.1 133.5h7.2v2.3h-7.2zM423.9 133.5h7.2v2.3h-7.2zM410.2 139.5h7.2v2.3h-7.2zM423.9 141.5h7.2v2.3h-7.2zM417.1 143.5h7.2v2.3h-7.2zM410.2 145.5h7.2v2.3h-7.2zM417.1 145.5h7.2v2.3h-7.2zM437.7 145.5h7.2v2.3h-7.2zM430.8 151.5h7.2v2.3h-7.2z"/>
<path fill="#d2dbea" d="M430.8 123.5h7.2v2.3h-7.2zM437.7 123.5h7.2v2.3h-7.2zM410.2 125.5h7.2v2.3h-7.2zM430.8 127.5h7.2v2.3h-7.2zM437.7 133.5h7.2v2.3h-7.2zM410.2 137.5h7.2v2.3h-7.2zM403.3 143.5h7.2v2.3h-7.2zM437.7 151.5h7.2v2.3h-7.2z"/>
<path fill="#f3eaf0" d="M451.5 123.5h7.2v2.3h-7.2zM458.4 123.5h7.2v2.3h-7.2zM472.1 125.5h7.2v2.3h-7.2zM465.2 133.5h7.2v2.3h-7.2zM444.6 135.5h7.2v2.3h-7.2zM444.6 137.5h7.2v2.3h-7.2zM465.2 137.5h7.2v2.3h-7.2zM472.1 143.5h7.2v2.3h-7.2zM444.6 145.5h7.2v2.3h-7.2zM451.5 147.5h7.2v2.3h-7.2zM465.2 151.5h7.2v2.3h-7.2z"/>
<path fill="#f0b4b7" d="M472.1 123.5h7.2v2.3h-7.2zM458.4 141.5h7.2v2.3h-7.2z"/>
<path fill="#d5dee7" d="M403.3 125.5h7.2v2.3h-7.2zM430.8 131.5h7.2v2.3h-7.2z"/>
<path fill="#e4e7f3" d="M430.8 125.5h7.2v2.3h-7.2zM417.1 127.5h7.2v2.3h-7.2z"/>
<path fill="#f6d5d8" d="M444.6 125.5h7.2v2.3h-7.2zM472.1 141.5h7.2v2.3h-7.2zM458.4 149.5h7.2v2.3h-7.2zM403.3 35h7.1v4.3h-7.1zM423.9 82.7h7.1v2.2h-7.1zM423.9 88.7h7.1v2.2h-7.1zM423.9 110.7h7.1v2.2h-7.1z"/>
<path fill="#f3d5db" d="M451.5 125.5h7.2v2.3h-7.2z"/>
<path fill="#f3edf3" d="M458.4 125.5h7.2v2.3h-7.2zM403.3 19.5h7.1v3.5h-7.1zM430.8 34.7h7.1v2.2h-7.1zM430.8 42.7h7.1v1.5h-7.1zM410.2 24h7.1v2.2h-7.1zM410.2 30h7.1v2.2h-7.1z"/>
<path fill="#edeaf0" d="M465.2 125.5h7.2v2.3h-7.2zM458.4 131.5h7.2v2.3h-7.2zM417.1 147.5h7.2v2.3h-7.2zM444.6 149.5h7.2v2.3h-7.2z"/>
<path fill="#d2deea" d="M437.7 127.5h7.2v2.3h-7.2zM410.2 151.5h7.2v2.3h-7.2z"/>
<path fill="#f3d2db" d="M444.6 127.5h7.2v2.3h-7.2z"/>
<path fill="#f6edf0" d="M451.5 127.5h7.2v2.3h-7.2zM458.4 127.5h7.2v2.3h-7.2zM451.5 129.5h7.2v2.3h-7.2zM444.6 131.5h7.2v2.3h-7.2zM472.1 137.5h7.2v2.3h-7.2z"/>
<path fill="#f0b7b7" d="M465.2 127.5h7.2v2.3h-7.2z"/>
<path fill="#ede7f0" d="M472.1 127.5h7.2v2.3h-7.2zM451.5 143.5h7.2v2.3h-7.2z"/>
<path fill="#f6d2db" d="M444.6 129.5h7.2v2.3h-7.2z"/>
<path fill="#f0e7f0" d="M458.4 129.5h7.2v2.3h-7.2z"/>
<path fill="#f6eaf3" d="M465.2 129.5h7.2v2.3h-7.2z"/>
<path fill="#edeaf3" d="M451.5 131.5h7.2v2.3h-7.2z"/>
<path fill="#f6d8db" d="M472.1 131.5h7.2v2.3h-7.2zM423.9 90.7h7.1v2.2h-7.1zM423.9 92.7h7.1v2.2h-7.1zM423.9 94.7h7.1v2.2h-7.1zM423.9 112.7h7.1v2.2h-7.1z"/>
<path fill="#f6d5d5" d="M458.4 133.5h7.2v2.3h-7.2z"/>
<path fill="#eae7f0" d="M458.4 135.5h7.2v2.3h-7.2zM472.1 135.5h7.2v2.3h-7.2zM465.2 143.5h7.2v2.3h-7.2z"/>
<path fill="#f3d2d8" d="M465.2 135.5h7.2v2.3h-7.2zM458.4 145.5h7.2v2.3h-7.2z"/>
<path fill="#d5d8ea" d="M430.8 137.5h7.2v2.3h-7.2z"/>
<path fill="#f3d5d8" d="M451.5 137.5h7.2v2.3h-7.2zM451.5 151.5h7.2v2.3h-7.2z"/>
<path fill="#d2dbe4" d="M403.3 139.5h7.2v2.3h-7.2z"/>
<path fill="#f3eded" d="M451.5 139.5h7.2v2.3h-7.2z"/>
<path fill="#f6eaed" d="M472.1 139.5h7.2v2.3h-7.2zM472.1 145.5h7.2v2.3h-7.2z"/>
<path fill="#d8dee7" d="M417.1 141.5h7.2v2.3h-7.2zM417.1 149.5h7.2v2.3h-7.2z"/>
<path fill="#f3f0f3" d="M451.5 141.5h7.2v2.3h-7.2zM410.2 34h7.1v2.2h-7.1z"/>
<path fill="#f6edf3" d="M465.2 141.5h7.2v2.3h-7.2z"/>
<path fill="#eaeaf0" d="M444.6 143.5h7.2v2.3h-7.2z"/>
<path fill="#edb1b4" d="M465.2 145.5h7.2v2.3h-7.2zM465.2 147.5h7.2v2.3h-7.2z"/>
<path fill="#e7e4f0" d="M444.6 147.5h7.2v2.3h-7.2z"/>
<path fill="#f3e7ed" d="M472.1 147.5h7.2v2.3h-7.2z"/>
<path fill="#f0eaf3" d="M465.2 149.5h7.2v2.3h-7.2z"/>
<path fill="#f6f0f3" d="M472.1 149.5h7.2v2.3h-7.2z"/>
<path fill="#f3eaf3" d="M472.1 151.5h7.2v2.3h-7.2z"/>
<path fill="#e12727" d="M403.3 39.3h7.1v77.7h-7.1zM403.3 39.3h7.1v2.2h-7.1zM403.3 43.3h7.1v2.2h-7.1zM403.3 51.3h7.1v2.2h-7.1zM403.3 59.3h7.1v2.2h-7.1zM403.3 73.3h7.1v2.2h-7.1zM403.3 93.3h7.1v2.2h-7.1zM403.3 99.3h7.1v2.2h-7.1zM403.3 105.3h7.1v2.2h-7.1z"/>
<path fill="#e75151" d="M410.2 38.5h7.1v2.3h-7.1z"/>
<path fill="#f6e4e7" d="M423.9 20.8h7.1v3.4h-7.1zM423.9 86.7h7.1v2.2h-7.1zM423.9 104.7h7.1v2.2h-7.1zM423.9 108.7h7.1v2.2h-7.1z"/>
<path fill="#e12724" d="M430.8 19.5h7.1v5.2h-7.1zM444.6 117.4h7.1v12.6h-7.1zM451.5 130h7.1v2.5h-7.1zM451.5 145.5h7.1v3.9h-7.1zM458.4 137.7h7.1v7.8h-7.1zM465.2 123.4h7.1v7.6h-7.1zM465.2 133.8h7.1v3.9h-7.1zM472.1 149.4h7.1v5.1h-7.1z"/>
<path fill="#f3bdc3" d="M430.8 44h7.1v2.8h-7.1z"/>
<path fill="#f3abab" d="M444.6 130h7.1v3.8h-7.1zM465.2 140h7.1v5h-7.1zM423.9 64h7.1v2.2h-7.1zM423.9 72h7.1v.9h-7.1z"/>
<path fill="#ed6f6f" d="M458.4 119.5h7.1v3.9h-7.1zM444.6 149.4h7.1v2.6h-7.1z"/>
<path fill="#f3bdbd" d="M472.1 130h7.1v5h-7.1z"/>
<path fill="#e12d2a" d="M403.3 23h7.1v2.2h-7.1zM403.3 29h7.1v2.2h-7.1zM403.3 115.3h7.1v1.9h-7.1z"/>
<path fill="#ed7b7b" d="M403.3 25h7.1v2.2h-7.1z"/>
<path fill="#e43936" d="M403.3 27h7.1v2.2h-7.1zM403.3 31h7.1v2.2h-7.1zM403.3 85.3h7.1v2.2h-7.1zM423.9 32.7h7.1v2.2h-7.1z"/>
<path fill="#e43f3f" d="M403.3 33h7.1v2.2h-7.1z"/>
<path fill="#e1302d" d="M403.3 41.3h7.1v2.2h-7.1zM403.3 87.3h7.1v2.2h-7.1zM403.3 91.3h7.1v2.2h-7.1zM403.3 111.3h7.1v2.2h-7.1z"/>
<path fill="#e12a27" d="M403.3 45.3h7.1v2.2h-7.1zM403.3 57.3h7.1v2.2h-7.1zM403.3 61.3h7.1v2.2h-7.1zM403.3 65.3h7.1v2.2h-7.1zM403.3 77.3h7.1v2.2h-7.1zM403.3 97.3h7.1v2.2h-7.1zM403.3 107.3h7.1v2.2h-7.1zM403.3 113.3h7.1v2.2h-7.1z"/>
<path fill="#e43939" d="M403.3 47.3h7.1v2.2h-7.1z"/>
<path fill="#e74545" d="M403.3 49.3h7.1v2.2h-7.1z"/>
<path fill="#e12a2a" d="M403.3 53.3h7.1v2.2h-7.1zM403.3 101.3h7.1v2.2h-7.1z"/>
<path fill="#ea5451" d="M403.3 55.3h7.1v2.2h-7.1zM403.3 109.3h7.1v2.2h-7.1z"/>
<path fill="#e74845" d="M403.3 63.3h7.1v2.2h-7.1z"/>
<path fill="#e43636" d="M403.3 67.3h7.1v2.2h-7.1zM403.3 95.3h7.1v2.2h-7.1z"/>
<path fill="#ea514e" d="M403.3 69.3h7.1v2.2h-7.1z"/>
<path fill="#e43333" d="M403.3 71.3h7.1v2.2h-7.1zM403.3 81.3h7.1v2.2h-7.1z"/>
<path fill="#e12d2d" d="M403.3 75.3h7.1v2.2h-7.1zM403.3 79.3h7.1v2.2h-7.1zM403.3 103.3h7.1v2.2h-7.1z"/>
<path fill="#ea5754" d="M403.3 83.3h7.1v2.2h-7.1z"/>
<path fill="#e74242" d="M403.3 89.3h7.1v2.2h-7.1zM423.9 28.7h7.1v2.2h-7.1z"/>
<path fill="#ea605d" d="M423.9 24.7h7.1v2.2h-7.1zM423.9 38.7h7.1v.5h-7.1z"/>
<path fill="#e74b48" d="M423.9 26.7h7.1v2.2h-7.1z"/>
<path fill="#e75451" d="M423.9 30.7h7.1v2.2h-7.1z"/>
<path fill="#ea5d5d" d="M423.9 34.7h7.1v2.2h-7.1z"/>
<path fill="#e74542" d="M423.9 36.7h7.1v2.2h-7.1z"/>
<path fill="#f6e7e7" d="M423.9 38.5h7.1v2.2h-7.1z"/>
<path fill="#f6e1e4" d="M423.9 40.5h7.1v1.7h-7.1zM423.9 74.7h7.1v2.2h-7.1zM423.9 78.7h7.1v2.2h-7.1zM423.9 80.7h7.1v2.2h-7.1z"/>
<path fill="#f08787" d="M423.9 42h7.1v2.2h-7.1z"/>
<path fill="#f0999c" d="M423.9 44h7.1v2.2h-7.1zM423.9 46h7.1v2.2h-7.1z"/>
<path fill="#ed7878" d="M423.9 48h7.1v2.2h-7.1z"/>
<path fill="#f08181" d="M423.9 50h7.1v2.2h-7.1z"/>
<path fill="#f09999" d="M423.9 52h7.1v2.2h-7.1z"/>
<path fill="#f3aeae" d="M423.9 54h7.1v2.2h-7.1z"/>
<path fill="#f6c9cc" d="M423.9 56h7.1v2.2h-7.1zM423.9 60h7.1v2.2h-7.1zM423.9 70h7.1v2.2h-7.1z"/>
<path fill="#f6cccf" d="M423.9 58h7.1v2.2h-7.1z"/>
<path fill="#f6d2d5" d="M423.9 62h7.1v2.2h-7.1zM423.9 84.7h7.1v2.2h-7.1z"/>
<path fill="#f3a8ab" d="M423.9 66h7.1v2.2h-7.1z"/>
<path fill="#f3a8a8" d="M423.9 68h7.1v2.2h-7.1z"/>
<path fill="#f6dee1" d="M423.9 72.7h7.1v2.2h-7.1zM423.9 102.7h7.1v2.2h-7.1z"/>
<path fill="#f3c9cc" d="M423.9 76.7h7.1v2.2h-7.1z"/>
<path fill="#f3ccd2" d="M423.9 96.7h7.1v2.2h-7.1z"/>
<path fill="#f3cccf" d="M423.9 98.7h7.1v2.2h-7.1zM423.9 116.7h7.1v.5h-7.1z"/>
<path fill="#f3c9cf" d="M423.9 100.7h7.1v2.2h-7.1z"/>
<path fill="#f6dbdb" d="M423.9 106.7h7.1v2.2h-7.1z"/>
<path fill="#f3cfd2" d="M423.9 114.7h7.1v2.2h-7.1z"/>
<path fill="#f3dbde" d="M430.8 24.7h7.1v2.2h-7.1zM430.8 30.7h7.1v2.2h-7.1z"/>
<path fill="#f3dee1" d="M430.8 26.7h7.1v2.2h-7.1z"/>
<path fill="#f3e1e4" d="M430.8 32.7h7.1v2.2h-7.1z"/>
<path fill="#f3d2d5" d="M430.8 36.7h7.1v2.2h-7.1z"/>
<path fill="#f3e7ea" d="M430.8 38.7h7.1v2.2h-7.1z"/>
<path fill="#f3e4ea" d="M430.8 40.7h7.1v2.2h-7.1z"/>
<path fill="#f6e7ea" d="M410.2 22h7.1v2.2h-7.1zM410.2 28h7.1v2.2h-7.1z"/>
<path fill="#f6e7ed" d="M410.2 38h7.1v1.2h-7.1z"/>
</g>
<rect x="403.30" y="16.10" width="41.29" height="2.50" fill="#35a94b"/>
<rect x="444.59" y="16.10" width="34.41" height="2.50" fill="#e79896"/>
<text x="424.80" y="13.80" font-size="6.8" text-anchor="middle" fill="#222">RIOS</text>
<text x="460.50" y="13.80" font-size="6.8" text-anchor="middle" fill="#222">OS</text>
<text x="481.80" y="28.00" font-size="6.6" font-weight="bold" fill="#111">Group</text>
<rect x="481.80" y="34.40" width="4.70" height="3.90" fill="#2da84a"/>
<text x="489.10" y="38.50" font-size="6.6" fill="#222">RIOS</text>
<rect x="481.80" y="41.20" width="4.70" height="3.90" fill="#f08e96"/>
<text x="489.10" y="45.10" font-size="6.6" fill="#222">OS</text>
<text x="481.80" y="78.30" font-size="6.6" font-weight="bold" fill="#111">Gene</text>
<text x="481.80" y="86.30" font-size="6.6" font-weight="bold" fill="#111">expression</text>
<rect x="486.20" y="93.70" width="4.60" height="38.40" fill="url(#gB)"/>
<text x="498.50" y="96.50" font-size="6.6" text-anchor="end" fill="#222">3</text>
<text x="498.50" y="112.20" font-size="6.6" text-anchor="end" fill="#222">0</text>
<text x="501.50" y="131.80" font-size="6.6" text-anchor="end" fill="#222">−3</text>
<text x="0.00" y="171.70" font-size="14.8" font-weight="bold" fill="#111">D</text>
<g fill="#7b7b7b">
<polygon points="64,331 66,328 70.8,317 75.4,306 80,297 83,286 86,274 87.7,269 89,268.5 90.8,286 93,305 95.4,329 95.8,331"/>
<polygon points="98.3,331 98.5,329 100,315 101.5,301.5 103,288 104.6,274 106,266 108,266.5 110.8,274 113.8,286 115.6,291 115.6,301.5 118.5,301.5 121.5,317 124.6,329 125.5,331"/>
</g>
<path d="M66.9 312.4h0M75.8 305.4h0M71.1 326.3h0M80.7 325.5h0M76.4 329.5h0M74.4 302.3h0M63.8 308.8h0M59.8 310.3h0M67.4 312.7h0M80.6 294.8h0M68.7 324.6h0M68.4 320.9h0M77.4 329.4h0M80.1 326.6h0M54.9 321.1h0M78.1 325.3h0M74.6 321.7h0M67.9 323.5h0M68.6 310.6h0M65.1 316.7h0M67 319.8h0M74.4 312.3h0M77.4 327h0M78.1 320.2h0M47.9 310.6h0M49.5 319.4h0M75.8 327.8h0M63.4 316.6h0M72.5 326.9h0M67.4 318.4h0M81 302.4h0M69.6 307.3h0M68.4 325.2h0M70.3 327.8h0M75.7 321.6h0M76.6 325.3h0M66.1 314.7h0M58.9 308.6h0M54.4 314.3h0M77.7 325.7h0" stroke="#888888" stroke-opacity="0.75" stroke-width="1.6" stroke-linecap="round" fill="none"/>
<path d="M79.8 300.6h0M68.9 320.9h0M64.6 317.8h0M57.4 322.8h0M73.6 317.2h0M75 318.2h0M64 309.7h0M53.5 319.7h0M66.9 317.2h0M73.3 314.1h0M63.9 304.6h0M80.4 324.9h0M74.1 312.3h0M64.5 326.7h0M77.1 315.6h0M71.2 317.8h0M70.6 308.3h0M78.2 316.8h0M59.5 316.1h0M80.7 293.3h0M68.9 325.3h0M81 305.4h0M78.9 327.2h0M69.8 326.6h0M65 326.4h0M58.7 305.9h0M72.8 314.8h0M77.4 324h0M78.1 317.4h0M80.3 287.9h0M68.5 310.5h0M80.7 292.4h0M75.5 311.9h0M72.9 324h0M66.9 303.9h0M81.8 298.8h0M79.4 317.1h0M81.5 311.8h0M78.3 327.6h0M55.4 302.3h0" stroke="#888888" stroke-opacity="0.75" stroke-width="1.6" stroke-linecap="round" fill="none"/>
<path d="M81.1 329h0M72.8 320.1h0M75.6 308.9h0M78.1 325.6h0M81.7 308.7h0M61.2 328.1h0M64.9 305.9h0M71 325.8h0M78 328.1h0M54.2 308.7h0M69.6 313.4h0M81.5 296.2h0M62.4 316.1h0M73.7 309.7h0M79.4 322.9h0M80.6 322.5h0M81.2 302.2h0M74.2 329.6h0M64 319h0M64.5 303.7h0M76.8 322.3h0M81.1 295.7h0M77.2 329.4h0M60.8 312h0M81.3 300.2h0M77 316.4h0M58.1 311.9h0M75.8 325.9h0M69.1 303.5h0M81.2 315.5h0M79.5 307.6h0M76.6 308.3h0M81.3 314.1h0M76.6 317.7h0M75.3 327.1h0M69.5 311.6h0M62.6 310.2h0M78.1 315.2h0M75.1 329.3h0M81.8 305.7h0" stroke="#888888" stroke-opacity="0.75" stroke-width="1.6" stroke-linecap="round" fill="none"/>
<path d="M76.3 305.5h0M76.8 304h0M66.1 321.7h0M69.8 317.6h0M62.2 309.7h0M70.5 309.4h0M121.3 313.2h0M116.4 305.4h0M131.2 310.8h0M132.4 302.8h0M120 318.7h0M129.4 323.3h0M121.6 321.8h0M119.7 329.3h0M131.4 321.1h0M117 322.7h0M123.5 319.8h0M124.1 319.8h0M115.2 313.6h0M128 323.4h0M130.3 323.2h0M122.3 310.1h0M135.5 305.9h0M115 307.5h0M116.3 323h0M117.6 327.5h0M136.4 310.9h0M114.2 320.1h0M125 312.1h0M117.2 328.8h0M132.3 317.4h0M121.3 307.5h0M122.6 315.9h0M122.7 302.2h0M120.4 313h0M123.8 303.5h0M121.1 316.6h0M129.6 302.8h0M126 306.3h0M116.5 304.5h0" stroke="#888888" stroke-opacity="0.75" stroke-width="1.6" stroke-linecap="round" fill="none"/>
<path d="M121.2 327.4h0M135.4 304.5h0M118.1 306.8h0M128.6 307.4h0M120.1 324.8h0M127.5 308.3h0M114.4 314.5h0M118.1 325.5h0M142.6 304.9h0M124.1 318.5h0M121.6 320.3h0M132.4 327.9h0M141.6 319.7h0M121.8 316h0M116.7 327.6h0M129.5 303.4h0M126.6 316.4h0M124.7 324.9h0M121.3 304.9h0M134.2 315.6h0M130.4 315.2h0M114.1 310.9h0M115.6 322.9h0M127.1 314.2h0M117.4 324.9h0M122.6 320.2h0M116.2 321.5h0M138.7 324.7h0M123.6 308.5h0M122.2 326h0M121.6 321.7h0M141.5 321.8h0M116.6 304.6h0M122.1 323h0M120.1 322h0M128.9 303.6h0M116.2 325.5h0M120.2 317.3h0M123 311.7h0M128.7 316.5h0" stroke="#888888" stroke-opacity="0.75" stroke-width="1.6" stroke-linecap="round" fill="none"/>
<path d="M117.2 327.6h0M117.9 326h0M116.2 328h0M116.5 304.8h0M119.6 314.6h0M133.7 317.3h0M123.2 319.4h0M121 313.6h0M140.8 325.9h0M131.8 320.2h0M114.2 328.7h0M117.8 302h0M120.4 308.7h0M117 323.8h0M116.5 317.4h0M119.5 321.8h0M122.9 307h0M127.4 307.3h0M118.7 314.9h0M116.7 325h0M114.4 322.8h0M115.7 311.4h0M134.4 306.4h0M125 326.5h0M121.8 306.6h0M114.6 310.9h0M117.2 313.9h0M116 304.2h0M123.2 326.8h0M121.8 326h0M136.1 319.3h0M114.9 310.9h0M123.2 321.9h0M124.5 324.1h0M117 305.5h0M121.3 308.7h0M114.8 312.6h0M132.1 302.2h0M124.2 313.7h0M126.6 307h0" stroke="#888888" stroke-opacity="0.75" stroke-width="1.6" stroke-linecap="round" fill="none"/>
<path d="M132.2 316.4h0M125 303.1h0M118.6 326.7h0M130.7 319.7h0M124.5 311.8h0M123.2 324.1h0M117.1 324.8h0M125.5 322.2h0M124.9 321.5h0M132.3 312.1h0M117.4 308.2h0M135.3 328.1h0M114.1 326.7h0M124.9 305.4h0M126.8 315.3h0M37.1 304.3h0M34.8 304.4h0M53.1 316.9h0M36 313.3h0M37.9 304.3h0M40.9 307.7h0M34.2 302.1h0M39.7 312.1h0M37.2 308.7h0M64.9 326.4h0M42.1 308.2h0M34.3 314.1h0M62.5 316.6h0M44.9 304.7h0M54 325.6h0M59.8 320.7h0M55.8 315.4h0M23.4 302.4h0M60.6 318.4h0M43.4 310.8h0M26.9 307.5h0M58.8 319.3h0M52.2 309.9h0M50.2 312.7h0M45.7 314h0" stroke="#888888" stroke-opacity="0.75" stroke-width="1.6" stroke-linecap="round" fill="none"/>
<path d="M57.6 324.4h0M54.8 312.7h0M39.6 310.3h0M32 308.6h0M46.9 314.1h0M25.5 302.8h0M45.4 318h0M38 304.2h0M36.4 304.5h0M53.3 316.9h0M61.8 317.9h0M26.5 309.5h0M48.8 312.4h0M41.1 309.1h0M38 304.5h0M35 310.5h0M39.3 313.8h0M26.7 304.2h0M26.8 305.6h0M61.3 325.1h0M61.1 321.8h0M44.4 314.3h0M59.2 313.7h0M44 314.8h0M35.8 309.8h0M30.1 303.2h0M57 315.2h0M34.9 308h0M30.4 306.3h0M55.5 318.8h0M39.5 307.2h0M48.7 316.1h0M49.6 316.4h0M41.6 317.3h0M54.9 325.3h0M48.9 313.6h0M44.4 306.4h0M54.8 330.9h0M65.8 330.6h0M68.6 319.2h0" stroke="#888888" stroke-opacity="0.75" stroke-width="1.6" stroke-linecap="round" fill="none"/>
<path d="M82.9 284.3h0M70.6 315.6h0M60.4 311.7h0M63.5 313.6h0M49.2 330.2h0M65.4 307.9h0M62.2 320.3h0M55.1 307.1h0M65.9 327.5h0M64.7 321.8h0M51 307h0M61.4 320.2h0M71 311.1h0M80.2 286.4h0M81.7 283.2h0M65.5 322.1h0M60.7 325.9h0M73.2 307.4h0M81 287.8h0M80.5 289.6h0M61.5 325.2h0M70 310.3h0M61.5 323.9h0M48.6 327.9h0M57.4 309.2h0M64.2 324.2h0M60.7 320.9h0M57.6 323.4h0M82.2 277.8h0M68 319.6h0M65.9 325.4h0M50.8 308.4h0M71.7 302.6h0M59.1 330.6h0M62 321.2h0M66.4 310.5h0M66.2 327h0M48.1 325h0M62.7 328.5h0M70.7 314h0" stroke="#888888" stroke-opacity="0.75" stroke-width="1.6" stroke-linecap="round" fill="none"/>
<path d="M69.4 308.3h0M66.9 325.4h0M56.4 306.1h0M63.2 318.5h0M64.3 304.6h0M66.2 308.2h0M71 310.3h0M75.8 303.4h0M64 305.2h0M71.9 304h0M70 311.5h0M57.9 318h0M83.6 283.6h0M83.2 283.3h0M82.5 280.6h0M65.7 321.5h0M81.6 282.6h0M66.6 319.7h0M57.6 322.7h0M80.4 276.8h0M81.1 280.6h0M69.3 317.3h0M58.8 306.8h0M69.3 305.3h0M64.3 327.3h0M70.6 309.4h0M69.2 315.2h0M55.7 317.7h0M63.9 324.5h0M52.5 329.6h0M66.9 321.8h0M65 315.7h0M59.9 317.9h0M51.7 329.5h0M51.1 319.5h0M61.5 306.9h0M80 287.4h0M71.5 311.9h0M70.6 306.5h0M75.9 303.3h0" stroke="#888888" stroke-opacity="0.75" stroke-width="1.6" stroke-linecap="round" fill="none"/>
<path d="M65.1 314.2h0M66.7 308.7h0M63.9 317h0M70.7 314.9h0M69 320.7h0M69.7 302.9h0M55 320.8h0M83.8 279.7h0M68.5 309.4h0M67.2 305.4h0M65.2 328.3h0M73.2 304.4h0M61.4 323h0M66 313.9h0M57.3 327.3h0M82.1 278.4h0M81.7 285.6h0M67.8 306.3h0M82.1 279.8h0M82.9 283.8h0M60.5 311.8h0M66.6 311.5h0M68.5 324.3h0M53 322.1h0M67.3 302.8h0M59.4 322.3h0M72.8 311.7h0M59.9 320.8h0M81.9 279.2h0M71.7 314.4h0M63.4 324.7h0M66.8 325.8h0M83.3 281.3h0M81.6 283.3h0M55.3 315.1h0M69.4 313.2h0M70.1 312.5h0M57.7 328.1h0M74.9 303.4h0M73 303.2h0" stroke="#888888" stroke-opacity="0.75" stroke-width="1.6" stroke-linecap="round" fill="none"/>
<path d="M63.2 325.1h0M61.7 302.1h0M68.1 308.5h0M82.5 278.6h0M55.3 313.3h0M63.4 316.7h0M65.4 320.4h0M81.8 284.7h0M65.4 322.7h0M80.5 283.4h0M56.1 305.3h0M73.9 308h0M64.4 327.6h0M73.1 308.5h0M59.2 309.1h0M68.4 306.9h0M82.1 285.9h0M81.3 285.7h0M62.4 329.3h0M69.7 311.2h0M76.1 303.7h0M70.6 316.9h0M57.8 321.6h0M59 320.5h0M82.1 281.4h0M80.1 280.7h0M65.6 329.5h0M68.3 317.4h0M63.4 323.4h0M57.9 325.8h0M52.9 309h0M61.6 329.5h0M70 303.9h0M63.2 310.4h0M63.9 330h0M83.6 276.5h0M62.2 322.8h0M81.7 285.9h0M60.5 319.1h0M66.2 325.1h0" stroke="#888888" stroke-opacity="0.75" stroke-width="1.6" stroke-linecap="round" fill="none"/>
<path d="M74.9 305.9h0M71.6 307.7h0M58.5 327h0M72.6 310.4h0M68.5 321.6h0M68 319.9h0M62.2 326.7h0M70.3 316.1h0M66.6 327.2h0M69.8 314.9h0M63 303.8h0M67.9 305.4h0M83.2 280.6h0M67 324.2h0M61.8 320.7h0M52.7 325.4h0M62.9 320.4h0M68.3 324.3h0M81.2 284.6h0M69.7 311.8h0M64.2 303.5h0M73.5 302.5h0M71.1 304.2h0M63.6 324.3h0M55.6 328.9h0M67 314.9h0M66.8 313.5h0M59.6 308.9h0M63.5 329.5h0M66.5 328.7h0M48.2 323.3h0M80.9 285.6h0M71.2 313.5h0M68.7 320.2h0M73.1 305.2h0M62.6 312.7h0M72.6 309.6h0M72.3 313.7h0M54.7 312.6h0M81.5 286.5h0" stroke="#888888" stroke-opacity="0.75" stroke-width="1.6" stroke-linecap="round" fill="none"/>
<path d="M83.7 278.7h0M52.1 303.4h0M72.4 314.1h0M63.8 321.3h0M60.2 330.2h0M82.3 280.9h0M80.7 287.5h0M52.7 309.4h0M67.4 313.8h0M61.9 329.3h0M66.6 311.1h0M133.1 325.9h0M133.9 321.9h0M125.2 330.8h0M124.3 316.2h0M122.9 328h0M133.3 328.9h0M119.6 319.8h0M118.1 311.2h0M123.1 316.1h0M119.7 308.7h0M122.6 323.3h0M141.2 330.5h0M128.2 316.6h0M133.6 325.1h0M146.7 330h0M136 304.9h0M119.7 318.5h0M141.4 325.7h0M136.8 322.9h0M150.1 319.7h0M133.1 324.2h0M127.7 322.2h0M147.7 329.6h0M126.5 328.3h0M118.5 314.7h0M132.3 318.8h0M127.2 330.3h0M138.9 319h0M128.5 309.8h0" stroke="#888888" stroke-opacity="0.75" stroke-width="1.6" stroke-linecap="round" fill="none"/>
<path d="M126.9 327.6h0M131.2 326.3h0M125.5 324.9h0M128.1 326h0M130.5 327.5h0M133.7 330.7h0M118.4 305.9h0M122.7 328.1h0M132.9 317.6h0M144.1 323.4h0M128.7 312.1h0M123.6 328h0M141.8 322.9h0M122.4 303.5h0M122.5 304h0M116.5 303h0M144.1 324.4h0M127.2 327.4h0M138.7 323.2h0M127.9 312.2h0M119.3 317.1h0M122.3 313.1h0M117.4 302.4h0M120.5 321.2h0M116.6 309.2h0M122.9 322.2h0M124.2 328.6h0M123.4 329.8h0M113.5 302.1h0M126.3 322.3h0M118.6 312.1h0M115.2 306.5h0M124.6 311.6h0M122.9 325.1h0M116.7 306.6h0M121.9 319.6h0M120.6 316.2h0M128.6 315.2h0M123.8 328.5h0M122.3 323.1h0" stroke="#888888" stroke-opacity="0.75" stroke-width="1.6" stroke-linecap="round" fill="none"/>
<path d="M126.5 325.1h0M123.2 314.5h0M114.3 305.6h0M151.4 323.1h0M131.3 330.5h0M127.9 321.5h0M127.4 315.2h0M125.5 310.3h0M142.3 328h0M114.1 302.7h0M130.4 321.8h0M130.1 320.2h0M130.3 320.9h0M121.3 308.4h0M123.3 322.8h0M120.2 309.5h0M131.2 314.6h0M140.7 329.5h0M130.2 314.8h0M120.6 314.2h0M134.3 310.4h0M144.9 303.8h0M123.7 312.1h0M131.5 308.1h0M129.4 326.4h0M137.1 311.7h0M125.4 304.2h0M124.2 314.1h0M128.7 322.4h0M124 320.5h0M117.2 302.1h0M130.4 327.8h0M121.8 315.1h0M123.4 326.5h0M131.3 316.2h0M122.2 314.7h0M125.7 326.2h0M117.3 308.9h0M138 311.9h0M131.1 314.4h0" stroke="#888888" stroke-opacity="0.75" stroke-width="1.6" stroke-linecap="round" fill="none"/>
<path d="M123.1 303.3h0M146.4 308.3h0M130.7 314.5h0M126.7 315.8h0M147 323.5h0M126.3 310h0M123.8 328.2h0M124.8 313.7h0M124.2 326.2h0M133.1 320.9h0M114.9 306.1h0M122.5 325.6h0M120.9 315.9h0M130.7 312.6h0M122.8 315.5h0M142.5 324.4h0M129.7 324.7h0M126.2 328.4h0M122.4 320.9h0M118.5 313.2h0M122.6 322.8h0M134.4 313.2h0M139.4 322.8h0M125.6 313.1h0M137.8 307.1h0M129.4 315.2h0M125.6 317.7h0M130.3 325.3h0M142.5 326.3h0M121.4 319.6h0M139.7 321.7h0M143.4 313.5h0M123.9 325.7h0M128.4 327h0M137.4 317.3h0M124.7 327.2h0M127.9 328.8h0M135.3 328.4h0M123 326.1h0M118.1 314.9h0" stroke="#888888" stroke-opacity="0.75" stroke-width="1.6" stroke-linecap="round" fill="none"/>
<path d="M126 313.7h0M125 326.6h0M124.8 323.6h0M119.4 306.6h0M127.9 328.7h0M129.7 309.9h0M132 305.7h0M123.7 305.4h0M131.9 325.5h0M123.8 326.6h0M127.3 303.4h0M133.5 330.8h0M125.8 308.6h0M121.7 322.7h0M122.6 302.6h0M124.7 324.7h0M122.6 319.5h0M123.6 323.3h0M120.4 313.8h0M123.5 318.5h0M121.1 318.5h0M118 307h0M125.9 310.7h0M126.8 321.6h0M150 327.7h0M143 303.5h0M129.5 303.7h0M117.8 309.5h0M125.1 313.3h0M133.4 302.9h0M119.8 320.3h0M129.5 319.3h0M124 317.9h0M127.8 329.2h0M124.4 330.3h0M125.8 322.4h0M129.5 321.4h0M119.8 303.5h0M123.6 316.8h0M139 329.6h0" stroke="#888888" stroke-opacity="0.75" stroke-width="1.6" stroke-linecap="round" fill="none"/>
<path d="M123.4 312.7h0M119.3 313.9h0M130 326.8h0M133.7 302.3h0M135.1 327.3h0M130.2 324.7h0M120.1 318.7h0M132.7 313.7h0M122.5 322.9h0M118.2 313.3h0M117.7 308.8h0M119.5 319.5h0M130.7 322.9h0M119.8 309.4h0M132.5 302.4h0M121.2 324.3h0M121.5 321.9h0M142.7 328h0M129.7 325h0M125.1 319.3h0M137.5 317.2h0M128.1 318.1h0M139.4 321.6h0M122 326.5h0M121.7 320.7h0M149 305.5h0M118.9 313.4h0M141.4 305.3h0M120.6 310.2h0M122.2 307.2h0M138.5 326.4h0M125.9 313.8h0M116.1 310.3h0M129.3 317.7h0M143 313.5h0M123.8 329.1h0M127.6 321.6h0M130.4 306.2h0M132.9 321.2h0M116.4 310h0" stroke="#888888" stroke-opacity="0.75" stroke-width="1.6" stroke-linecap="round" fill="none"/>
<path d="M124.5 304.9h0M121.5 321.2h0" stroke="#888888" stroke-opacity="0.75" stroke-width="1.6" stroke-linecap="round" fill="none"/>
<path d="M108.2 253.8h0M109.9 265.8h0M87.2 293h0M114.9 281.7h0M89.4 293.4h0M105.6 285.5h0M102.1 297.3h0M105.5 260.4h0M104.9 295.4h0M107.8 240.8h0M108 267.3h0M89.6 287.1h0M85.6 238.1h0M87.4 258.7h0M94.3 296.9h0M89.7 276.8h0M104 298.3h0M110.5 266.7h0M113.7 286.3h0M87.8 250.2h0M85.2 274.3h0M83.1 273h0M88.5 293.4h0M88.3 286.4h0M82.8 262.4h0M87.3 269.1h0M113.1 273h0M91.4 294.4h0M86.6 262.3h0M107.8 270.4h0M106.2 270.7h0M90.8 298.8h0M105.7 297.8h0M87.9 297.5h0M90.8 289.3h0M110.6 289.3h0M91.9 300.7h0M108.4 236.9h0M103.6 288.9h0M102.8 289.9h0" stroke="#858585" stroke-opacity="0.75" stroke-width="1.6" stroke-linecap="round" fill="none"/>
<path d="M88.1 296.8h0M105.4 281.7h0M103.5 280.4h0M89.6 283.8h0M108 265.5h0M83.3 299.2h0M111 259.9h0M88.2 260h0M110.4 243h0M86.3 281.7h0M109.7 256.5h0M103.1 293.5h0M81.2 251.2h0M104.1 298.1h0M105.1 290.6h0M89.4 276.3h0M110 227.1h0M103.8 276.8h0M81.7 266.6h0M88.1 281.2h0M107.8 295.8h0M103.6 298.4h0M91.3 269.7h0M84.6 288.7h0M90.8 289h0M93.3 297.2h0M112.7 295.7h0M90 260.7h0M111.4 246.8h0M87.8 289.3h0M90.5 268.1h0M84.3 277.3h0M82.1 262.2h0M108 237.8h0M82.5 266.3h0M90.4 261.9h0M107.2 299.1h0M93.6 294.5h0M85.7 260.1h0M112.8 243.4h0" stroke="#858585" stroke-opacity="0.75" stroke-width="1.6" stroke-linecap="round" fill="none"/>
<path d="M91.2 269.8h0M113.1 289.2h0M92 287.9h0M112.8 290.8h0M106 270.9h0M92.4 285.6h0M93 300.1h0M89 285.2h0M87.2 257.9h0M103.5 294.2h0M80.9 276.1h0M81.3 276.3h0M87.1 295.9h0M87.1 289.3h0M85.1 276.8h0M93.6 296.5h0M89.1 286.5h0M91 270.3h0M105.8 289.2h0M106.1 299.6h0M82.3 274.6h0M88.3 278.5h0M106.1 298h0M106.4 273.9h0M107.1 285.6h0M105.9 284.9h0M105.6 290.7h0M106.7 293.8h0M90.4 270.9h0M92.8 284.6h0M106.3 262.7h0M80.4 274.1h0M91 292.6h0M86.8 293.3h0M104.3 294.5h0M111 298.4h0M104.6 296.7h0M90.2 293.8h0M101.3 297.8h0M85.5 292h0" stroke="#858585" stroke-opacity="0.75" stroke-width="1.6" stroke-linecap="round" fill="none"/>
<path d="M83.4 265h0M109 262.4h0M88 259.5h0M111.1 238.6h0M83.9 269h0M92.3 283.3h0M104.5 274.5h0M111.8 295.4h0M86.6 274.9h0M89.2 257.1h0M91.1 275.6h0M103.8 287.7h0M115 295.9h0M107.5 241.8h0M85.5 254.8h0M84.6 299.1h0M113.7 267.1h0M108.9 274.9h0M114.6 266.2h0M85.9 277.6h0M107.6 284.6h0M105.4 271.5h0M87.9 280.8h0M106 297.4h0M87 278.2h0M92.8 292.6h0M91.8 293.9h0M104 285.5h0M107.5 287h0M84.9 273.5h0M103.9 296.9h0M109.3 285.3h0M113.5 277.5h0M105.2 273.6h0M104.8 288.2h0M83.2 275h0M93.9 274.7h0M90 280.2h0M93.4 283.6h0M91.1 282.8h0" stroke="#858585" stroke-opacity="0.75" stroke-width="1.6" stroke-linecap="round" fill="none"/>
<path d="M85.6 282.3h0M84.9 273.5h0M83.7 291.5h0M93.4 263.9h0M92.9 283.8h0M89.6 270.6h0M83.9 266.8h0M88.6 268.6h0M82.6 282.9h0M82.1 256.8h0M91.4 267.1h0M83.9 272.8h0M82.1 285.9h0M83.8 264.7h0M80.3 276.4h0M89.3 285.5h0M80.7 267.6h0M81.6 285.4h0M85.3 287.3h0M83.4 282.1h0M85 283.8h0M83.8 258.3h0M92.5 284.7h0M92.7 264.7h0M92.6 263.6h0M80.5 274.2h0M92.1 276.1h0M87.4 260.8h0M87.3 269.5h0M81.2 291.2h0M90.9 289.5h0M84.7 290.6h0M83.1 282.7h0M92.4 283.2h0M89.2 274.4h0M82.8 270.9h0M85.7 290.1h0M82.7 285.8h0M88.8 279.8h0M86.8 290.9h0" stroke="#858585" stroke-opacity="0.75" stroke-width="1.6" stroke-linecap="round" fill="none"/>
<path d="M86 271.3h0M83.3 288.2h0M86.5 281.9h0M81.1 281.8h0M81.3 256.5h0M80.2 272.6h0M90.5 279.1h0M93 290.8h0M90.8 279.8h0M92.7 278h0M89.2 268.4h0M92.3 290.8h0M92.5 288.1h0M87.7 255.8h0M86.2 280.2h0M84.5 271.3h0M81.7 258.9h0M84.5 291.5h0M80.5 285.6h0M91 275.3h0M92.2 278h0M90.3 269.6h0M89.1 291.4h0M88.7 275.4h0M92.7 278.1h0M83.2 252.9h0M88.1 260.8h0M88.8 257.1h0M84 279.9h0M83.8 286.6h0M88.9 260.4h0M85.9 270.3h0M87.4 268.9h0M90.6 287.5h0M84.3 282.8h0M87.2 276.6h0M88.2 284.1h0M88.6 268.3h0M87.9 278.6h0M84.9 277.8h0" stroke="#858585" stroke-opacity="0.75" stroke-width="1.6" stroke-linecap="round" fill="none"/>
<path d="M92.2 273.2h0M81.5 288.2h0M90.9 276.7h0M81.2 286.6h0M93 269.2h0M81.8 287.5h0M86.8 285.1h0M89.5 273.2h0M83.2 289.9h0M91.9 283.2h0M83.2 268.8h0M93.3 287.4h0M85.6 289.5h0M84.4 274.6h0M80.3 269.2h0M91.4 262.2h0M85.9 272.4h0M90.5 287.7h0M91.4 271.1h0M93.4 277.8h0M90.5 282.3h0M90 271.5h0M92.3 291.6h0M91.8 283.9h0M91.4 291.7h0M84.3 284.1h0M93.5 256.7h0M88 283.1h0M85.7 280.6h0M84.6 263.5h0M84.6 284.4h0M90.8 288h0M88.9 291.3h0M87.5 271.4h0M86.4 287.1h0M83.7 284h0M86.6 272.5h0M83.5 289.6h0M83.1 287.4h0M83.2 262.2h0" stroke="#858585" stroke-opacity="0.75" stroke-width="1.6" stroke-linecap="round" fill="none"/>
<path d="M81.2 286.3h0M80.3 282.2h0M85.7 285.2h0M85.5 275.5h0M91.6 266.7h0M84.1 276.1h0M87.5 272.5h0M84.5 284.8h0M85.9 278h0M87 286.4h0M85.9 291.8h0M90.1 261.8h0M86.2 264.8h0M82.9 262.6h0M114.6 244.2h0M101.4 269.6h0M105.4 259.4h0M105.5 279.6h0M106.6 267h0M114.1 274.7h0M105.9 261.8h0M101.6 281.8h0M111.3 246.5h0M111 258.4h0M101.9 269.9h0M104.5 282.4h0M100.8 272.9h0M111.9 276.7h0M101.7 260.6h0M113.8 284.6h0M106 279.3h0M115.3 281.1h0M102.5 280.1h0M111.3 284.9h0M102 270.5h0M113.9 260.9h0M112.5 278.9h0M103.1 266.2h0M100.8 252.8h0M104.9 253.9h0" stroke="#858585" stroke-opacity="0.75" stroke-width="1.6" stroke-linecap="round" fill="none"/>
<path d="M102.3 253.9h0M104.9 253.7h0M110.4 284.9h0M103.7 259h0M108.8 273.4h0M110.3 278.1h0M112.4 267.6h0M112.4 280.3h0M102.8 249.1h0M105.9 273.7h0M100.8 260h0M108.2 282.9h0M102.9 274.2h0M103 278.7h0M105.1 283.9h0M112.3 266.3h0M113.4 250.8h0M113.8 261h0M111.9 271.4h0M113.4 257.5h0M100.5 262.3h0M110.4 280.4h0M102.5 278.7h0M110.9 281.8h0M110.6 280.4h0M111.7 254.7h0M106.4 284h0M107.4 277.1h0M104.1 278.4h0M114.3 275.3h0M106.5 282h0M110.2 248.8h0M107.3 280.5h0M106.7 265.8h0M100.4 263.6h0M107.9 283.3h0M108.4 267.3h0M101.5 273.7h0M115 251.6h0M103.3 281.9h0" stroke="#858585" stroke-opacity="0.75" stroke-width="1.6" stroke-linecap="round" fill="none"/>
<path d="M100.2 278.8h0M111.8 278.8h0M109.1 270.9h0M106.4 279.8h0M105.1 257h0M113.6 254.7h0M108.5 266.2h0M103.9 251.8h0M106.1 260.6h0M108.4 280.2h0M103.9 278.6h0M115.1 279.2h0M104.6 258.6h0M105.1 265h0M110.9 252h0M101.3 265h0M102.3 248.9h0M110 272.9h0M110 260.2h0M112.3 253.3h0M115.5 282.1h0M109.2 253.3h0M110.5 281.1h0M100.7 266.3h0M103.5 278.9h0M105.4 270.5h0M114.5 283.1h0M106.1 245.5h0M103.3 282.1h0M103.1 268h0M106.9 278.1h0M112.4 260.3h0M114.6 269.9h0M106.2 280.7h0M103.5 262.2h0M110.3 272.1h0M101.2 278.7h0M109.8 277.1h0M100.8 264.7h0M102.7 249.3h0" stroke="#858585" stroke-opacity="0.75" stroke-width="1.6" stroke-linecap="round" fill="none"/>
<path d="M108.9 273.8h0M104.3 259.2h0M100.4 259h0M113.5 268.1h0M105.9 257.1h0M107.3 260.5h0M110 279.6h0M109.4 275.4h0M108.5 257.5h0M114.9 271.5h0M106.1 266h0M109.7 271.7h0M107.3 283.2h0M101.5 274.4h0M108.4 258.8h0M106.3 252.8h0M107 248.2h0M107.9 284.6h0M103.8 284.2h0M102.6 246.5h0M102.1 280.5h0M101.4 256.6h0M111.3 284.6h0M101 269.5h0M107.8 271.5h0M106 276.6h0M103.6 248.7h0M112.6 278.8h0M109.2 243.4h0M110.6 265h0M106.7 260.4h0M104.4 282.1h0M109.2 275.3h0M102.5 271.3h0M110.8 280.2h0M101.8 265.2h0M115 281h0M110.1 278.9h0M114.3 277.3h0M100.2 274.4h0" stroke="#858585" stroke-opacity="0.75" stroke-width="1.6" stroke-linecap="round" fill="none"/>
<path d="M111 256.7h0M112.4 262.5h0M107 278.8h0M105 271.1h0M103.7 279.5h0M105.3 278.1h0" stroke="#858585" stroke-opacity="0.75" stroke-width="1.6" stroke-linecap="round" fill="none"/>
<path d="M77.4 287.6h0M65.8 296.4h0M67.2 290.3h0M78.1 300.8h0M66.5 298h0M70.5 287.8h0M76.5 291h0M63.7 296.6h0M76.5 287h0M66.3 297.8h0M66.2 295.6h0M61.8 293.8h0M76.4 294.4h0M76.9 297.7h0M71.7 287h0M75.7 296.7h0M61.4 297.7h0M73.2 299.6h0M54.3 287.7h0M57.7 294h0M68.7 297.3h0M72.8 301.9h0M73.8 289.7h0M59.3 290.9h0M59.3 301.6h0M57.2 288.8h0M67.9 299.2h0M50.5 284.7h0M62.3 295.7h0M71 284.1h0M75.4 288.3h0M71.7 286.6h0M67 293.1h0M72.4 296.5h0M64.4 290.8h0M60.4 298.9h0M64.7 287.4h0M74.7 294.6h0M69.4 300.5h0M78.8 286.6h0" stroke="#7fa9d2" stroke-opacity="0.8" stroke-width="1.6" stroke-linecap="round" fill="none"/>
<path d="M75.7 292.4h0M54.1 292.5h0M66.2 289.9h0M66.8 287h0M77.6 292.5h0M78.7 301.7h0M70.4 299h0M72.5 301.5h0M72.4 296.7h0M71.5 291.1h0M72.4 294.4h0M67 280.8h0M78.2 282.9h0M71.2 295.3h0M76 301.6h0M77.6 285.9h0M75.1 287.6h0M77.7 293.5h0M73.9 288h0M70.5 290.1h0M73.8 285.2h0M70.8 298.8h0M73.4 295.8h0M67.7 296.2h0M71.6 298.9h0M76.7 283.2h0M73.4 301.2h0M73.6 282.5h0M71.7 296.2h0M78.8 292.1h0M67.8 287.8h0M76.8 287.2h0M74.1 293h0M76.1 285.8h0M78.5 294.7h0M77.1 293.9h0M78.2 301.9h0M77.9 292.1h0M76.5 289.7h0M79.2 296.7h0" stroke="#7fa9d2" stroke-opacity="0.8" stroke-width="1.6" stroke-linecap="round" fill="none"/>
<path d="M76.3 298.6h0M75.7 299.3h0M79.2 297.2h0M77.6 301.6h0M78.8 298.2h0M76.9 290.2h0M78.5 301.5h0M69 295.3h0M73.9 292h0M79.2 296.1h0M76.1 289.3h0M70.9 271.2h0M76.7 283.6h0M76.4 283.8h0M74.2 299.3h0" stroke="#7fa9d2" stroke-opacity="0.8" stroke-width="1.6" stroke-linecap="round" fill="none"/>
<polygon points="115.6,301.5 115.6,270 118,267 121,268 123,275 124,288 124,301.5" fill="#cf4c47"/>
<path d="M115.7 301.8h0M119.8 300.7h0M145.8 300.7h0M114.2 298.3h0M126.4 301.8h0M117.3 298.9h0M114.2 297.3h0M125 300.2h0M132 301.2h0M129.3 296.8h0M114.1 301.9h0M130.7 299.3h0M119.8 299.7h0M120.8 297.4h0M116.7 299.9h0M121.3 301.8h0M126.2 301.1h0M130 300.4h0M116.8 296.6h0M122 298.7h0M115.6 299.1h0M125.2 296.5h0M126.6 298.1h0M121.6 288.2h0M128.9 275.6h0M133.8 298.1h0M128 270.4h0M134.3 279.4h0M120.2 270.6h0M122.7 265.7h0M125.2 292.5h0M142.1 295.1h0M140 283.9h0M132.9 255.7h0M117.6 295.1h0M134 270.2h0M124 301.3h0M127.4 282.2h0M136.5 295.4h0M122.3 261.1h0" stroke="#dc6a66" stroke-opacity="0.75" stroke-width="1.6" stroke-linecap="round" fill="none"/>
<path d="M132.8 281h0M122.6 280.9h0M144.4 292.6h0M133.6 277.5h0M116.1 272.5h0M119.3 300.5h0M115.9 267.4h0M118 283.4h0M130 300.6h0M135.4 297.2h0M128.7 257.6h0M116.7 281.6h0M121.3 283.9h0M117.9 282h0M127.7 274.2h0M121.7 269.4h0M137.2 287.5h0M123.8 296.2h0M121.4 300.4h0M127.7 294.4h0M137 251.2h0M143.8 254.9h0M116.3 291.2h0M130.5 300.3h0M129.4 275.3h0M118 298.2h0M131 278h0M117.9 301.9h0M128.2 295.6h0M117.9 260.9h0M121.7 295.7h0M136.1 263.3h0M118.9 274.3h0M132.3 289h0M120.4 295.2h0M129.2 290.9h0M136.6 276.6h0M121.4 284.5h0M122 286.8h0M148.1 283.6h0" stroke="#dc6a66" stroke-opacity="0.75" stroke-width="1.6" stroke-linecap="round" fill="none"/>
<path d="M127.4 273.2h0M115.8 263.9h0M124.8 279.4h0M136.5 236.9h0M118.7 299.2h0M122.6 301.9h0M123.6 294.8h0M132.5 296.4h0M122.6 281.3h0M123.2 281.6h0M128.1 286.3h0M122.3 268h0M117 298.4h0M119.9 294.6h0M119.4 282.9h0M115.9 255.1h0M117.8 286.7h0M116.7 282.2h0M142.5 240h0M131.3 290.9h0M117.6 280.8h0M134 279.7h0M124.5 218.1h0M125 269.7h0M122 291.4h0M134.5 295.2h0M132.1 273.9h0M135.5 295.5h0M117.5 289.1h0M140.6 300.8h0M116.9 282.8h0M122.2 281.1h0M115.8 283.6h0M123.8 260.3h0M117.8 295h0M120.7 285.8h0M139.4 278.4h0M121 275.2h0M119.6 295.8h0M116.6 282h0" stroke="#dc6a66" stroke-opacity="0.75" stroke-width="1.6" stroke-linecap="round" fill="none"/>
<path d="M125.8 296.1h0M120.1 297.1h0M134.1 290.4h0M122.7 297h0M130.7 291.1h0M119.7 293.5h0M119.4 294.2h0M121.4 287.1h0M134.8 271.4h0M119.9 288.9h0M133.6 243h0M117.5 287.2h0M118 297.7h0M122.5 233.3h0M116.6 295.5h0M116.8 295.8h0M124.6 299.5h0M131.3 296.7h0M121.9 281.7h0M127.1 275.8h0M127.8 268.2h0M117.9 276.3h0M119.3 265.6h0M118.6 300.6h0M123 272.9h0M131.1 286.1h0M128.9 299.5h0M116.6 264.2h0M132.9 272.3h0M118.9 296.6h0M135 290.7h0M123.9 293.5h0M135.8 298.4h0M123.5 282.3h0M145.4 293.7h0M124.6 295.3h0M130.1 290.1h0M134.6 294.2h0M120.6 298.2h0M144.8 291.6h0" stroke="#dc6a66" stroke-opacity="0.75" stroke-width="1.6" stroke-linecap="round" fill="none"/>
<path d="M130.2 272.8h0M134.5 299.9h0M123.8 297.1h0M129 300.4h0M127.3 290.1h0M130.8 269.9h0M129.2 289.8h0M127.3 290.2h0M134.9 285.2h0M128.9 278h0M143.4 240.9h0M119.5 283.9h0M126.2 270.8h0M146.2 301.4h0M124.9 257.7h0M131.5 292.3h0M128.8 279.2h0M121.7 278.2h0M116.9 291.6h0M116.8 292.8h0M144.5 281.6h0M125.8 275.6h0M117 298.3h0M147.9 278.7h0M131.2 252.6h0M137.2 279.1h0M121.7 253.2h0M118.4 278.2h0M128.2 291h0M127 280h0M127.1 234.1h0M127.9 280.2h0M123.7 300.7h0M116 259.8h0M117.3 263.7h0M127.1 269.3h0M125.4 277.4h0M124.7 293.3h0M117.6 281.1h0M125.8 277.8h0" stroke="#dc6a66" stroke-opacity="0.75" stroke-width="1.6" stroke-linecap="round" fill="none"/>
<path d="M148.1 286.7h0M135.6 265.8h0M133.9 287.2h0M130.6 294.7h0M123.2 287.6h0M123.8 262.3h0M120.5 265.6h0M120.2 292.9h0M117.3 296.3h0M129.3 248.9h0M119.8 252.8h0M117.3 299.7h0M117.7 276h0M135.1 253.5h0M120.4 265.8h0M117.2 295.1h0M121.8 298.2h0M136.9 273.3h0M118.6 282.9h0M124.5 273.7h0M118.6 271h0M121.3 279.6h0M119.7 270.7h0M130.6 296.7h0M134.8 290.5h0M129.8 283.8h0M119.1 290.1h0M117.3 295h0M122.7 284.7h0M124.6 294.6h0M125.9 278.6h0M129.6 272.2h0M121.3 297.6h0M134.5 277h0M123.7 278.1h0M117.6 301.8h0M123.7 298h0M126.5 293.3h0M123 267.5h0M133.3 260.8h0" stroke="#dc6a66" stroke-opacity="0.75" stroke-width="1.6" stroke-linecap="round" fill="none"/>
<path d="M118.4 287.5h0M134.7 297.5h0M126.6 279.9h0M136.6 273.7h0M119.5 297.5h0M121.3 278.1h0M125.6 264.3h0M137.6 232.2h0M122.8 282.5h0M127.1 262.7h0M127 272.4h0M124.8 292.8h0M122.1 266.3h0M117.3 300.8h0M119.9 293.2h0M117.9 287.1h0M115.8 281h0M129.6 285.9h0M134.2 291.5h0M135 285.6h0M116.8 258.2h0M121.5 265.5h0M116.9 294.2h0M116 268.1h0M116.3 300.4h0M120 253.8h0M117.9 292.6h0M121.6 257.7h0M117.5 273.1h0M123.4 283h0M148.8 279.5h0M117.2 271h0M126 259.1h0M116.1 299.5h0M119.1 273.4h0M116.6 300.4h0M130.9 275.6h0M124.6 272.9h0M126.6 261.5h0M132.6 280.4h0" stroke="#dc6a66" stroke-opacity="0.75" stroke-width="1.6" stroke-linecap="round" fill="none"/>
<path d="M137.2 282.2h0M117.4 287.5h0M137.3 272.4h0M127 283.5h0M118.1 271.8h0M129.1 301h0M129.7 285.6h0M121.9 289h0M135.9 283.4h0M119.1 273h0M132.6 286.6h0M136.1 286.2h0M148.5 284.5h0M117.4 273.4h0M128.2 294.3h0M134.9 283h0M133.3 283.4h0M121.6 247.4h0M123.9 246.3h0M122 283.7h0M130.5 286.2h0M121.7 285.9h0M119.4 270h0M141.8 287.2h0M123.6 288.6h0M122.9 294.1h0M116.8 291.4h0M115.9 301.6h0M132.3 293.4h0M123.8 268.3h0M126.5 286.2h0M116 244.8h0M133.1 271.3h0M130.7 257.8h0M116.1 246.1h0M120.6 270h0M126.9 291h0M129.9 297.3h0M122.7 258.2h0M116.9 243.7h0" stroke="#dc6a66" stroke-opacity="0.75" stroke-width="1.6" stroke-linecap="round" fill="none"/>
<path d="M125.8 293.6h0M122.7 290.1h0M117 283.8h0M116 264.6h0M127.4 247.7h0M116.3 261.1h0M116.9 273.7h0M133.2 298.2h0M128 292.4h0M122.2 298.9h0M132 279.8h0M128.6 299h0M118.1 264.8h0M119.8 263.5h0M129.7 300h0M149.7 242.4h0M122 293h0M127.1 298.6h0M131.5 278.8h0M121.7 299.7h0M116.4 281.3h0M136.7 286.2h0M138.2 242.8h0M134.3 265.4h0M134.6 297.7h0M120.5 298.5h0M131 275.2h0M140.2 301.2h0M133.1 300.9h0M119.8 296.2h0M123.8 266.2h0M137.7 285.4h0M129.7 252.6h0M122.2 246.2h0M120.5 297.4h0M128.5 233h0M137.9 276h0M131.2 276.7h0M116.7 296.6h0M121.6 273.3h0" stroke="#dc6a66" stroke-opacity="0.75" stroke-width="1.6" stroke-linecap="round" fill="none"/>
<path d="M116.7 297.3h0M116.7 270.3h0M124 276.9h0M124.3 270.8h0M134.3 286.9h0M132.6 284.9h0M142.3 261h0M122.3 296.3h0M116.1 268.3h0M117.5 294.8h0M121.2 284.4h0M130.3 273.7h0M127.2 301.5h0M120.9 275.4h0M142.8 294.5h0M120.8 252h0M116 282.7h0M120.9 293.4h0M137 290.2h0M123.5 248.4h0M128.3 288.8h0M123.7 278.5h0M129.6 272.7h0M131.9 287.4h0M117.5 279.6h0M116.4 278.5h0M124.9 298.6h0M144 238.2h0M120.1 297.5h0M123.3 282.8h0M133.9 302h0M124.4 267.5h0M131.7 295.5h0M118.7 300h0M118.3 281.7h0M126.8 289.7h0M126.9 299.9h0M122.9 296.1h0M120.4 277.9h0M116.6 288.4h0" stroke="#dc6a66" stroke-opacity="0.75" stroke-width="1.6" stroke-linecap="round" fill="none"/>
<path d="M136.7 297.6h0M139.7 294h0M129.4 294.3h0M117 290.1h0M133.7 290.7h0M128.2 273.7h0M123.1 281.9h0M117.2 291.1h0M118.2 293.1h0M120.8 287.8h0M117 298.3h0M123 270.2h0M124.7 293.1h0M130.6 293h0M122.9 291.8h0M130.5 286.9h0M128.2 290.3h0M129.7 285.5h0M116.7 278.5h0M117.8 291.7h0M132.7 290.8h0M118.3 296.2h0M143.5 280.7h0M119.6 286.7h0M144.6 294.7h0M128.5 299.6h0M126.6 295.7h0M130.2 279.1h0M120.6 288.2h0M125.4 282.3h0M116.9 290.5h0M130.6 231.4h0M123.2 257.5h0M117 256.3h0M126.2 266.7h0M132.8 292.1h0M118.8 269.4h0M126.1 252h0M119.9 287h0M124.6 294.3h0" stroke="#dc6a66" stroke-opacity="0.75" stroke-width="1.6" stroke-linecap="round" fill="none"/>
<path d="M121.1 298.9h0M125.6 276.7h0M133.2 273.5h0M117.1 257.1h0M129 277.8h0M125.4 262.4h0M116.3 291.2h0M118.4 246.8h0M127.9 289.7h0M138.9 291.3h0M123.6 246.1h0M118.2 302h0M120.9 279.6h0M117.5 296.5h0M120.2 282.8h0M140.4 282.3h0M121 236h0M115.9 295.7h0M123.9 296.1h0M122.6 262.4h0M124.7 267.5h0M132.6 267.2h0M116.8 273.6h0M124.4 298.8h0M118.9 286.9h0M118.1 271.4h0M127.5 285h0M121.3 263.7h0M117 269.9h0M123.9 295.9h0M118.9 294.7h0M121.5 293.4h0M120.6 271.7h0M119.7 294.1h0M139.8 280.5h0M118.9 266.3h0M127.3 271.3h0M125.3 290.9h0M120.2 293.3h0M140.5 282.6h0" stroke="#dc6a66" stroke-opacity="0.75" stroke-width="1.6" stroke-linecap="round" fill="none"/>
<path d="M137.7 274.8h0M123 286.4h0M140.4 285.2h0M142.5 256.2h0M116.9 295.1h0M136 267.8h0M116.6 297h0M122 266.6h0M133.7 270.8h0M124.4 256.2h0M116.8 301.5h0M125.5 288.3h0M129.3 296.1h0M117.5 278.4h0M125.6 256.6h0M116.9 258.6h0M120 248h0M124.3 289.7h0M117.2 260.1h0M118.2 285.4h0M125.6 296h0M128.8 300.5h0" stroke="#dc6a66" stroke-opacity="0.75" stroke-width="1.6" stroke-linecap="round" fill="none"/>
<path d="M17.3,172.7 V330.8 H170" stroke="#333" stroke-width="0.8" fill="none"/>
<path d="M15.5,188.3 H17.3" stroke="#333" stroke-width="0.7"/>
<text x="14.90" y="190.20" font-size="5.4" text-anchor="end" fill="#222">10</text>
<path d="M15.5,216.3 H17.3" stroke="#333" stroke-width="0.7"/>
<text x="14.90" y="218.20" font-size="5.4" text-anchor="end" fill="#222">8</text>
<path d="M15.5,244.5 H17.3" stroke="#333" stroke-width="0.7"/>
<text x="14.90" y="246.40" font-size="5.4" text-anchor="end" fill="#222">6</text>
<path d="M15.5,272.6 H17.3" stroke="#333" stroke-width="0.7"/>
<text x="14.90" y="274.50" font-size="5.4" text-anchor="end" fill="#222">4</text>
<path d="M15.5,302 H17.3" stroke="#333" stroke-width="0.7"/>
<text x="14.90" y="303.90" font-size="5.4" text-anchor="end" fill="#222">2</text>
<path d="M15.5,330.4 H17.3" stroke="#333" stroke-width="0.7"/>
<text x="14.90" y="332.30" font-size="5.4" text-anchor="end" fill="#222">0</text>
<path d="M50.4,330.8 V332.6" stroke="#333" stroke-width="0.7"/>
<text x="50.40" y="338.00" font-size="5.6" text-anchor="middle" fill="#222">−5</text>
<path d="M97.7,330.8 V332.6" stroke="#333" stroke-width="0.7"/>
<text x="97.70" y="338.00" font-size="5.6" text-anchor="middle" fill="#222">0</text>
<path d="M141.9,330.8 V332.6" stroke="#333" stroke-width="0.7"/>
<text x="141.90" y="338.00" font-size="5.6" text-anchor="middle" fill="#222">5</text>
<path d="M79.6,175 V330.8"  stroke="#666" stroke-width="0.7" stroke-dasharray="1.2,1.4" fill="none"/>
<path d="M115.6,175 V330.8"  stroke="#666" stroke-width="0.7" stroke-dasharray="1.2,1.4" fill="none"/>
<path d="M17.3,302 H170"  stroke="#666" stroke-width="0.7" stroke-dasharray="1.2,1.4" fill="none"/>
<text x="96.00" y="169.30" font-size="6.4" text-anchor="middle" fill="#222">RIS vs. SARC</text>
<text x="0" y="0" fill="#222" text-anchor="middle" transform="translate(7.8,250.2) rotate(-90)" font-size="5.9">−log<tspan font-size="4.3" dy="1.5">10</tspan><tspan dy="-1.5"> (</tspan><tspan font-style="italic">P</tspan> value)</text>
<text x="100.7" y="344.6" font-size="6.1" fill="#222" text-anchor="middle">log<tspan font-size="4.3" dy="1.5">2</tspan><tspan dy="-1.5"> (fold change)</tspan></text>
<text x="38.50" y="185.50" font-size="4.6" fill="#111">IL1R1</text>
<circle cx="41.0" cy="187.5" r="0.70" fill="#999"/>
<text x="51.40" y="204.80" font-size="4.6" fill="#111">LINC01140</text>
<circle cx="67.0" cy="206.0" r="0.70" fill="#999"/>
<text x="51.40" y="215.20" font-size="4.6" fill="#111">SCARA5</text>
<circle cx="61.0" cy="217.0" r="0.70" fill="#999"/>
<text x="45.80" y="240.00" font-size="4.6" fill="#111">RASSF10</text>
<circle cx="55.0" cy="242.0" r="0.70" fill="#999"/>
<text x="64.90" y="246.00" font-size="4.6" fill="#111">GRIP2</text>
<circle cx="69.0" cy="243.0" r="0.70" fill="#999"/>
<text x="129.00" y="192.40" font-size="4.6" fill="#111">TDO2</text>
<circle cx="138.0" cy="194.0" r="0.70" fill="#999"/>
<text x="127.70" y="207.90" font-size="4.6" fill="#111">FPR1</text>
<circle cx="133.0" cy="210.0" r="0.70" fill="#999"/>
<text x="143.60" y="210.00" font-size="4.6" fill="#111">IL6</text>
<circle cx="146.0" cy="211.0" r="0.70" fill="#999"/>
<text x="160.00" y="208.50" font-size="4.6" fill="#111">IL24</text>
<circle cx="164.0" cy="211.0" r="0.70" fill="#999"/>
<text x="123.70" y="214.90" font-size="4.6" fill="#111">CCL4</text>
<circle cx="134.0" cy="216.0" r="0.70" fill="#999"/>
<text x="156.60" y="216.10" font-size="4.6" fill="#111">CSF3</text>
<circle cx="168.0" cy="218.0" r="0.70" fill="#999"/>
<text x="135.80" y="220.10" font-size="4.6" fill="#111">BCL2A1</text>
<circle cx="141.0" cy="217.0" r="0.70" fill="#999"/>
<text x="151.80" y="223.20" font-size="4.6" fill="#111">CCL20</text>
<circle cx="158.0" cy="220.0" r="0.70" fill="#999"/>
<path d="M182.2,171 V330.4 H347.5" stroke="#aaa" stroke-width="0.8" fill="none"/>
<path d="M180.7,187.4 H182.2" stroke="#999" stroke-width="0.5"/>
<text x="180.00" y="188.70" font-size="3.6" text-anchor="end" fill="#666">15</text>
<path d="M180.7,232.7 H182.2" stroke="#999" stroke-width="0.5"/>
<text x="180.00" y="234.00" font-size="3.6" text-anchor="end" fill="#666">10</text>
<path d="M180.7,278 H182.2" stroke="#999" stroke-width="0.5"/>
<text x="180.00" y="279.30" font-size="3.6" text-anchor="end" fill="#666">5</text>
<path d="M180.7,323.3 H182.2" stroke="#999" stroke-width="0.5"/>
<text x="180.00" y="324.60" font-size="3.6" text-anchor="end" fill="#666">0</text>
<path d="M192,330.4 V331.9" stroke="#999" stroke-width="0.5"/>
<text x="192.00" y="335.40" font-size="3.6" text-anchor="middle" fill="#666">−10</text>
<path d="M229.6,330.4 V331.9" stroke="#999" stroke-width="0.5"/>
<text x="229.60" y="335.40" font-size="3.6" text-anchor="middle" fill="#666">−5</text>
<path d="M267,330.4 V331.9" stroke="#999" stroke-width="0.5"/>
<text x="267.00" y="335.40" font-size="3.6" text-anchor="middle" fill="#666">0</text>
<path d="M304.5,330.4 V331.9" stroke="#999" stroke-width="0.5"/>
<text x="304.50" y="335.40" font-size="3.6" text-anchor="middle" fill="#666">5</text>
<path d="M342,330.4 V331.9" stroke="#999" stroke-width="0.5"/>
<text x="342.00" y="335.40" font-size="3.6" text-anchor="middle" fill="#666">10</text>
<path d="M259.8,171 V330.4"  stroke="#333" stroke-width="0.6" stroke-dasharray="2,1,0.6,1" fill="none"/>
<path d="M274.6,171 V330.4"  stroke="#333" stroke-width="0.6" stroke-dasharray="2,1,0.6,1" fill="none"/>
<path d="M182.2,305.4 H347.5"  stroke="#333" stroke-width="0.6" stroke-dasharray="2,1,0.6,1" fill="none"/>
<polygon points="258.9,304.2 261,304.6 263.2,305.4 267.3,321 271,305.4 273.5,304.6 275.7,304.2 275.7,323.4 258.9,323.4" fill="#000"/>
<text x="255.40" y="169.30" font-size="6.55" text-anchor="middle" fill="#222">RIFS vs. FS</text>
<text x="0" y="0" font-size="6.0" fill="#222" text-anchor="middle" transform="translate(174.5,250.4) rotate(-90)">−log<tspan font-size="4.2" dy="1.5">10</tspan><tspan dy="-1.5"> (Q value)</tspan></text>
<text x="265" y="344.6" font-size="6.05" fill="#222" text-anchor="middle">log<tspan font-size="4.3" dy="1.5">2</tspan><tspan dy="-1.5"> (fold change)</tspan></text>
<path d="M227.4 294.7h0M229.4 298.3h0M255 292.2h0M240.3 275h0M227 299.1h0M225.8 302.9h0M234.3 287.7h0M250.3 297.2h0M253.1 277.9h0M238.5 284.3h0M259.6 284.3h0M240.2 287.9h0M242.4 296.7h0M234.4 291.5h0M255.9 304h0M236.8 305h0M235.6 279.5h0M237.3 276.9h0M249.9 287.5h0M255.2 291.7h0M237.5 291h0M226.5 300.8h0M241.9 282.2h0M242.3 272.6h0M248.6 301.1h0M227.8 295.5h0M230.8 295h0M236.1 281.6h0M255.9 281.1h0M233 295.1h0" stroke="#5f7ea3" stroke-opacity="0.75" stroke-width="3.2" stroke-linecap="round" fill="none"/>
<path d="M227.4 294.7h0M229.4 298.3h0M255 292.2h0M240.3 275h0M227 299.1h0M225.8 302.9h0M234.3 287.7h0M250.3 297.2h0M253.1 277.9h0M238.5 284.3h0M259.6 284.3h0M240.2 287.9h0M242.4 296.7h0M234.4 291.5h0M255.9 304h0M236.8 305h0M235.6 279.5h0M237.3 276.9h0M249.9 287.5h0M255.2 291.7h0M237.5 291h0M226.5 300.8h0M241.9 282.2h0M242.3 272.6h0M248.6 301.1h0M227.8 295.5h0M230.8 295h0M236.1 281.6h0M255.9 281.1h0M233 295.1h0" stroke="#8aa8c8" stroke-opacity="0.75" stroke-width="2.3" stroke-linecap="round" fill="none"/>
<path d="M241.4 290.3h0M246 286.2h0M236.6 278.8h0M230.6 295.2h0M245.5 304.1h0M245.3 297.1h0M253 304.2h0M257.9 282.1h0M255.8 294.9h0M232 297.9h0M253.5 294.9h0M240.3 298.5h0M256.3 297.4h0M248 293.1h0M240.5 295.2h0M242.5 293.4h0M245.8 302.2h0M259.6 295.2h0M238.5 302.6h0M252.4 302h0M257.4 292.3h0M254.1 293.3h0M249.1 293.9h0M242.8 300.7h0M241 297.2h0M247.5 299.4h0M251.5 299.4h0M241.4 297.4h0M233.6 301.9h0M241.4 292.6h0" stroke="#5f7ea3" stroke-opacity="0.75" stroke-width="3.2" stroke-linecap="round" fill="none"/>
<path d="M241.4 290.3h0M246 286.2h0M236.6 278.8h0M230.6 295.2h0M245.5 304.1h0M245.3 297.1h0M253 304.2h0M257.9 282.1h0M255.8 294.9h0M232 297.9h0M253.5 294.9h0M240.3 298.5h0M256.3 297.4h0M248 293.1h0M240.5 295.2h0M242.5 293.4h0M245.8 302.2h0M259.6 295.2h0M238.5 302.6h0M252.4 302h0M257.4 292.3h0M254.1 293.3h0M249.1 293.9h0M242.8 300.7h0M241 297.2h0M247.5 299.4h0M251.5 299.4h0M241.4 297.4h0M233.6 301.9h0M241.4 292.6h0" stroke="#8aa8c8" stroke-opacity="0.75" stroke-width="2.3" stroke-linecap="round" fill="none"/>
<path d="M245.8 298.6h0M239.7 301.5h0M238.1 301.9h0M256.1 301.6h0M257.3 290.3h0M258.6 301.7h0M250.3 297.7h0M247.2 296.8h0M236.3 294.4h0M240.4 292.3h0M246.1 302.6h0M249.4 296.9h0M249 301.7h0M248.8 304.8h0M238.8 305h0M246.7 301.2h0M252.7 303.3h0M236 296.3h0M250.1 295.8h0M239.2 300.9h0M259.1 293.2h0M257.6 294.8h0M257.4 294.1h0M254.9 301.2h0M258.6 304.1h0M241.6 300.4h0M252.5 292.1h0M246.8 305.1h0M228.9 300.7h0M228.1 304.6h0" stroke="#5f7ea3" stroke-opacity="0.75" stroke-width="3.2" stroke-linecap="round" fill="none"/>
<path d="M245.8 298.6h0M239.7 301.5h0M238.1 301.9h0M256.1 301.6h0M257.3 290.3h0M258.6 301.7h0M250.3 297.7h0M247.2 296.8h0M236.3 294.4h0M240.4 292.3h0M246.1 302.6h0M249.4 296.9h0M249 301.7h0M248.8 304.8h0M238.8 305h0M246.7 301.2h0M252.7 303.3h0M236 296.3h0M250.1 295.8h0M239.2 300.9h0M259.1 293.2h0M257.6 294.8h0M257.4 294.1h0M254.9 301.2h0M258.6 304.1h0M241.6 300.4h0M252.5 292.1h0M246.8 305.1h0M228.9 300.7h0M228.1 304.6h0" stroke="#8aa8c8" stroke-opacity="0.75" stroke-width="2.3" stroke-linecap="round" fill="none"/>
<path d="M258.6 296.2h0M246.5 295.5h0M229.9 297.7h0M254.3 299.8h0M242 301.7h0M249.2 294.2h0M247.4 304.2h0M259 297.7h0M244.1 293.1h0M243.3 298.1h0M234 296.1h0M248.8 293.3h0M248.7 305.3h0M242.5 264h0M248 255h0M236 262h0M245 268h0M252 262h0" stroke="#5f7ea3" stroke-opacity="0.75" stroke-width="3.2" stroke-linecap="round" fill="none"/>
<path d="M258.6 296.2h0M246.5 295.5h0M229.9 297.7h0M254.3 299.8h0M242 301.7h0M249.2 294.2h0M247.4 304.2h0M259 297.7h0M244.1 293.1h0M243.3 298.1h0M234 296.1h0M248.8 293.3h0M248.7 305.3h0M242.5 264h0M248 255h0M236 262h0M245 268h0M252 262h0" stroke="#8aa8c8" stroke-opacity="0.75" stroke-width="2.3" stroke-linecap="round" fill="none"/>
<path d="M245.6 287.5h0M252.3 288.6h0M243.7 273.4h0M251.8 279h0M259.7 296.4h0M257.9 283.7h0M243.5 296.1h0M256.8 301.5h0M248.9 305.2h0M229.6 291.9h0M234.5 302.9h0M247.5 294.3h0M258.3 291.3h0M255.3 287.9h0M255.9 304.8h0M241.7 280.5h0M247.6 303.8h0M246 300.3h0M236.7 304h0M246.4 275.4h0M240.2 278.6h0M251 298.2h0M240.5 289.9h0M249.5 304.3h0M258.9 283.2h0M233.3 305.2h0M245.1 271.7h0M252.7 295.9h0M238.7 279.1h0M236 287.7h0" stroke="#5f7ea3" stroke-opacity="0.75" stroke-width="3.6" stroke-linecap="round" fill="none"/>
<path d="M245.6 287.5h0M252.3 288.6h0M243.7 273.4h0M251.8 279h0M259.7 296.4h0M257.9 283.7h0M243.5 296.1h0M256.8 301.5h0M248.9 305.2h0M229.6 291.9h0M234.5 302.9h0M247.5 294.3h0M258.3 291.3h0M255.3 287.9h0M255.9 304.8h0M241.7 280.5h0M247.6 303.8h0M246 300.3h0M236.7 304h0M246.4 275.4h0M240.2 278.6h0M251 298.2h0M240.5 289.9h0M249.5 304.3h0M258.9 283.2h0M233.3 305.2h0M245.1 271.7h0M252.7 295.9h0M238.7 279.1h0M236 287.7h0" stroke="#8aa8c8" stroke-opacity="0.75" stroke-width="2.7" stroke-linecap="round" fill="none"/>
<path d="M255.6 297.8h0M242.5 273.7h0M225.2 303.9h0M230.9 300.1h0M227 294.4h0M247.9 291.6h0M255.8 292.4h0M259.7 298.1h0M257.4 297.6h0M240.3 299.5h0M244.2 296.5h0M250.9 301h0M248.5 298.5h0M245.5 305.4h0M250.8 302.3h0M246.2 300.4h0M238.7 293.1h0M247.4 291.4h0M233.4 300.3h0M237.3 299.6h0M249.5 295.8h0M230.2 303.4h0M258.5 295.1h0M238.4 294.7h0M231.6 302.1h0M237.1 294.4h0M247.1 302.9h0M244.1 290.9h0M232.9 300.5h0M234.2 298.8h0" stroke="#5f7ea3" stroke-opacity="0.75" stroke-width="3.6" stroke-linecap="round" fill="none"/>
<path d="M255.6 297.8h0M242.5 273.7h0M225.2 303.9h0M230.9 300.1h0M227 294.4h0M247.9 291.6h0M255.8 292.4h0M259.7 298.1h0M257.4 297.6h0M240.3 299.5h0M244.2 296.5h0M250.9 301h0M248.5 298.5h0M245.5 305.4h0M250.8 302.3h0M246.2 300.4h0M238.7 293.1h0M247.4 291.4h0M233.4 300.3h0M237.3 299.6h0M249.5 295.8h0M230.2 303.4h0M258.5 295.1h0M238.4 294.7h0M231.6 302.1h0M237.1 294.4h0M247.1 302.9h0M244.1 290.9h0M232.9 300.5h0M234.2 298.8h0" stroke="#8aa8c8" stroke-opacity="0.75" stroke-width="2.7" stroke-linecap="round" fill="none"/>
<path d="M245.5 302.4h0M236.8 304h0M245.6 292h0M248.4 299.8h0M252.8 301.4h0M238.6 303.2h0M240.4 300.3h0M244.8 295h0M232.7 297.1h0M232.3 304h0M255.4 294.5h0M248.5 292.8h0M248 296.4h0M238.7 293.6h0M255.7 293h0M259.7 294.4h0M247.2 293.5h0M256.2 302.5h0M258.8 299.7h0M240.6 299.9h0M249.7 302.7h0M247.1 294.1h0M247.4 302.4h0M235.4 301.8h0M245.4 298.1h0M254.7 302.9h0M251.7 290.6h0M240.6 303.3h0M259.7 290.4h0M255.8 304h0" stroke="#5f7ea3" stroke-opacity="0.75" stroke-width="3.6" stroke-linecap="round" fill="none"/>
<path d="M245.5 302.4h0M236.8 304h0M245.6 292h0M248.4 299.8h0M252.8 301.4h0M238.6 303.2h0M240.4 300.3h0M244.8 295h0M232.7 297.1h0M232.3 304h0M255.4 294.5h0M248.5 292.8h0M248 296.4h0M238.7 293.6h0M255.7 293h0M259.7 294.4h0M247.2 293.5h0M256.2 302.5h0M258.8 299.7h0M240.6 299.9h0M249.7 302.7h0M247.1 294.1h0M247.4 302.4h0M235.4 301.8h0M245.4 298.1h0M254.7 302.9h0M251.7 290.6h0M240.6 303.3h0M259.7 290.4h0M255.8 304h0" stroke="#8aa8c8" stroke-opacity="0.75" stroke-width="2.7" stroke-linecap="round" fill="none"/>
<path d="M242.4 303.9h0M231.6 298h0M230.1 302.2h0M250.4 289.5h0M245.4 295h0M228.3 303.9h0M237.5 293.8h0M246.8 301.2h0M244.1 301.3h0M234.9 300h0M250.5 293.4h0M251.4 295.9h0M234.7 303.2h0M247.7 299.3h0M244.2 300.4h0M258.8 301.8h0M240.2 300.2h0M249.4 296.1h0M222.7 249h0M232 275h0M219 293h0" stroke="#5f7ea3" stroke-opacity="0.75" stroke-width="3.6" stroke-linecap="round" fill="none"/>
<path d="M242.4 303.9h0M231.6 298h0M230.1 302.2h0M250.4 289.5h0M245.4 295h0M228.3 303.9h0M237.5 293.8h0M246.8 301.2h0M244.1 301.3h0M234.9 300h0M250.5 293.4h0M251.4 295.9h0M234.7 303.2h0M247.7 299.3h0M244.2 300.4h0M258.8 301.8h0M240.2 300.2h0M249.4 296.1h0M222.7 249h0M232 275h0M219 293h0" stroke="#8aa8c8" stroke-opacity="0.75" stroke-width="2.7" stroke-linecap="round" fill="none"/>
<path d="M240.6 279.1h0M238.6 290h0M254.6 279.1h0M251.3 278.2h0M258.6 301.8h0M236.9 283.6h0M242.6 292.4h0M223.5 299h0M251.1 283.9h0M255 276.6h0M223.7 298.7h0M251 287.6h0M231 281h0M230.8 304h0M241.4 296.1h0M253.5 298.4h0M254 281.6h0M243.7 279.8h0M235.7 295.4h0M223.5 297.3h0M244.3 288.5h0M223.5 299h0M223.8 299h0M250.5 286.4h0M241.1 284.4h0M240.1 295.7h0M246.9 300.5h0M248.1 294.5h0M230.5 302.5h0M236 292.1h0" stroke="#5f7ea3" stroke-opacity="0.75" stroke-width="4" stroke-linecap="round" fill="none"/>
<path d="M240.6 279.1h0M238.6 290h0M254.6 279.1h0M251.3 278.2h0M258.6 301.8h0M236.9 283.6h0M242.6 292.4h0M223.5 299h0M251.1 283.9h0M255 276.6h0M223.7 298.7h0M251 287.6h0M231 281h0M230.8 304h0M241.4 296.1h0M253.5 298.4h0M254 281.6h0M243.7 279.8h0M235.7 295.4h0M223.5 297.3h0M244.3 288.5h0M223.5 299h0M223.8 299h0M250.5 286.4h0M241.1 284.4h0M240.1 295.7h0M246.9 300.5h0M248.1 294.5h0M230.5 302.5h0M236 292.1h0" stroke="#8aa8c8" stroke-opacity="0.75" stroke-width="3.1" stroke-linecap="round" fill="none"/>
<path d="M233.1 281.7h0M236.2 276h0M232.7 303.5h0M249.8 286.9h0M248.3 278.1h0M234 293.1h0M247.4 280h0M246.5 301.4h0M257.5 297.8h0M252.2 301.1h0M252.1 301.3h0M242.9 296.6h0M239.2 299.3h0M255.2 301.3h0M254.7 303.6h0M250.5 298.8h0M243.6 299.9h0M239.2 302.1h0M229.8 299.9h0M241 292.8h0M250.9 297.7h0M237.1 303.6h0M254.6 291.4h0M235 302h0M259.1 297.2h0M249.7 297.4h0M241.4 301.5h0M249.7 302.9h0M253.1 291.8h0M247 291.8h0" stroke="#5f7ea3" stroke-opacity="0.75" stroke-width="4" stroke-linecap="round" fill="none"/>
<path d="M233.1 281.7h0M236.2 276h0M232.7 303.5h0M249.8 286.9h0M248.3 278.1h0M234 293.1h0M247.4 280h0M246.5 301.4h0M257.5 297.8h0M252.2 301.1h0M252.1 301.3h0M242.9 296.6h0M239.2 299.3h0M255.2 301.3h0M254.7 303.6h0M250.5 298.8h0M243.6 299.9h0M239.2 302.1h0M229.8 299.9h0M241 292.8h0M250.9 297.7h0M237.1 303.6h0M254.6 291.4h0M235 302h0M259.1 297.2h0M249.7 297.4h0M241.4 301.5h0M249.7 302.9h0M253.1 291.8h0M247 291.8h0" stroke="#8aa8c8" stroke-opacity="0.75" stroke-width="3.1" stroke-linecap="round" fill="none"/>
<path d="M239.4 302h0M250.7 293h0M236.9 294h0M247.5 299.3h0M240.9 301.3h0M251.8 292.7h0M237.9 297.8h0M256.6 290.6h0M258.7 292.3h0M228.1 202.8h0M212.7 280.8h0M225 282h0" stroke="#5f7ea3" stroke-opacity="0.75" stroke-width="4" stroke-linecap="round" fill="none"/>
<path d="M239.4 302h0M250.7 293h0M236.9 294h0M247.5 299.3h0M240.9 301.3h0M251.8 292.7h0M237.9 297.8h0M256.6 290.6h0M258.7 292.3h0M228.1 202.8h0M212.7 280.8h0M225 282h0" stroke="#8aa8c8" stroke-opacity="0.75" stroke-width="3.1" stroke-linecap="round" fill="none"/>
<path d="M189.6 299h0" stroke="#5f7ea3" stroke-opacity="0.75" stroke-width="5.2" stroke-linecap="round" fill="none"/>
<path d="M189.6 299h0" stroke="#8aa8c8" stroke-opacity="0.75" stroke-width="4.3" stroke-linecap="round" fill="none"/>
<path d="M206.7 268.8h0" stroke="#5f7ea3" stroke-opacity="0.75" stroke-width="4.8" stroke-linecap="round" fill="none"/>
<path d="M206.7 268.8h0" stroke="#8aa8c8" stroke-opacity="0.75" stroke-width="3.9" stroke-linecap="round" fill="none"/>
<path d="M214 253.7h0" stroke="#5f7ea3" stroke-opacity="0.75" stroke-width="4.4" stroke-linecap="round" fill="none"/>
<path d="M214 253.7h0" stroke="#8aa8c8" stroke-opacity="0.75" stroke-width="3.5" stroke-linecap="round" fill="none"/>
<path d="M305.9 291.8h0M276.5 293.3h0M319.1 295.4h0M316.2 294.7h0M287.7 297h0M286 291.6h0M286.3 304.1h0M307.9 292.3h0M291 303.2h0M296.5 304.7h0M309.9 296.4h0M302.1 302.6h0M308.4 291.4h0M276.8 296.9h0M278.1 294.5h0M312.7 294.6h0M283.8 300.7h0M301.4 305h0M317.2 300.8h0M301.9 302h0M316.3 298.8h0M275.7 299.8h0M274.6 294h0M280.6 301.5h0M311 304.2h0M295.4 299.2h0M315.5 302.9h0M279.6 291.9h0M303.9 296.4h0M290.6 299.5h0" stroke="#8f4048" stroke-opacity="0.75" stroke-width="4" stroke-linecap="round" fill="none"/>
<path d="M305.9 291.8h0M276.5 293.3h0M319.1 295.4h0M316.2 294.7h0M287.7 297h0M286 291.6h0M286.3 304.1h0M307.9 292.3h0M291 303.2h0M296.5 304.7h0M309.9 296.4h0M302.1 302.6h0M308.4 291.4h0M276.8 296.9h0M278.1 294.5h0M312.7 294.6h0M283.8 300.7h0M301.4 305h0M317.2 300.8h0M301.9 302h0M316.3 298.8h0M275.7 299.8h0M274.6 294h0M280.6 301.5h0M311 304.2h0M295.4 299.2h0M315.5 302.9h0M279.6 291.9h0M303.9 296.4h0M290.6 299.5h0" stroke="#ba666d" stroke-opacity="0.75" stroke-width="3.1" stroke-linecap="round" fill="none"/>
<path d="M297.3 305.1h0M308 296.5h0M303.5 296.1h0M309.1 302.3h0M280 294.8h0M306.1 296.3h0M304.1 291.4h0M294.1 293.5h0M284.8 299.1h0M320.4 302h0M322.9 304.7h0M316.8 293.9h0M293.3 299.2h0M324.1 304.6h0M300.2 289.5h0M298 294.9h0M300.8 304.7h0M305.6 301.6h0M281.4 299.8h0M282.2 293h0M314.4 304.1h0M312.1 296.5h0M295.8 296.1h0M304.3 297.7h0M311.9 295.9h0M301.4 295.9h0M278.8 297.1h0M280.7 298.9h0M282.4 290.6h0M301.9 293.9h0" stroke="#8f4048" stroke-opacity="0.75" stroke-width="4" stroke-linecap="round" fill="none"/>
<path d="M297.3 305.1h0M308 296.5h0M303.5 296.1h0M309.1 302.3h0M280 294.8h0M306.1 296.3h0M304.1 291.4h0M294.1 293.5h0M284.8 299.1h0M320.4 302h0M322.9 304.7h0M316.8 293.9h0M293.3 299.2h0M324.1 304.6h0M300.2 289.5h0M298 294.9h0M300.8 304.7h0M305.6 301.6h0M281.4 299.8h0M282.2 293h0M314.4 304.1h0M312.1 296.5h0M295.8 296.1h0M304.3 297.7h0M311.9 295.9h0M301.4 295.9h0M278.8 297.1h0M280.7 298.9h0M282.4 290.6h0M301.9 293.9h0" stroke="#ba666d" stroke-opacity="0.75" stroke-width="3.1" stroke-linecap="round" fill="none"/>
<path d="M274.9 302.2h0M289.4 303.7h0M321.5 299.9h0M292.6 302.3h0M279.1 294.5h0M320.2 303.5h0M292.6 290.7h0M298.6 305.3h0M278.3 293.1h0M293.3 291.9h0M277.7 291.3h0M285.1 295.4h0M275.3 304.8h0M289.9 298h0M279.3 299.1h0M303.7 304.5h0M324.9 304.4h0M278.9 291.2h0M321.6 301.9h0M294.2 298.9h0M275.7 293.4h0M294.6 291.2h0M293.2 304.6h0M318.9 295.9h0M298.3 291.1h0M299.8 305.2h0M285.1 296.2h0M276 292.3h0M295 303.4h0M279.9 294.5h0" stroke="#8f4048" stroke-opacity="0.75" stroke-width="4" stroke-linecap="round" fill="none"/>
<path d="M274.9 302.2h0M289.4 303.7h0M321.5 299.9h0M292.6 302.3h0M279.1 294.5h0M320.2 303.5h0M292.6 290.7h0M298.6 305.3h0M278.3 293.1h0M293.3 291.9h0M277.7 291.3h0M285.1 295.4h0M275.3 304.8h0M289.9 298h0M279.3 299.1h0M303.7 304.5h0M324.9 304.4h0M278.9 291.2h0M321.6 301.9h0M294.2 298.9h0M275.7 293.4h0M294.6 291.2h0M293.2 304.6h0M318.9 295.9h0M298.3 291.1h0M299.8 305.2h0M285.1 296.2h0M276 292.3h0M295 303.4h0M279.9 294.5h0" stroke="#ba666d" stroke-opacity="0.75" stroke-width="3.1" stroke-linecap="round" fill="none"/>
<path d="M321.2 298.7h0M304.8 304.5h0M301.8 294.3h0M311.2 299.4h0M284.9 300.4h0M316.7 296.8h0M277.8 291.7h0M283 295.6h0M277.4 294.2h0M301.8 291.6h0M298 300.6h0M306 297.2h0M311.6 291.8h0M317.8 296.3h0M291 300.7h0M290.8 297h0M294.3 291.3h0M303.7 305.2h0M285.2 292h0M278 300.6h0M289.6 292.6h0M286 290.1h0M307.8 295.7h0M312.6 294.2h0M300.8 284.9h0M333.4 287h0M319.2 290.4h0M295.3 285.6h0M313.5 290.8h0M294.7 280h0" stroke="#8f4048" stroke-opacity="0.75" stroke-width="4" stroke-linecap="round" fill="none"/>
<path d="M321.2 298.7h0M304.8 304.5h0M301.8 294.3h0M311.2 299.4h0M284.9 300.4h0M316.7 296.8h0M277.8 291.7h0M283 295.6h0M277.4 294.2h0M301.8 291.6h0M298 300.6h0M306 297.2h0M311.6 291.8h0M317.8 296.3h0M291 300.7h0M290.8 297h0M294.3 291.3h0M303.7 305.2h0M285.2 292h0M278 300.6h0M289.6 292.6h0M286 290.1h0M307.8 295.7h0M312.6 294.2h0M300.8 284.9h0M333.4 287h0M319.2 290.4h0M295.3 285.6h0M313.5 290.8h0M294.7 280h0" stroke="#ba666d" stroke-opacity="0.75" stroke-width="3.1" stroke-linecap="round" fill="none"/>
<path d="M300.2 289.6h0M316 295.9h0M302.6 297.2h0M330.7 302.9h0M302.7 293.5h0M297.4 291.3h0M301.6 299.3h0M328.8 298.9h0M331.6 284.5h0M290.2 284.3h0M310 301.6h0M312 300.4h0M319.7 282.5h0M327.4 295.6h0M318.8 281.1h0M320 270h0M310 276h0M300 283h0M291 269h0" stroke="#8f4048" stroke-opacity="0.75" stroke-width="4" stroke-linecap="round" fill="none"/>
<path d="M300.2 289.6h0M316 295.9h0M302.6 297.2h0M330.7 302.9h0M302.7 293.5h0M297.4 291.3h0M301.6 299.3h0M328.8 298.9h0M331.6 284.5h0M290.2 284.3h0M310 301.6h0M312 300.4h0M319.7 282.5h0M327.4 295.6h0M318.8 281.1h0M320 270h0M310 276h0M300 283h0M291 269h0" stroke="#ba666d" stroke-opacity="0.75" stroke-width="3.1" stroke-linecap="round" fill="none"/>
<path d="M302 302h0M311 301.8h0M323.9 303h0M304.9 295.7h0M306.3 298.4h0M296.9 293.4h0M314.8 303.1h0M281.6 300.2h0M312.2 293.3h0M319.3 295h0M281.4 304h0M293.7 298.8h0M299.7 294.3h0M290.7 296.1h0M293.8 296.5h0M302.3 299h0M285.9 301.9h0M322.7 305h0M275.1 303.2h0M309.6 300.8h0M311 296.7h0M279.9 297.6h0M307.3 292.8h0M280 304.9h0M285.9 303h0M305.5 304.2h0M282.9 293.9h0M315 292.9h0M289.8 296.5h0M310.8 303.8h0" stroke="#8f4048" stroke-opacity="0.75" stroke-width="4.4" stroke-linecap="round" fill="none"/>
<path d="M302 302h0M311 301.8h0M323.9 303h0M304.9 295.7h0M306.3 298.4h0M296.9 293.4h0M314.8 303.1h0M281.6 300.2h0M312.2 293.3h0M319.3 295h0M281.4 304h0M293.7 298.8h0M299.7 294.3h0M290.7 296.1h0M293.8 296.5h0M302.3 299h0M285.9 301.9h0M322.7 305h0M275.1 303.2h0M309.6 300.8h0M311 296.7h0M279.9 297.6h0M307.3 292.8h0M280 304.9h0M285.9 303h0M305.5 304.2h0M282.9 293.9h0M315 292.9h0M289.8 296.5h0M310.8 303.8h0" stroke="#ba666d" stroke-opacity="0.75" stroke-width="3.5" stroke-linecap="round" fill="none"/>
<path d="M283.2 290h0M284.8 297.8h0M324.7 304.8h0M280 291.6h0M295.9 302.8h0M315.4 304h0M309.7 304.1h0M317.6 298.1h0M305.5 292.3h0M319.8 297.8h0M298.7 303h0M277.2 304.2h0M316.9 303.9h0M298.6 302.7h0M312.1 302.2h0M299.6 302.6h0M281.2 291.8h0M306.1 297.1h0M314.8 295.5h0M313.7 292.9h0M330 294.6h0M321.5 303.8h0M321.8 291.9h0M287.2 283.2h0M329.6 293.7h0M333.5 293.8h0M338 293.1h0M305.4 287.8h0M325.9 284.2h0M292.7 291.5h0" stroke="#8f4048" stroke-opacity="0.75" stroke-width="4.4" stroke-linecap="round" fill="none"/>
<path d="M283.2 290h0M284.8 297.8h0M324.7 304.8h0M280 291.6h0M295.9 302.8h0M315.4 304h0M309.7 304.1h0M317.6 298.1h0M305.5 292.3h0M319.8 297.8h0M298.7 303h0M277.2 304.2h0M316.9 303.9h0M298.6 302.7h0M312.1 302.2h0M299.6 302.6h0M281.2 291.8h0M306.1 297.1h0M314.8 295.5h0M313.7 292.9h0M330 294.6h0M321.5 303.8h0M321.8 291.9h0M287.2 283.2h0M329.6 293.7h0M333.5 293.8h0M338 293.1h0M305.4 287.8h0M325.9 284.2h0M292.7 291.5h0" stroke="#ba666d" stroke-opacity="0.75" stroke-width="3.5" stroke-linecap="round" fill="none"/>
<path d="M280.8 293.8h0M335.8 299.2h0M283.3 285.1h0M301.9 275.5h0M315.2 286.1h0M308.5 280.9h0M325 304h0M308.4 296.7h0M326.4 301.4h0M329.6 290.9h0M321.4 303.7h0M324.7 280.4h0M293.3 286h0M294.5 282h0M295.4 290.3h0M307.6 298.1h0M325.5 304.3h0M322.1 297.6h0M338.2 304.7h0M318 296h0M281 279.6h0M284.6 297.2h0M324.1 303.2h0M299.7 280.5h0M314.1 284.7h0M323 294h0M319.1 299.3h0M313 178.5h0M326 252h0M318 290h0" stroke="#8f4048" stroke-opacity="0.75" stroke-width="4.4" stroke-linecap="round" fill="none"/>
<path d="M280.8 293.8h0M335.8 299.2h0M283.3 285.1h0M301.9 275.5h0M315.2 286.1h0M308.5 280.9h0M325 304h0M308.4 296.7h0M326.4 301.4h0M329.6 290.9h0M321.4 303.7h0M324.7 280.4h0M293.3 286h0M294.5 282h0M295.4 290.3h0M307.6 298.1h0M325.5 304.3h0M322.1 297.6h0M338.2 304.7h0M318 296h0M281 279.6h0M284.6 297.2h0M324.1 303.2h0M299.7 280.5h0M314.1 284.7h0M323 294h0M319.1 299.3h0M313 178.5h0M326 252h0M318 290h0" stroke="#ba666d" stroke-opacity="0.75" stroke-width="3.5" stroke-linecap="round" fill="none"/>
<path d="M299.5 301.9h0M307.8 303h0M287.4 299.9h0M299.6 299.6h0M283.2 297.7h0M299.8 293.2h0M281.4 294.7h0M290.3 295.3h0M285.5 302.4h0M284.2 302.9h0M320.3 297.5h0M324.1 305.1h0M300 302.3h0M300.3 299h0M303.5 305.3h0M278.8 295.2h0M304.5 302.4h0M283.4 300.8h0M278.4 292.4h0M278.3 299.1h0M278.7 303.6h0M300.3 299h0M308.4 294.7h0M315.5 294.1h0M307.3 299.3h0M293.3 295.5h0M281.4 303.7h0M278.7 299.6h0M311.9 297.7h0M279.3 303.1h0" stroke="#8f4048" stroke-opacity="0.75" stroke-width="3.6" stroke-linecap="round" fill="none"/>
<path d="M299.5 301.9h0M307.8 303h0M287.4 299.9h0M299.6 299.6h0M283.2 297.7h0M299.8 293.2h0M281.4 294.7h0M290.3 295.3h0M285.5 302.4h0M284.2 302.9h0M320.3 297.5h0M324.1 305.1h0M300 302.3h0M300.3 299h0M303.5 305.3h0M278.8 295.2h0M304.5 302.4h0M283.4 300.8h0M278.4 292.4h0M278.3 299.1h0M278.7 303.6h0M300.3 299h0M308.4 294.7h0M315.5 294.1h0M307.3 299.3h0M293.3 295.5h0M281.4 303.7h0M278.7 299.6h0M311.9 297.7h0M279.3 303.1h0" stroke="#ba666d" stroke-opacity="0.75" stroke-width="2.7" stroke-linecap="round" fill="none"/>
<path d="M314.5 303.4h0M320 300.8h0M292.8 296.3h0M285.1 301h0M280.8 296.3h0M297.4 293.7h0M314.8 296.1h0M289.1 298h0M309.8 300.5h0M276.8 296.6h0M279.7 302.4h0M306.4 296.2h0M301.9 296.7h0M294.1 300.9h0M303.8 303h0M293.4 292.7h0M284 295.1h0M288.7 294.4h0M276.4 297.4h0M299.1 293.7h0M276.1 291.1h0M305.4 294h0M320.4 299.2h0M303.2 296.4h0M303 305.2h0M314 301.8h0M309.1 297.6h0M306.4 296.5h0M319.5 304.8h0M303.6 303.2h0" stroke="#8f4048" stroke-opacity="0.75" stroke-width="3.6" stroke-linecap="round" fill="none"/>
<path d="M314.5 303.4h0M320 300.8h0M292.8 296.3h0M285.1 301h0M280.8 296.3h0M297.4 293.7h0M314.8 296.1h0M289.1 298h0M309.8 300.5h0M276.8 296.6h0M279.7 302.4h0M306.4 296.2h0M301.9 296.7h0M294.1 300.9h0M303.8 303h0M293.4 292.7h0M284 295.1h0M288.7 294.4h0M276.4 297.4h0M299.1 293.7h0M276.1 291.1h0M305.4 294h0M320.4 299.2h0M303.2 296.4h0M303 305.2h0M314 301.8h0M309.1 297.6h0M306.4 296.5h0M319.5 304.8h0M303.6 303.2h0" stroke="#ba666d" stroke-opacity="0.75" stroke-width="2.7" stroke-linecap="round" fill="none"/>
<path d="M321.3 301.4h0M285.2 294.5h0M317.7 295.8h0M318 294.6h0M284.2 289.4h0M308.4 301.5h0M298.3 289.7h0M303.5 290.6h0M299.1 292h0M319.6 294.9h0M326 304.8h0M283.6 292h0M304.9 295.1h0M276.2 301.1h0M286.1 300.8h0M312.2 305.3h0M284 295.8h0M315.9 296.3h0M283.8 300.1h0M293.3 296.8h0M284.6 294.2h0M278 296.4h0M304.5 299.3h0M313 300.3h0M280.4 302.1h0M297.8 298.2h0M285.3 303.1h0M311.9 291.6h0M304.8 291h0M320 301h0" stroke="#8f4048" stroke-opacity="0.75" stroke-width="3.6" stroke-linecap="round" fill="none"/>
<path d="M321.3 301.4h0M285.2 294.5h0M317.7 295.8h0M318 294.6h0M284.2 289.4h0M308.4 301.5h0M298.3 289.7h0M303.5 290.6h0M299.1 292h0M319.6 294.9h0M326 304.8h0M283.6 292h0M304.9 295.1h0M276.2 301.1h0M286.1 300.8h0M312.2 305.3h0M284 295.8h0M315.9 296.3h0M283.8 300.1h0M293.3 296.8h0M284.6 294.2h0M278 296.4h0M304.5 299.3h0M313 300.3h0M280.4 302.1h0M297.8 298.2h0M285.3 303.1h0M311.9 291.6h0M304.8 291h0M320 301h0" stroke="#ba666d" stroke-opacity="0.75" stroke-width="2.7" stroke-linecap="round" fill="none"/>
<path d="M319.9 298.4h0M275.2 299.8h0M318.1 304h0M314.2 304.4h0M315.3 296.4h0M283.9 290.4h0M277 291.8h0M289.7 291.7h0M313.3 305.3h0M311.4 291.3h0M311 302.1h0M302.8 299.4h0M319.8 296.9h0M284.6 299.2h0M303.2 293.7h0M308 305.2h0M314.1 304.7h0M286.1 301.5h0M296.3 278.5h0M289.9 289.3h0M306.7 295.3h0M324.6 294.1h0M300.4 290.4h0M286.4 289.4h0M333.2 305.3h0M311.1 292.1h0M301.2 296h0M309.5 290.3h0M294.6 280.5h0M321 301.9h0" stroke="#8f4048" stroke-opacity="0.75" stroke-width="3.6" stroke-linecap="round" fill="none"/>
<path d="M319.9 298.4h0M275.2 299.8h0M318.1 304h0M314.2 304.4h0M315.3 296.4h0M283.9 290.4h0M277 291.8h0M289.7 291.7h0M313.3 305.3h0M311.4 291.3h0M311 302.1h0M302.8 299.4h0M319.8 296.9h0M284.6 299.2h0M303.2 293.7h0M308 305.2h0M314.1 304.7h0M286.1 301.5h0M296.3 278.5h0M289.9 289.3h0M306.7 295.3h0M324.6 294.1h0M300.4 290.4h0M286.4 289.4h0M333.2 305.3h0M311.1 292.1h0M301.2 296h0M309.5 290.3h0M294.6 280.5h0M321 301.9h0" stroke="#ba666d" stroke-opacity="0.75" stroke-width="2.7" stroke-linecap="round" fill="none"/>
<path d="M326.3 282.3h0M297.3 299.9h0M275.5 294.1h0M331.2 297.5h0M325.7 285.3h0M329.9 300.4h0M319.1 290.5h0M324.8 305.1h0M290.7 290h0M313.6 295.2h0M304 287h0M329 285.4h0M293.7 294.4h0M299.9 277.8h0M308.5 299.2h0M328.2 302.3h0M339.2 299.1h0M289.2 281.3h0M300.2 292.4h0M324 278.6h0M300.3 297.8h0M284.8 288.3h0M295 243h0M288 262h0" stroke="#8f4048" stroke-opacity="0.75" stroke-width="3.6" stroke-linecap="round" fill="none"/>
<path d="M326.3 282.3h0M297.3 299.9h0M275.5 294.1h0M331.2 297.5h0M325.7 285.3h0M329.9 300.4h0M319.1 290.5h0M324.8 305.1h0M290.7 290h0M313.6 295.2h0M304 287h0M329 285.4h0M293.7 294.4h0M299.9 277.8h0M308.5 299.2h0M328.2 302.3h0M339.2 299.1h0M289.2 281.3h0M300.2 292.4h0M324 278.6h0M300.3 297.8h0M284.8 288.3h0M295 243h0M288 262h0" stroke="#ba666d" stroke-opacity="0.75" stroke-width="2.7" stroke-linecap="round" fill="none"/>
<path d="M308.1 304.5h0M288.3 289.7h0M308.3 299.8h0M292.5 298h0M302.3 299.4h0M308.4 294.2h0M301.8 296.1h0M275.5 293.1h0M299.3 300h0M297.5 300.4h0M294.3 290.3h0M321 302.2h0M299.4 305.1h0M294.2 300.1h0M316.7 294.7h0M290.9 296.9h0M300 290h0M296.4 299.7h0M302.8 299.7h0M280.8 292.3h0M281.7 292.3h0M322 302.4h0M281.9 304.8h0M304.2 303.1h0M296.1 302.6h0M305 295.3h0M303 305.1h0M280.4 294.3h0M286.2 290.1h0M305.6 290.5h0" stroke="#8f4048" stroke-opacity="0.75" stroke-width="3.2" stroke-linecap="round" fill="none"/>
<path d="M308.1 304.5h0M288.3 289.7h0M308.3 299.8h0M292.5 298h0M302.3 299.4h0M308.4 294.2h0M301.8 296.1h0M275.5 293.1h0M299.3 300h0M297.5 300.4h0M294.3 290.3h0M321 302.2h0M299.4 305.1h0M294.2 300.1h0M316.7 294.7h0M290.9 296.9h0M300 290h0M296.4 299.7h0M302.8 299.7h0M280.8 292.3h0M281.7 292.3h0M322 302.4h0M281.9 304.8h0M304.2 303.1h0M296.1 302.6h0M305 295.3h0M303 305.1h0M280.4 294.3h0M286.2 290.1h0M305.6 290.5h0" stroke="#ba666d" stroke-opacity="0.75" stroke-width="2.3" stroke-linecap="round" fill="none"/>
<path d="M287.7 294.8h0M286.2 290.4h0M313.4 295.4h0M286.6 304.1h0M292.4 298.9h0M322.7 304.1h0M307 304.2h0M306.4 302.5h0M298.7 301.9h0M288 294h0M288.7 300.5h0M295.9 304.3h0M299.5 302.5h0M316.2 298.3h0M277.7 297.2h0M320.6 296h0M297.9 300.9h0M310 304.6h0M307.5 295.8h0M281.6 290h0M288.8 302.5h0M310.1 291h0M301.6 303h0M316.2 296.3h0M302.8 302.4h0M308 295.9h0M295.4 303.4h0M316.3 297.2h0M289.2 294.5h0M318.4 298.4h0" stroke="#8f4048" stroke-opacity="0.75" stroke-width="3.2" stroke-linecap="round" fill="none"/>
<path d="M287.7 294.8h0M286.2 290.4h0M313.4 295.4h0M286.6 304.1h0M292.4 298.9h0M322.7 304.1h0M307 304.2h0M306.4 302.5h0M298.7 301.9h0M288 294h0M288.7 300.5h0M295.9 304.3h0M299.5 302.5h0M316.2 298.3h0M277.7 297.2h0M320.6 296h0M297.9 300.9h0M310 304.6h0M307.5 295.8h0M281.6 290h0M288.8 302.5h0M310.1 291h0M301.6 303h0M316.2 296.3h0M302.8 302.4h0M308 295.9h0M295.4 303.4h0M316.3 297.2h0M289.2 294.5h0M318.4 298.4h0" stroke="#ba666d" stroke-opacity="0.75" stroke-width="2.3" stroke-linecap="round" fill="none"/>
<path d="M294.2 301.1h0M284 268h0M278 262h0M282 258h0" stroke="#8f4048" stroke-opacity="0.75" stroke-width="3.2" stroke-linecap="round" fill="none"/>
<path d="M294.2 301.1h0M284 268h0M278 262h0M282 258h0" stroke="#ba666d" stroke-opacity="0.75" stroke-width="2.3" stroke-linecap="round" fill="none"/>
<path d="M320.7 303h0M317.2 303h0M336.2 302.9h0M332.9 291h0M320.1 287h0M318.1 284.3h0M321.6 288.8h0M289.9 298.3h0M284.9 295.3h0M309.8 294.9h0M283.4 292.2h0M331.9 299.6h0M297.6 299.1h0M295.1 282.8h0M313.7 288.6h0M340 263h0M337 248h0M333 258h0M330 261h0M335 285h0M340 292h0M336 302h0" stroke="#8f4048" stroke-opacity="0.75" stroke-width="4.8" stroke-linecap="round" fill="none"/>
<path d="M320.7 303h0M317.2 303h0M336.2 302.9h0M332.9 291h0M320.1 287h0M318.1 284.3h0M321.6 288.8h0M289.9 298.3h0M284.9 295.3h0M309.8 294.9h0M283.4 292.2h0M331.9 299.6h0M297.6 299.1h0M295.1 282.8h0M313.7 288.6h0M340 263h0M337 248h0M333 258h0M330 261h0M335 285h0M340 292h0M336 302h0" stroke="#ba666d" stroke-opacity="0.75" stroke-width="3.9" stroke-linecap="round" fill="none"/>
<path d="M338 270h0M342 300h0" stroke="#8f4048" stroke-opacity="0.75" stroke-width="5.2" stroke-linecap="round" fill="none"/>
<path d="M338 270h0M342 300h0" stroke="#ba666d" stroke-opacity="0.75" stroke-width="4.3" stroke-linecap="round" fill="none"/>
<text x="219.40" y="248.80" font-size="4.3" fill="#333">ACTN3</text>
<text x="243.00" y="252.00" font-size="4.3" fill="#333">PIK3IP1</text>
<text x="203.00" y="258.70" font-size="4.3" fill="#333">ABLIM2</text>
<text x="231.00" y="260.00" font-size="4.3" fill="#333">TBX18</text>
<text x="269.40" y="261.20" font-size="4.3" fill="#333">CXP4</text>
<text x="215.80" y="207.40" font-size="4.3" fill="#333">GABRB2</text>
<text x="311.30" y="176.90" font-size="4.3" fill="#333">RTN1</text>
<text x="292.50" y="242.00" font-size="4.3" fill="#333">NRN2</text>
<text x="320.60" y="251.00" font-size="4.3" fill="#333">AC091171.1</text>
<text x="283.50" y="254.50" font-size="4.3" fill="#333">CST4</text>
<text x="295.60" y="255.20" font-size="4.3" fill="#333">KRT18</text>
<text x="312.00" y="257.80" font-size="4.3" fill="#333">AC109294.1</text>
<text x="284.30" y="262.50" font-size="4.3" fill="#333">AC135156.1</text>
<text x="332.80" y="265.60" font-size="4.3" fill="#333">MYO1G-2</text>
<text x="307.70" y="268.20" font-size="4.3" fill="#333">ARAP3-AS1</text>
<text x="283.50" y="268.20" font-size="4.3" fill="#333">KCNT1</text>
<path d="M360.7,178.8 V330.5 H520" stroke="#aaa" stroke-width="0.8" fill="none"/>
<path d="M359.2,201.3 H360.7" stroke="#999" stroke-width="0.5"/>
<text x="358.50" y="202.60" font-size="3.6" text-anchor="end" fill="#666">15</text>
<path d="M359.2,242 H360.7" stroke="#999" stroke-width="0.5"/>
<text x="358.50" y="243.30" font-size="3.6" text-anchor="end" fill="#666">10</text>
<path d="M359.2,282.7 H360.7" stroke="#999" stroke-width="0.5"/>
<text x="358.50" y="284.00" font-size="3.6" text-anchor="end" fill="#666">5</text>
<path d="M359.2,323.4 H360.7" stroke="#999" stroke-width="0.5"/>
<text x="358.50" y="324.70" font-size="3.6" text-anchor="end" fill="#666">0</text>
<path d="M384.2,330.5 V332.0" stroke="#999" stroke-width="0.5"/>
<text x="384.20" y="335.50" font-size="3.6" text-anchor="middle" fill="#666">−20</text>
<path d="M414.7,330.5 V332.0" stroke="#999" stroke-width="0.5"/>
<text x="414.70" y="335.50" font-size="3.6" text-anchor="middle" fill="#666">−10</text>
<path d="M444.5,330.5 V332.0" stroke="#999" stroke-width="0.5"/>
<text x="444.50" y="335.50" font-size="3.6" text-anchor="middle" fill="#666">0</text>
<path d="M475,330.5 V332.0" stroke="#999" stroke-width="0.5"/>
<text x="475.00" y="335.50" font-size="3.6" text-anchor="middle" fill="#666">10</text>
<path d="M504.2,330.5 V332.0" stroke="#999" stroke-width="0.5"/>
<text x="504.20" y="335.50" font-size="3.6" text-anchor="middle" fill="#666">20</text>
<path d="M441.5,178.8 V330.5"  stroke="#333" stroke-width="0.6" stroke-dasharray="2,1,0.6,1" fill="none"/>
<path d="M447.5,178.8 V330.5"  stroke="#333" stroke-width="0.6" stroke-dasharray="2,1,0.6,1" fill="none"/>
<path d="M360.7,306.5 H520"  stroke="#333" stroke-width="0.6" stroke-dasharray="2,1,0.6,1" fill="none"/>
<polygon points="441,304.8 443.4,306.3 444.6,316.5 445.9,306.3 447.9,304.8 447.9,323.4 441,323.4" fill="#000"/>
<text x="438.00" y="169.30" font-size="6.55" text-anchor="middle" fill="#222">RIOS vs. OS</text>
<text x="0" y="0" font-size="6.0" fill="#222" text-anchor="middle" transform="translate(352.5,250.4) rotate(-90)">−log<tspan font-size="4.2" dy="1.5">10</tspan><tspan dy="-1.5"> (Q value)</tspan></text>
<text x="440.7" y="344.6" font-size="6.05" fill="#222" text-anchor="middle">log<tspan font-size="4.3" dy="1.5">2</tspan><tspan dy="-1.5"> (fold change)</tspan></text>
<path d="M428.4 296.9h0M436.1 303.9h0M415.8 302.7h0M432.9 290.4h0M423.6 287.3h0M426.2 298.7h0M426.4 286.2h0M439.8 287.6h0M421.7 299.3h0M429 296.3h0M438.6 298.2h0M435 275h0M434.3 278.3h0M420.7 299.2h0M428.8 281.9h0M429.5 278.6h0M423.4 284h0M432.2 278.2h0M439.4 299.2h0M421.3 287.4h0M424.8 288.5h0M426.3 289.8h0M438.7 302h0M436.9 304.1h0M419.1 303h0M425.3 283h0M414.7 305.1h0M429.5 297.7h0M432.1 305.2h0M437 297h0" stroke="#56799f" stroke-opacity="0.75" stroke-width="2.8" stroke-linecap="round" fill="none"/>
<path d="M428.4 296.9h0M436.1 303.9h0M415.8 302.7h0M432.9 290.4h0M423.6 287.3h0M426.2 298.7h0M426.4 286.2h0M439.8 287.6h0M421.7 299.3h0M429 296.3h0M438.6 298.2h0M435 275h0M434.3 278.3h0M420.7 299.2h0M428.8 281.9h0M429.5 278.6h0M423.4 284h0M432.2 278.2h0M439.4 299.2h0M421.3 287.4h0M424.8 288.5h0M426.3 289.8h0M438.7 302h0M436.9 304.1h0M419.1 303h0M425.3 283h0M414.7 305.1h0M429.5 297.7h0M432.1 305.2h0M437 297h0" stroke="#7d9fc4" stroke-opacity="0.75" stroke-width="1.9" stroke-linecap="round" fill="none"/>
<path d="M440.7 293.8h0M435.2 303.7h0M434.5 304.5h0M426.9 300h0M433.2 301.9h0M436.4 299.9h0M439.5 299.5h0M438.1 302.1h0M427.7 297.2h0M423.9 298.4h0M421.3 290.5h0M417.4 300.6h0M433.2 296.8h0M439.1 304.9h0M421 303.2h0M428 300.4h0M412.9 305.5h0M412.2 302.6h0M416.5 293.8h0M430.7 304h0M428.4 306h0M423.8 285.9h0M436.3 301.2h0M431.8 301.7h0M437.8 299.4h0M426.2 300.4h0M420.5 299.5h0M429.6 284.7h0M429.8 302.8h0M431.4 279.3h0" stroke="#56799f" stroke-opacity="0.75" stroke-width="2.8" stroke-linecap="round" fill="none"/>
<path d="M440.7 293.8h0M435.2 303.7h0M434.5 304.5h0M426.9 300h0M433.2 301.9h0M436.4 299.9h0M439.5 299.5h0M438.1 302.1h0M427.7 297.2h0M423.9 298.4h0M421.3 290.5h0M417.4 300.6h0M433.2 296.8h0M439.1 304.9h0M421 303.2h0M428 300.4h0M412.9 305.5h0M412.2 302.6h0M416.5 293.8h0M430.7 304h0M428.4 306h0M423.8 285.9h0M436.3 301.2h0M431.8 301.7h0M437.8 299.4h0M426.2 300.4h0M420.5 299.5h0M429.6 284.7h0M429.8 302.8h0M431.4 279.3h0" stroke="#7d9fc4" stroke-opacity="0.75" stroke-width="1.9" stroke-linecap="round" fill="none"/>
<path d="M425.4 293.1h0M435.4 286.6h0M437.8 291.8h0M417.9 296.3h0M425.6 293.2h0M413.9 297.4h0M429.1 295.3h0M425.6 294.8h0M436.6 294.7h0M417.8 294.4h0M431.1 300.3h0M431.5 304.6h0M422.9 304.2h0M434.5 299h0M413.9 302h0M432.1 278.3h0M418.3 306h0M430.4 299h0M425.1 289.2h0M425.1 301.4h0M416.8 305.6h0M431 283.4h0M433 285.8h0M420.9 298.3h0M423.6 301.7h0M438.4 298.7h0M438.3 280.5h0M421.2 302.4h0M432.3 306.3h0M416.5 297.8h0" stroke="#56799f" stroke-opacity="0.75" stroke-width="2.8" stroke-linecap="round" fill="none"/>
<path d="M425.4 293.1h0M435.4 286.6h0M437.8 291.8h0M417.9 296.3h0M425.6 293.2h0M413.9 297.4h0M429.1 295.3h0M425.6 294.8h0M436.6 294.7h0M417.8 294.4h0M431.1 300.3h0M431.5 304.6h0M422.9 304.2h0M434.5 299h0M413.9 302h0M432.1 278.3h0M418.3 306h0M430.4 299h0M425.1 289.2h0M425.1 301.4h0M416.8 305.6h0M431 283.4h0M433 285.8h0M420.9 298.3h0M423.6 301.7h0M438.4 298.7h0M438.3 280.5h0M421.2 302.4h0M432.3 306.3h0M416.5 297.8h0" stroke="#7d9fc4" stroke-opacity="0.75" stroke-width="1.9" stroke-linecap="round" fill="none"/>
<path d="M428.6 303.1h0M436.8 290.5h0M435.5 299.8h0M433.6 282.9h0M433.8 273.6h0M430.1 292.9h0M420.9 291.5h0M440.9 297.3h0M436.5 301h0M421.1 290.6h0M437.8 303.9h0M439.9 291.1h0M430.2 305.2h0M428.5 288h0M425.4 296.3h0M424.5 303.1h0M416.9 299.9h0M428.3 276.4h0M427.3 291h0M434.3 286.3h0M423.3 289.3h0M426.6 295.5h0M422.7 302.9h0M439.7 301.4h0M422.3 301h0M424.1 302h0M436.5 304.3h0M427.8 284.2h0M431.7 299.7h0M439.8 286.5h0" stroke="#56799f" stroke-opacity="0.75" stroke-width="2.8" stroke-linecap="round" fill="none"/>
<path d="M428.6 303.1h0M436.8 290.5h0M435.5 299.8h0M433.6 282.9h0M433.8 273.6h0M430.1 292.9h0M420.9 291.5h0M440.9 297.3h0M436.5 301h0M421.1 290.6h0M437.8 303.9h0M439.9 291.1h0M430.2 305.2h0M428.5 288h0M425.4 296.3h0M424.5 303.1h0M416.9 299.9h0M428.3 276.4h0M427.3 291h0M434.3 286.3h0M423.3 289.3h0M426.6 295.5h0M422.7 302.9h0M439.7 301.4h0M422.3 301h0M424.1 302h0M436.5 304.3h0M427.8 284.2h0M431.7 299.7h0M439.8 286.5h0" stroke="#7d9fc4" stroke-opacity="0.75" stroke-width="1.9" stroke-linecap="round" fill="none"/>
<path d="M423.8 301.2h0M434.8 304.9h0M416.8 297.8h0M421.9 292.6h0M416 294.7h0M438.8 291.5h0M435 303.7h0M430.4 303.3h0M430.5 291.2h0M412.8 303.8h0M411.1 303.2h0M425.6 297.3h0M414.9 297.6h0M425.2 296.7h0M431 290.8h0M427.7 306.3h0M430.3 299.3h0M418.2 295.3h0M431.5 300.8h0M437.1 296.6h0M427 284.7h0M418.5 303.6h0M438 288.1h0M416.3 300.3h0M439 304.5h0M418.2 294h0M404 275h0M400 268h0M407 290h0M425 266h0" stroke="#56799f" stroke-opacity="0.75" stroke-width="2.8" stroke-linecap="round" fill="none"/>
<path d="M423.8 301.2h0M434.8 304.9h0M416.8 297.8h0M421.9 292.6h0M416 294.7h0M438.8 291.5h0M435 303.7h0M430.4 303.3h0M430.5 291.2h0M412.8 303.8h0M411.1 303.2h0M425.6 297.3h0M414.9 297.6h0M425.2 296.7h0M431 290.8h0M427.7 306.3h0M430.3 299.3h0M418.2 295.3h0M431.5 300.8h0M437.1 296.6h0M427 284.7h0M418.5 303.6h0M438 288.1h0M416.3 300.3h0M439 304.5h0M418.2 294h0M404 275h0M400 268h0M407 290h0M425 266h0" stroke="#7d9fc4" stroke-opacity="0.75" stroke-width="1.9" stroke-linecap="round" fill="none"/>
<path d="M430.8 274.3h0M421.1 298.5h0M437.4 295.6h0M424.8 292.3h0M431.8 292.7h0M438.6 301.7h0M427.7 290.9h0M415 304.7h0M440.9 294.8h0M436.7 305.3h0M424.9 286.4h0M418.8 300.4h0M414.1 305.7h0M412.7 305.4h0M421.3 302h0M422.6 297.7h0M437.9 303.5h0M437.8 289.4h0M423.7 303.4h0M419.1 290h0M432.6 294.5h0M438.7 294h0M432.8 303.3h0M432.9 304.2h0M431.2 288.2h0M429.5 302.6h0M426.5 297.7h0M426.9 292.4h0M422.7 284.3h0M420.7 302.3h0" stroke="#56799f" stroke-opacity="0.75" stroke-width="3.2" stroke-linecap="round" fill="none"/>
<path d="M430.8 274.3h0M421.1 298.5h0M437.4 295.6h0M424.8 292.3h0M431.8 292.7h0M438.6 301.7h0M427.7 290.9h0M415 304.7h0M440.9 294.8h0M436.7 305.3h0M424.9 286.4h0M418.8 300.4h0M414.1 305.7h0M412.7 305.4h0M421.3 302h0M422.6 297.7h0M437.9 303.5h0M437.8 289.4h0M423.7 303.4h0M419.1 290h0M432.6 294.5h0M438.7 294h0M432.8 303.3h0M432.9 304.2h0M431.2 288.2h0M429.5 302.6h0M426.5 297.7h0M426.9 292.4h0M422.7 284.3h0M420.7 302.3h0" stroke="#7d9fc4" stroke-opacity="0.75" stroke-width="2.3" stroke-linecap="round" fill="none"/>
<path d="M438.2 290h0M421.7 298.6h0M438.4 302.4h0M433.8 286.1h0M424.6 302.2h0M422.8 306.2h0M433.8 297.3h0M440.7 298.5h0M440.7 302.2h0M424.3 299.5h0M422.3 296.8h0M420.9 305.1h0M437.7 283.1h0M431.2 282.3h0M414.4 299h0M436.7 306.2h0M433.8 283.9h0M434.1 304.2h0M423.9 303.2h0M414.8 298.3h0M414.6 297.5h0M414.1 305.3h0M438.1 299.4h0M418.7 298.2h0M432.5 300.1h0M427.3 291.5h0M437 289.1h0M429.2 304.4h0M427.4 292.4h0M438.6 293.8h0" stroke="#56799f" stroke-opacity="0.75" stroke-width="3.2" stroke-linecap="round" fill="none"/>
<path d="M438.2 290h0M421.7 298.6h0M438.4 302.4h0M433.8 286.1h0M424.6 302.2h0M422.8 306.2h0M433.8 297.3h0M440.7 298.5h0M440.7 302.2h0M424.3 299.5h0M422.3 296.8h0M420.9 305.1h0M437.7 283.1h0M431.2 282.3h0M414.4 299h0M436.7 306.2h0M433.8 283.9h0M434.1 304.2h0M423.9 303.2h0M414.8 298.3h0M414.6 297.5h0M414.1 305.3h0M438.1 299.4h0M418.7 298.2h0M432.5 300.1h0M427.3 291.5h0M437 289.1h0M429.2 304.4h0M427.4 292.4h0M438.6 293.8h0" stroke="#7d9fc4" stroke-opacity="0.75" stroke-width="2.3" stroke-linecap="round" fill="none"/>
<path d="M421 289.9h0M430.8 301.1h0M424 291.1h0M427.1 304.3h0M440.7 298.7h0M427.5 288.5h0M433.6 296.4h0M440.5 297.7h0M429 304.3h0M439.6 305.7h0M437 298.5h0M431.7 297.5h0M432.3 294.7h0M435.9 293.9h0M424.7 289.3h0M424.8 304.8h0M413.2 301.9h0M436.8 287.6h0M439.7 282.1h0M431.5 301.8h0M422.2 285h0M422.6 304h0M427.6 303.9h0M412.1 302.7h0M422.5 304.5h0M421.4 288.2h0M425.1 284.3h0M428.4 303.8h0M438.3 286.4h0M432.5 292h0" stroke="#56799f" stroke-opacity="0.75" stroke-width="3.2" stroke-linecap="round" fill="none"/>
<path d="M421 289.9h0M430.8 301.1h0M424 291.1h0M427.1 304.3h0M440.7 298.7h0M427.5 288.5h0M433.6 296.4h0M440.5 297.7h0M429 304.3h0M439.6 305.7h0M437 298.5h0M431.7 297.5h0M432.3 294.7h0M435.9 293.9h0M424.7 289.3h0M424.8 304.8h0M413.2 301.9h0M436.8 287.6h0M439.7 282.1h0M431.5 301.8h0M422.2 285h0M422.6 304h0M427.6 303.9h0M412.1 302.7h0M422.5 304.5h0M421.4 288.2h0M425.1 284.3h0M428.4 303.8h0M438.3 286.4h0M432.5 292h0" stroke="#7d9fc4" stroke-opacity="0.75" stroke-width="2.3" stroke-linecap="round" fill="none"/>
<path d="M433.3 298.7h0M411.9 305h0M435.7 283.1h0M425.8 304.2h0M428.9 290.2h0M437.2 295.2h0M435.8 295.5h0M437.9 297.8h0M417.4 304.2h0M428.2 301.1h0M426.7 305.6h0M413.7 306.4h0M427.3 299.5h0M435 301.4h0M433.2 302.1h0M427 293.5h0M421.9 294h0M420.9 293.9h0M434.7 293h0M437.6 289.4h0M439.7 294.2h0M437.3 300.9h0M439.8 297.9h0M430.1 300.7h0M419.9 295.5h0M413.8 298.7h0M436.4 280.8h0M425.8 296.3h0M418.2 298.6h0M435.5 303.4h0" stroke="#56799f" stroke-opacity="0.75" stroke-width="3.2" stroke-linecap="round" fill="none"/>
<path d="M433.3 298.7h0M411.9 305h0M435.7 283.1h0M425.8 304.2h0M428.9 290.2h0M437.2 295.2h0M435.8 295.5h0M437.9 297.8h0M417.4 304.2h0M428.2 301.1h0M426.7 305.6h0M413.7 306.4h0M427.3 299.5h0M435 301.4h0M433.2 302.1h0M427 293.5h0M421.9 294h0M420.9 293.9h0M434.7 293h0M437.6 289.4h0M439.7 294.2h0M437.3 300.9h0M439.8 297.9h0M430.1 300.7h0M419.9 295.5h0M413.8 298.7h0M436.4 280.8h0M425.8 296.3h0M418.2 298.6h0M435.5 303.4h0" stroke="#7d9fc4" stroke-opacity="0.75" stroke-width="2.3" stroke-linecap="round" fill="none"/>
<path d="M425.3 298.7h0M438.1 300.2h0M414.9 301.1h0M416.4 298.1h0M426.2 293.7h0M425.3 304.6h0M419.1 299.7h0M430.7 301.8h0M440.5 294.8h0M423.5 300.9h0M427.1 306.5h0M434.7 286.8h0M425.1 295.8h0M420.5 301h0M427.3 289.6h0M434.1 301.5h0M431.1 305.7h0M435.3 305.4h0M426.2 304.2h0M432 306.3h0M424.6 305.1h0M422.2 286.8h0M440.9 293h0M411.2 304.4h0M426 301.1h0M439.5 292.6h0M426.1 305h0M436 293.5h0M439 301.4h0M421.7 296.7h0" stroke="#56799f" stroke-opacity="0.75" stroke-width="3.2" stroke-linecap="round" fill="none"/>
<path d="M425.3 298.7h0M438.1 300.2h0M414.9 301.1h0M416.4 298.1h0M426.2 293.7h0M425.3 304.6h0M419.1 299.7h0M430.7 301.8h0M440.5 294.8h0M423.5 300.9h0M427.1 306.5h0M434.7 286.8h0M425.1 295.8h0M420.5 301h0M427.3 289.6h0M434.1 301.5h0M431.1 305.7h0M435.3 305.4h0M426.2 304.2h0M432 306.3h0M424.6 305.1h0M422.2 286.8h0M440.9 293h0M411.2 304.4h0M426 301.1h0M439.5 292.6h0M426.1 305h0M436 293.5h0M439 301.4h0M421.7 296.7h0" stroke="#7d9fc4" stroke-opacity="0.75" stroke-width="2.3" stroke-linecap="round" fill="none"/>
<path d="M426.7 297.3h0M422.3 296.8h0M416.6 300.2h0M423.3 290.9h0M411 225h0M386.7 291h0" stroke="#56799f" stroke-opacity="0.75" stroke-width="3.2" stroke-linecap="round" fill="none"/>
<path d="M426.7 297.3h0M422.3 296.8h0M416.6 300.2h0M423.3 290.9h0M411 225h0M386.7 291h0" stroke="#7d9fc4" stroke-opacity="0.75" stroke-width="2.3" stroke-linecap="round" fill="none"/>
<path d="M367 185.8h0M370 193.5h0M373.5 205.6h0" stroke="#56799f" stroke-opacity="0.75" stroke-width="4.8" stroke-linecap="round" fill="none"/>
<path d="M367 185.8h0M370 193.5h0M373.5 205.6h0" stroke="#7d9fc4" stroke-opacity="0.75" stroke-width="3.9" stroke-linecap="round" fill="none"/>
<path d="M430 263h0M434 258h0" stroke="#56799f" stroke-opacity="0.75" stroke-width="2.4" stroke-linecap="round" fill="none"/>
<path d="M430 263h0M434 258h0" stroke="#7d9fc4" stroke-opacity="0.75" stroke-width="1.5" stroke-linecap="round" fill="none"/>
<path d="M467.4 272.8h0M449.4 281.7h0M468.4 284h0M469.5 281.7h0M465 290.4h0M456.6 287.1h0M466.8 289.8h0M460.8 277.7h0M456.8 300.1h0M456.8 282.3h0M468.3 284.7h0M456.7 302.4h0M471.9 296h0M467.7 306.5h0M452 277.8h0M468.7 304.5h0M472.3 305.6h0M456.3 289.2h0M459.8 293.9h0M470.8 303.1h0M454 294.1h0M450.2 302.7h0M465 305.3h0M466.4 306.3h0M467.5 299h0M456.5 298.9h0M472.4 304.8h0M461.9 292.9h0M457.9 305.8h0M450.1 275.4h0" stroke="#8e3c43" stroke-opacity="0.75" stroke-width="3.2" stroke-linecap="round" fill="none"/>
<path d="M467.4 272.8h0M449.4 281.7h0M468.4 284h0M469.5 281.7h0M465 290.4h0M456.6 287.1h0M466.8 289.8h0M460.8 277.7h0M456.8 300.1h0M456.8 282.3h0M468.3 284.7h0M456.7 302.4h0M471.9 296h0M467.7 306.5h0M452 277.8h0M468.7 304.5h0M472.3 305.6h0M456.3 289.2h0M459.8 293.9h0M470.8 303.1h0M454 294.1h0M450.2 302.7h0M465 305.3h0M466.4 306.3h0M467.5 299h0M456.5 298.9h0M472.4 304.8h0M461.9 292.9h0M457.9 305.8h0M450.1 275.4h0" stroke="#b65a61" stroke-opacity="0.75" stroke-width="2.3" stroke-linecap="round" fill="none"/>
<path d="M450.7 280.5h0M459.1 303.6h0M453.9 302.1h0M462.5 289.2h0M458.9 305h0M451.8 298.3h0M468.2 302.1h0M465.5 302.9h0M464.7 301.8h0M457.1 287.8h0M451.6 294.1h0M464.4 300.7h0M461.8 297.6h0M472.1 304.9h0M459.1 299.7h0M460.8 296.2h0M461 304.5h0M451.2 303.1h0M467.9 281.8h0M460.8 297.8h0M466.1 302.2h0M468.8 296.4h0M448.9 294.1h0M458.1 296.7h0M456.1 285.7h0M470.6 303h0M463.4 293.3h0M455.3 285.7h0M462 301.9h0M461.3 293.3h0" stroke="#8e3c43" stroke-opacity="0.75" stroke-width="3.2" stroke-linecap="round" fill="none"/>
<path d="M450.7 280.5h0M459.1 303.6h0M453.9 302.1h0M462.5 289.2h0M458.9 305h0M451.8 298.3h0M468.2 302.1h0M465.5 302.9h0M464.7 301.8h0M457.1 287.8h0M451.6 294.1h0M464.4 300.7h0M461.8 297.6h0M472.1 304.9h0M459.1 299.7h0M460.8 296.2h0M461 304.5h0M451.2 303.1h0M467.9 281.8h0M460.8 297.8h0M466.1 302.2h0M468.8 296.4h0M448.9 294.1h0M458.1 296.7h0M456.1 285.7h0M470.6 303h0M463.4 293.3h0M455.3 285.7h0M462 301.9h0M461.3 293.3h0" stroke="#b65a61" stroke-opacity="0.75" stroke-width="2.3" stroke-linecap="round" fill="none"/>
<path d="M461 293h0M457.3 297.9h0M458.8 296h0M465.7 282.4h0M450.9 288.8h0M461 277.3h0M456.4 300.7h0M460.1 297.6h0M465.5 305.1h0M466.8 306.4h0M466.2 282.5h0M452.8 279h0M469 305h0M449.5 298.8h0M456.4 274.3h0M450.9 306h0M468.2 293.6h0M449.5 294.2h0M456.1 303.2h0M458.3 302.9h0M464.6 282.5h0M458.5 302.7h0M464.3 289.9h0M455.9 290.4h0M462.7 294.5h0M467.9 296.7h0M455 288.5h0M457 295.9h0M453.6 294h0M452.7 282h0" stroke="#8e3c43" stroke-opacity="0.75" stroke-width="3.2" stroke-linecap="round" fill="none"/>
<path d="M461 293h0M457.3 297.9h0M458.8 296h0M465.7 282.4h0M450.9 288.8h0M461 277.3h0M456.4 300.7h0M460.1 297.6h0M465.5 305.1h0M466.8 306.4h0M466.2 282.5h0M452.8 279h0M469 305h0M449.5 298.8h0M456.4 274.3h0M450.9 306h0M468.2 293.6h0M449.5 294.2h0M456.1 303.2h0M458.3 302.9h0M464.6 282.5h0M458.5 302.7h0M464.3 289.9h0M455.9 290.4h0M462.7 294.5h0M467.9 296.7h0M455 288.5h0M457 295.9h0M453.6 294h0M452.7 282h0" stroke="#b65a61" stroke-opacity="0.75" stroke-width="2.3" stroke-linecap="round" fill="none"/>
<path d="M461.6 304.4h0M452.2 306.3h0M454.5 298.5h0M451.6 304.1h0M469.8 280.5h0M463.8 303.5h0M453.3 302.8h0M449.3 301.1h0M452.7 287.4h0M450.5 299.1h0M456.6 275.4h0M456.5 283.2h0M472.3 301.9h0M465.4 302.7h0M461.8 303.7h0M453.4 303.1h0M470.7 290.7h0M466.2 299.1h0M458.4 277.3h0M465.2 289.5h0M454.3 296.3h0M472.7 305.5h0M457.5 288.6h0M459.3 303.3h0M471.8 299.9h0M457.3 291.8h0M462 270.8h0M457.8 304.4h0M448.9 298.1h0M459.1 289.7h0" stroke="#8e3c43" stroke-opacity="0.75" stroke-width="3.2" stroke-linecap="round" fill="none"/>
<path d="M461.6 304.4h0M452.2 306.3h0M454.5 298.5h0M451.6 304.1h0M469.8 280.5h0M463.8 303.5h0M453.3 302.8h0M449.3 301.1h0M452.7 287.4h0M450.5 299.1h0M456.6 275.4h0M456.5 283.2h0M472.3 301.9h0M465.4 302.7h0M461.8 303.7h0M453.4 303.1h0M470.7 290.7h0M466.2 299.1h0M458.4 277.3h0M465.2 289.5h0M454.3 296.3h0M472.7 305.5h0M457.5 288.6h0M459.3 303.3h0M471.8 299.9h0M457.3 291.8h0M462 270.8h0M457.8 304.4h0M448.9 298.1h0M459.1 289.7h0" stroke="#b65a61" stroke-opacity="0.75" stroke-width="2.3" stroke-linecap="round" fill="none"/>
<path d="M462.6 286.5h0M467.2 305h0M452.2 288.8h0M451.8 280.1h0M448.6 286.3h0M454.3 292.2h0M457.4 284.8h0M459.6 282.2h0M462.2 298.8h0M461.1 291.7h0M458.5 295h0M455.6 291.6h0M455.9 278.4h0M459.9 274.9h0M458.9 299.3h0M452.9 293.8h0M450.1 305.7h0M451.8 296.6h0M451.1 276.2h0M457.8 290.8h0M469 305.6h0M452.7 295.6h0M461.9 304.6h0M471.7 297.3h0M463.9 293.9h0M451.5 297.1h0M452.4 299.9h0M452 305.7h0M470.3 299.3h0M448.9 292.7h0" stroke="#8e3c43" stroke-opacity="0.75" stroke-width="3.2" stroke-linecap="round" fill="none"/>
<path d="M462.6 286.5h0M467.2 305h0M452.2 288.8h0M451.8 280.1h0M448.6 286.3h0M454.3 292.2h0M457.4 284.8h0M459.6 282.2h0M462.2 298.8h0M461.1 291.7h0M458.5 295h0M455.6 291.6h0M455.9 278.4h0M459.9 274.9h0M458.9 299.3h0M452.9 293.8h0M450.1 305.7h0M451.8 296.6h0M451.1 276.2h0M457.8 290.8h0M469 305.6h0M452.7 295.6h0M461.9 304.6h0M471.7 297.3h0M463.9 293.9h0M451.5 297.1h0M452.4 299.9h0M452 305.7h0M470.3 299.3h0M448.9 292.7h0" stroke="#b65a61" stroke-opacity="0.75" stroke-width="2.3" stroke-linecap="round" fill="none"/>
<path d="M470.5 294.9h0M453.4 294.4h0M454.4 300.9h0M452.7 303.1h0M457.9 295h0M463.5 275.1h0M448.1 287.1h0M454.7 302.2h0M450.7 288.5h0M450.8 273.3h0M449.8 300.1h0M458.6 295.6h0M457.1 285h0M465.6 302.5h0M470.9 300.8h0M448.4 295.3h0M482 283h0" stroke="#8e3c43" stroke-opacity="0.75" stroke-width="3.2" stroke-linecap="round" fill="none"/>
<path d="M470.5 294.9h0M453.4 294.4h0M454.4 300.9h0M452.7 303.1h0M457.9 295h0M463.5 275.1h0M448.1 287.1h0M454.7 302.2h0M450.7 288.5h0M450.8 273.3h0M449.8 300.1h0M458.6 295.6h0M457.1 285h0M465.6 302.5h0M470.9 300.8h0M448.4 295.3h0M482 283h0" stroke="#b65a61" stroke-opacity="0.75" stroke-width="2.3" stroke-linecap="round" fill="none"/>
<path d="M456.2 282.4h0M456.9 282.8h0M462.5 301.9h0M456.1 298.9h0M448.8 295.1h0M465.6 287.8h0M448.9 304h0M457.3 298.9h0M457.2 304.2h0M471.4 306.4h0M450.2 291.5h0M456.4 294.3h0M471.7 294.2h0M448.9 296.6h0M466.4 298.1h0M450.2 300.2h0M456.1 297.9h0M455 290h0M460.4 295.5h0M459.8 276.6h0M453.3 291.9h0M462.7 299.1h0M456 304.4h0M463.1 292.8h0M448.9 304.2h0M462.4 279h0M464 299.4h0M452.2 284.6h0M470.4 289.4h0M448.8 304.2h0" stroke="#8e3c43" stroke-opacity="0.75" stroke-width="2.8" stroke-linecap="round" fill="none"/>
<path d="M456.2 282.4h0M456.9 282.8h0M462.5 301.9h0M456.1 298.9h0M448.8 295.1h0M465.6 287.8h0M448.9 304h0M457.3 298.9h0M457.2 304.2h0M471.4 306.4h0M450.2 291.5h0M456.4 294.3h0M471.7 294.2h0M448.9 296.6h0M466.4 298.1h0M450.2 300.2h0M456.1 297.9h0M455 290h0M460.4 295.5h0M459.8 276.6h0M453.3 291.9h0M462.7 299.1h0M456 304.4h0M463.1 292.8h0M448.9 304.2h0M462.4 279h0M464 299.4h0M452.2 284.6h0M470.4 289.4h0M448.8 304.2h0" stroke="#b65a61" stroke-opacity="0.75" stroke-width="1.9" stroke-linecap="round" fill="none"/>
<path d="M455.3 301.9h0M464.8 301.7h0M470.2 301.4h0M449.5 304.5h0M465.2 283.5h0M448 303.8h0M453.9 289.6h0M459.3 291.1h0M461.6 304.3h0M462.4 303.1h0M458.7 298h0M469.2 285.3h0M457.4 276.3h0M452.4 282.3h0M465.1 305h0M452.4 302.5h0M453.4 282.3h0M460.8 291.1h0M449.5 298.2h0M453.9 282h0M448.8 305.3h0M470.9 285.2h0M456.2 300.9h0M465.1 305.7h0M469.7 293.9h0M462.2 299.7h0M463.8 303.2h0M461.3 276.2h0M454.6 272.6h0M461.9 302.1h0" stroke="#8e3c43" stroke-opacity="0.75" stroke-width="2.8" stroke-linecap="round" fill="none"/>
<path d="M455.3 301.9h0M464.8 301.7h0M470.2 301.4h0M449.5 304.5h0M465.2 283.5h0M448 303.8h0M453.9 289.6h0M459.3 291.1h0M461.6 304.3h0M462.4 303.1h0M458.7 298h0M469.2 285.3h0M457.4 276.3h0M452.4 282.3h0M465.1 305h0M452.4 302.5h0M453.4 282.3h0M460.8 291.1h0M449.5 298.2h0M453.9 282h0M448.8 305.3h0M470.9 285.2h0M456.2 300.9h0M465.1 305.7h0M469.7 293.9h0M462.2 299.7h0M463.8 303.2h0M461.3 276.2h0M454.6 272.6h0M461.9 302.1h0" stroke="#b65a61" stroke-opacity="0.75" stroke-width="1.9" stroke-linecap="round" fill="none"/>
<path d="M472.3 303.9h0M448.5 299.8h0M454.9 300.1h0M462.6 295.4h0M468.2 303.1h0M456.3 292.1h0M464.1 271.8h0M471.2 304.3h0M460.1 294.6h0M468.2 306h0M469.5 302.6h0M456 292.2h0M455.6 290.8h0M448.9 302.5h0M469.3 284.1h0M461.9 288.9h0M460.3 300.5h0M454.7 299.9h0M464.7 294h0M461.5 302.5h0M466.6 304.2h0M467.5 303.3h0M452.9 285.1h0M465.6 278.6h0M458.6 276.7h0M451.8 281.2h0M470 304.8h0M468.8 303.3h0M454.2 294.1h0M464.3 281.6h0" stroke="#8e3c43" stroke-opacity="0.75" stroke-width="2.8" stroke-linecap="round" fill="none"/>
<path d="M472.3 303.9h0M448.5 299.8h0M454.9 300.1h0M462.6 295.4h0M468.2 303.1h0M456.3 292.1h0M464.1 271.8h0M471.2 304.3h0M460.1 294.6h0M468.2 306h0M469.5 302.6h0M456 292.2h0M455.6 290.8h0M448.9 302.5h0M469.3 284.1h0M461.9 288.9h0M460.3 300.5h0M454.7 299.9h0M464.7 294h0M461.5 302.5h0M466.6 304.2h0M467.5 303.3h0M452.9 285.1h0M465.6 278.6h0M458.6 276.7h0M451.8 281.2h0M470 304.8h0M468.8 303.3h0M454.2 294.1h0M464.3 281.6h0" stroke="#b65a61" stroke-opacity="0.75" stroke-width="1.9" stroke-linecap="round" fill="none"/>
<path d="M472 296.1h0M462.7 272.6h0M461.9 305.6h0M469 282.1h0M468.3 300.6h0M465.6 297.2h0M459.3 282.5h0M457.4 291.7h0M470.6 303.5h0M449.6 296.5h0M451.2 287.5h0M461.7 287.4h0M454.2 301.7h0M468.8 293.3h0M462 297.9h0M460.2 291.9h0M470.8 290.3h0M470.4 299.5h0M449.9 299.2h0M470.5 304.3h0M454.8 293.9h0M449.5 279.4h0M467 302.1h0M456.3 284.7h0M458.4 303.8h0M453 305.8h0M462.5 277.9h0M453.8 304.8h0M469.7 300.3h0M464 304.7h0" stroke="#8e3c43" stroke-opacity="0.75" stroke-width="2.8" stroke-linecap="round" fill="none"/>
<path d="M472 296.1h0M462.7 272.6h0M461.9 305.6h0M469 282.1h0M468.3 300.6h0M465.6 297.2h0M459.3 282.5h0M457.4 291.7h0M470.6 303.5h0M449.6 296.5h0M451.2 287.5h0M461.7 287.4h0M454.2 301.7h0M468.8 293.3h0M462 297.9h0M460.2 291.9h0M470.8 290.3h0M470.4 299.5h0M449.9 299.2h0M470.5 304.3h0M454.8 293.9h0M449.5 279.4h0M467 302.1h0M456.3 284.7h0M458.4 303.8h0M453 305.8h0M462.5 277.9h0M453.8 304.8h0M469.7 300.3h0M464 304.7h0" stroke="#b65a61" stroke-opacity="0.75" stroke-width="1.9" stroke-linecap="round" fill="none"/>
<path d="M450.9 276.9h0M451.9 286.2h0M471.2 296.1h0M454.2 299h0M455.3 291.4h0M449.2 296.6h0M448 285.4h0M459.7 286.5h0M464.4 305.8h0M458 285.5h0M458.3 303.7h0M451.6 284.8h0M470.5 295.2h0M459.1 273.9h0M462.8 286h0M459.5 296.4h0M459.2 291.3h0M448.8 293.8h0M451.9 304.1h0M453 287.9h0M464 291.8h0M454.4 278.6h0M454.9 291.7h0M454.2 294.6h0M465.9 301.9h0M454.7 274.6h0M465.5 305h0M468.3 280.5h0M455.7 303.2h0M464.8 294.1h0" stroke="#8e3c43" stroke-opacity="0.75" stroke-width="2.8" stroke-linecap="round" fill="none"/>
<path d="M450.9 276.9h0M451.9 286.2h0M471.2 296.1h0M454.2 299h0M455.3 291.4h0M449.2 296.6h0M448 285.4h0M459.7 286.5h0M464.4 305.8h0M458 285.5h0M458.3 303.7h0M451.6 284.8h0M470.5 295.2h0M459.1 273.9h0M462.8 286h0M459.5 296.4h0M459.2 291.3h0M448.8 293.8h0M451.9 304.1h0M453 287.9h0M464 291.8h0M454.4 278.6h0M454.9 291.7h0M454.2 294.6h0M465.9 301.9h0M454.7 274.6h0M465.5 305h0M468.3 280.5h0M455.7 303.2h0M464.8 294.1h0" stroke="#b65a61" stroke-opacity="0.75" stroke-width="1.9" stroke-linecap="round" fill="none"/>
<path d="M470.6 302.4h0M454.4 298.3h0M465.4 294.5h0M452.9 295.7h0M467.3 294.9h0M465.7 288.8h0M468.2 302.5h0M452.8 295.2h0M459 291.5h0M453 300h0M469 296h0M458.4 302.5h0M462.2 289.8h0M467.5 288h0M475 290h0M476 298h0" stroke="#8e3c43" stroke-opacity="0.75" stroke-width="2.8" stroke-linecap="round" fill="none"/>
<path d="M470.6 302.4h0M454.4 298.3h0M465.4 294.5h0M452.9 295.7h0M467.3 294.9h0M465.7 288.8h0M468.2 302.5h0M452.8 295.2h0M459 291.5h0M453 300h0M469 296h0M458.4 302.5h0M462.2 289.8h0M467.5 288h0M475 290h0M476 298h0" stroke="#b65a61" stroke-opacity="0.75" stroke-width="1.9" stroke-linecap="round" fill="none"/>
<path d="M508 217h0" stroke="#8e3c43" stroke-opacity="0.75" stroke-width="4" stroke-linecap="round" fill="none"/>
<path d="M508 217h0" stroke="#b65a61" stroke-opacity="0.75" stroke-width="3.1" stroke-linecap="round" fill="none"/>
<path d="M512 215h0M507.5 219.5h0M510 222.5h0" stroke="#8e3c43" stroke-opacity="0.75" stroke-width="3.6" stroke-linecap="round" fill="none"/>
<path d="M512 215h0M507.5 219.5h0M510 222.5h0" stroke="#b65a61" stroke-opacity="0.75" stroke-width="2.7" stroke-linecap="round" fill="none"/>
<path d="M467 246h0M471 253h0M470 258h0M467 262h0M473 268h0M468 272h0" stroke="#8e3c43" stroke-opacity="0.75" stroke-width="2.4" stroke-linecap="round" fill="none"/>
<path d="M467 246h0M471 253h0M470 258h0M467 262h0M473 268h0M468 272h0" stroke="#b65a61" stroke-opacity="0.75" stroke-width="1.5" stroke-linecap="round" fill="none"/>
<text x="367.80" y="186.00" font-size="4.3" fill="#333">DAZ2</text>
<text x="368.00" y="191.50" font-size="4.3" fill="#333">DAZ4</text>
<text x="362.00" y="210.00" font-size="4.3" fill="#333">LINC00221</text>
<text x="409.50" y="223.00" font-size="4.3" fill="#333">XIST</text>
<text x="433.00" y="214.00" font-size="4.3" fill="#333">HLA-DQA1</text>
<text x="498.80" y="215.00" font-size="4.3" fill="#333">COTTA-AS1</text>
<text x="484.40" y="221.70" font-size="4.3" fill="#333">AC025263.1</text>
<text x="497.90" y="227.50" font-size="4.3" fill="#333">LINC01.1</text>
<text x="420.00" y="236.00" font-size="4.3" fill="#333">PWRT1</text>
<text x="404.00" y="247.70" font-size="4.3" fill="#333">AC125808.1</text>
<text x="428.00" y="247.70" font-size="4.3" fill="#333">KDTT1</text>
<text x="451.70" y="247.70" font-size="4.3" fill="#333">TDO2</text>
<text x="465.00" y="246.50" font-size="4.3" fill="#333">IL1B</text>
<text x="468.00" y="253.50" font-size="4.3" fill="#333">CCL20</text>
<text x="398.00" y="257.30" font-size="4.3" fill="#333">GABRA2</text>
<text x="422.00" y="257.30" font-size="4.3" fill="#333">CENDR1</text>
<text x="456.00" y="257.30" font-size="4.3" fill="#333">FPR1</text>
<text x="470.00" y="259.20" font-size="4.3" fill="#333">OSM</text>
<text x="435.00" y="263.50" font-size="4.3" fill="#333">JSPN</text>
<text x="447.00" y="263.00" font-size="4.3" fill="#333">BCL2A1</text>
<text x="469.00" y="264.00" font-size="4.3" fill="#333">TREM1</text>
<text x="449.00" y="268.20" font-size="4.3" fill="#333">CXCL2</text>
<text x="475.00" y="269.80" font-size="4.3" fill="#333">CSF3</text>
<text x="400.00" y="268.80" font-size="4.3" fill="#333">PNPTN1</text>
<text x="4.90" y="371.70" font-size="14.8" font-weight="bold" fill="#111">E</text>
<rect x="49.6" y="382.2" width="118.30000000000001" height="129.3" fill="none" stroke="#111" stroke-width="1"/>
<path d="M47.6,413.3 H49.6" stroke="#111" stroke-width="0.8"/>
<text x="46.60" y="415.60" font-size="6.8" text-anchor="end" fill="#333">10</text>
<path d="M47.6,442.7 H49.6" stroke="#111" stroke-width="0.8"/>
<text x="46.60" y="445.00" font-size="6.8" text-anchor="end" fill="#333">0</text>
<path d="M47.6,472.1 H49.6" stroke="#111" stroke-width="0.8"/>
<text x="46.60" y="474.40" font-size="6.8" text-anchor="end" fill="#333">−10</text>
<path d="M47.6,501.5 H49.6" stroke="#111" stroke-width="0.8"/>
<text x="46.60" y="503.80" font-size="6.8" text-anchor="end" fill="#333">−20</text>
<path d="M53.0,511.5 V513.5" stroke="#111" stroke-width="0.8"/>
<text x="52.97" y="519.80" font-size="6.8" text-anchor="middle" fill="#333">−75</text>
<path d="M76.8,511.5 V513.5" stroke="#111" stroke-width="0.8"/>
<text x="76.85" y="519.80" font-size="6.8" text-anchor="middle" fill="#333">−50</text>
<path d="M100.7,511.5 V513.5" stroke="#111" stroke-width="0.8"/>
<text x="100.72" y="519.80" font-size="6.8" text-anchor="middle" fill="#333">−25</text>
<path d="M124.6,511.5 V513.5" stroke="#111" stroke-width="0.8"/>
<text x="124.60" y="519.80" font-size="6.8" text-anchor="middle" fill="#333">0</text>
<path d="M148.5,511.5 V513.5" stroke="#111" stroke-width="0.8"/>
<text x="148.47" y="519.80" font-size="6.8" text-anchor="middle" fill="#333">25</text>
<text x="0" y="0" font-size="6.8" fill="#222" text-anchor="middle" transform="translate(31.5,447.5) rotate(-90)">PC2 (8.88%)</text>
<text x="110.50" y="527.50" font-size="6.8" text-anchor="middle" fill="#222">PC1 ( 18.64%)</text>
<circle cx="115" cy="393.1" r="2.0" fill="#4d7fbd"/>
<circle cx="117.2" cy="399.3" r="2.0" fill="#4d7fbd"/>
<circle cx="111" cy="404.8" r="2.0" fill="#4d7fbd"/>
<circle cx="142.3" cy="390.5" r="2.0" fill="#4d7fbd"/>
<circle cx="137.5" cy="418" r="2.0" fill="#4d7fbd"/>
<circle cx="99.8" cy="408" r="2.0" fill="#4d7fbd"/>
<circle cx="102" cy="417.4" r="2.0" fill="#4d7fbd"/>
<circle cx="102.6" cy="427.5" r="2.0" fill="#4d7fbd"/>
<circle cx="98.4" cy="432.7" r="2.0" fill="#4d7fbd"/>
<circle cx="134.2" cy="402" r="2.0" fill="#28a048"/>
<circle cx="145.2" cy="421.8" r="2.0" fill="#28a048"/>
<circle cx="128" cy="457" r="2.0" fill="#28a048"/>
<circle cx="152.5" cy="467" r="2.0" fill="#28a048"/>
<circle cx="106.2" cy="475.6" r="2.0" fill="#28a048"/>
<circle cx="54.4" cy="497.1" r="2.0" fill="#28a048"/>
<circle cx="78.3" cy="500.6" r="2.0" fill="#28a048"/>
<circle cx="128.7" cy="422.9" r="2.0" fill="#c00d2c"/>
<circle cx="137.5" cy="425.1" r="2.0" fill="#c00d2c"/>
<circle cx="148.9" cy="425.6" r="2.0" fill="#c00d2c"/>
<circle cx="142.5" cy="463" r="2.0" fill="#ec8a86"/>
<circle cx="155.1" cy="486.2" r="2.0" fill="#ec8a86"/>
<circle cx="163.5" cy="487.5" r="2.0" fill="#ec8a86"/>
<circle cx="145.9" cy="492.8" r="2.0" fill="#ec8a86"/>
<circle cx="145.6" cy="504" r="2.0" fill="#ec8a86"/>
<ellipse cx="98.1" cy="446.4" rx="71.8" ry="24.5" transform="rotate(-55.5 98.1 446.4)" fill="none" stroke="#000" stroke-width="1.3" stroke-dasharray="1.0,0.8"/>
<ellipse cx="143.7" cy="465.7" rx="45.8" ry="19.65" transform="rotate(81.9 143.7 465.7)" fill="none" stroke="#000" stroke-width="1.3" stroke-dasharray="1.0,0.8"/>
<text x="172.50" y="466.20" font-size="7.2" font-weight="bold" fill="#111">Group</text>
<circle cx="175.5" cy="472.6" r="1.6" fill="#5a87c0"/>
<text x="179.50" y="475.00" font-size="6.8" fill="#222">RIFS</text>
<circle cx="175.5" cy="479.3" r="1.6" fill="#2f9e4a"/>
<text x="179.50" y="481.70" font-size="6.8" fill="#222">RIOS</text>
<circle cx="175.5" cy="486.0" r="1.6" fill="#c8102e"/>
<text x="179.50" y="488.40" font-size="6.8" fill="#222">FS</text>
<circle cx="175.5" cy="492.7" r="1.6" fill="#ec8a86"/>
<text x="179.50" y="495.10" font-size="6.8" fill="#222">OS</text>
<text x="252.90" y="370.40" font-size="14.8" font-weight="bold" fill="#111">F</text>
<rect x="368.3" y="368.5" width="115.5" height="240.29999999999995" fill="#fff" stroke="#bbb" stroke-width="0.6"/>
<path d="M377.1,368.5 V608.8" stroke="#f3f3f3" stroke-width="0.5"/>
<path d="M399.9,368.5 V608.8" stroke="#f3f3f3" stroke-width="0.5"/>
<path d="M422.6,368.5 V608.8" stroke="#f3f3f3" stroke-width="0.5"/>
<path d="M445.4,368.5 V608.8" stroke="#f3f3f3" stroke-width="0.5"/>
<path d="M468.1,368.5 V608.8" stroke="#f3f3f3" stroke-width="0.5"/>
<path d="M388.5,368.5 V608.8" stroke="#e6e6e6" stroke-width="0.7"/>
<path d="M388.5,608.8 V610.5999999999999" stroke="#333" stroke-width="0.6"/>
<text x="388.50" y="616.10" font-size="6.6" text-anchor="middle" fill="#333">0.05</text>
<path d="M411.2,368.5 V608.8" stroke="#e6e6e6" stroke-width="0.7"/>
<path d="M411.2,608.8 V610.5999999999999" stroke="#333" stroke-width="0.6"/>
<text x="411.25" y="616.10" font-size="6.6" text-anchor="middle" fill="#333">0.10</text>
<path d="M434.0,368.5 V608.8" stroke="#e6e6e6" stroke-width="0.7"/>
<path d="M434.0,608.8 V610.5999999999999" stroke="#333" stroke-width="0.6"/>
<text x="434.00" y="616.10" font-size="6.6" text-anchor="middle" fill="#333">0.15</text>
<path d="M456.8,368.5 V608.8" stroke="#e6e6e6" stroke-width="0.7"/>
<path d="M456.8,608.8 V610.5999999999999" stroke="#333" stroke-width="0.6"/>
<text x="456.75" y="616.10" font-size="6.6" text-anchor="middle" fill="#333">0.20</text>
<path d="M479.5,368.5 V608.8" stroke="#e6e6e6" stroke-width="0.7"/>
<path d="M479.5,608.8 V610.5999999999999" stroke="#333" stroke-width="0.6"/>
<text x="479.50" y="616.10" font-size="6.6" text-anchor="middle" fill="#333">0.25</text>
<path d="M368.3,368.5 V608.8 H483.8" stroke="#444" stroke-width="0.7" fill="none"/>
<path d="M368.3,377.0 H483.8" stroke="#ececec" stroke-width="0.6"/>
<path d="M366.5,377.0 H368.3" stroke="#333" stroke-width="0.6"/>
<text x="364.30" y="379.30" font-size="6.6" text-anchor="end" fill="#222"><tspan font-size="5.6">★</tspan>  Neutrophil degranulation</text>
<circle cx="478.5" cy="377.0" r="3.3" fill="#e4222c"/>
<path d="M368.3,388.8 H483.8" stroke="#ececec" stroke-width="0.6"/>
<path d="M366.5,388.8 H368.3" stroke="#333" stroke-width="0.6"/>
<text x="364.30" y="391.10" font-size="6.6" text-anchor="end" fill="#222"><tspan font-size="5.6">★</tspan>  Signaling by Interleukins</text>
<circle cx="453.8" cy="388.8" r="2.9" fill="#e1222f"/>
<path d="M368.3,400.6 H483.8" stroke="#ececec" stroke-width="0.6"/>
<path d="M366.5,400.6 H368.3" stroke="#333" stroke-width="0.6"/>
<text x="364.30" y="402.90" font-size="6.6" text-anchor="end" fill="#222">GPCR ligand binding</text>
<circle cx="428.6" cy="400.6" r="2.5" fill="#df2131"/>
<path d="M368.3,412.4 H483.8" stroke="#ececec" stroke-width="0.6"/>
<path d="M366.5,412.4 H368.3" stroke="#333" stroke-width="0.6"/>
<text x="364.30" y="414.70" font-size="6.6" text-anchor="end" fill="#222">Class A/1 (Rhodopsin−like receptors)</text>
<circle cx="425.5" cy="412.4" r="2.4" fill="#dc2134"/>
<path d="M368.3,424.2 H483.8" stroke="#ececec" stroke-width="0.6"/>
<path d="M366.5,424.2 H368.3" stroke="#333" stroke-width="0.6"/>
<text x="364.30" y="424.50" font-size="6.6" text-anchor="end" fill="#222"><tspan font-size="5.6">★</tspan>  Immunoregulatory interactions</text>
<text x="364.30" y="429.80" font-size="5.4" text-anchor="end" fill="#222">(Lymphoid/non-Lymphoid cell)</text>
<circle cx="420.3" cy="424.2" r="2.3" fill="#db2136"/>
<path d="M368.3,436.0 H483.8" stroke="#ececec" stroke-width="0.6"/>
<path d="M366.5,436.0 H368.3" stroke="#333" stroke-width="0.6"/>
<text x="364.30" y="438.30" font-size="6.6" text-anchor="end" fill="#222">G alpha (i) signaling events</text>
<circle cx="412.3" cy="436.0" r="2.2" fill="#dc2134"/>
<path d="M368.3,447.8 H483.8" stroke="#ececec" stroke-width="0.6"/>
<path d="M366.5,447.8 H368.3" stroke="#333" stroke-width="0.6"/>
<text x="364.30" y="450.10" font-size="6.6" text-anchor="end" fill="#222"><tspan font-size="5.6">★</tspan>  IL4 and IL13 signaling</text>
<circle cx="409.2" cy="447.8" r="2.1" fill="#de2132"/>
<path d="M368.3,459.6 H483.8" stroke="#ececec" stroke-width="0.6"/>
<path d="M366.5,459.6 H368.3" stroke="#333" stroke-width="0.6"/>
<text x="364.30" y="461.90" font-size="6.6" text-anchor="end" fill="#222">Peptide ligand−binding receptors</text>
<circle cx="409.2" cy="459.6" r="2.1" fill="#db2136"/>
<path d="M368.3,471.4 H483.8" stroke="#ececec" stroke-width="0.6"/>
<path d="M366.5,471.4 H368.3" stroke="#333" stroke-width="0.6"/>
<text x="364.30" y="473.70" font-size="6.6" text-anchor="end" fill="#222"><tspan font-size="5.6">★</tspan>  IL10 signaling</text>
<circle cx="401.0" cy="471.4" r="2.0" fill="#dc2134"/>
<path d="M368.3,483.2 H483.8" stroke="#ececec" stroke-width="0.6"/>
<path d="M366.5,483.2 H368.3" stroke="#333" stroke-width="0.6"/>
<text x="364.30" y="485.50" font-size="6.6" text-anchor="end" fill="#222">Leishmania infection</text>
<circle cx="398.0" cy="483.2" r="2.1" fill="#8c1a80"/>
<path d="M368.3,495.0 H483.8" stroke="#ececec" stroke-width="0.6"/>
<path d="M366.5,495.0 H368.3" stroke="#333" stroke-width="0.6"/>
<text x="364.30" y="494.10" font-size="6.6" text-anchor="end" fill="#222"><tspan font-size="5.6">★</tspan>  Chemokine receptors bind</text>
<text x="364.30" y="500.50" font-size="6.6" text-anchor="end" fill="#222">chemokines</text>
<circle cx="392.5" cy="495.0" r="1.9" fill="#d4203c"/>
<path d="M368.3,506.8 H483.8" stroke="#ececec" stroke-width="0.6"/>
<path d="M366.5,506.8 H368.3" stroke="#333" stroke-width="0.6"/>
<text x="364.30" y="509.10" font-size="6.6" text-anchor="end" fill="#222">Toll−like Receptor Cascades</text>
<circle cx="390.0" cy="506.8" r="1.9" fill="#3c3894"/>
<path d="M368.3,518.6 H483.8" stroke="#ececec" stroke-width="0.6"/>
<path d="M366.5,518.6 H368.3" stroke="#333" stroke-width="0.6"/>
<text x="364.30" y="517.70" font-size="6.6" text-anchor="end" fill="#222">Binding and Uptake of ligands by</text>
<text x="364.30" y="524.10" font-size="6.6" text-anchor="end" fill="#222">Scavenger Receptors</text>
<circle cx="387.5" cy="518.6" r="1.8" fill="#d4203c"/>
<path d="M368.3,530.4 H483.8" stroke="#ececec" stroke-width="0.6"/>
<path d="M366.5,530.4 H368.3" stroke="#333" stroke-width="0.6"/>
<text x="364.30" y="532.70" font-size="6.6" text-anchor="end" fill="#222"><tspan font-size="5.6">★</tspan>  IFNγ signaling</text>
<circle cx="384.5" cy="530.4" r="1.8" fill="#64298a"/>
<path d="M368.3,542.2 H483.8" stroke="#ececec" stroke-width="0.6"/>
<path d="M366.5,542.2 H368.3" stroke="#333" stroke-width="0.6"/>
<text x="364.30" y="544.50" font-size="6.6" text-anchor="end" fill="#222">Scavenging by Class A receptors</text>
<circle cx="378.8" cy="542.2" r="1.6" fill="#d82039"/>
<path d="M368.3,554.0 H483.8" stroke="#ececec" stroke-width="0.6"/>
<path d="M366.5,554.0 H368.3" stroke="#333" stroke-width="0.6"/>
<text x="364.30" y="556.30" font-size="6.6" text-anchor="end" fill="#222">FCGR activation</text>
<circle cx="376.3" cy="554.0" r="1.5" fill="#d4203c"/>
<path d="M368.3,565.8 H483.8" stroke="#ececec" stroke-width="0.6"/>
<path d="M366.5,565.8 H368.3" stroke="#333" stroke-width="0.6"/>
<text x="364.30" y="564.90" font-size="6.6" text-anchor="end" fill="#222">Regulation of TLR by</text>
<text x="364.30" y="571.30" font-size="6.6" text-anchor="end" fill="#222">endogenous ligand</text>
<circle cx="376.3" cy="565.8" r="1.5" fill="#ad1a65"/>
<path d="M368.3,577.6 H483.8" stroke="#ececec" stroke-width="0.6"/>
<path d="M366.5,577.6 H368.3" stroke="#333" stroke-width="0.6"/>
<text x="364.30" y="579.90" font-size="6.6" text-anchor="end" fill="#222"><tspan font-size="5.6">★</tspan>  PD−1 signaling</text>
<circle cx="376.3" cy="577.6" r="1.4" fill="#8c1a80"/>
<path d="M368.3,589.4 H483.8" stroke="#ececec" stroke-width="0.6"/>
<path d="M366.5,589.4 H368.3" stroke="#333" stroke-width="0.6"/>
<text x="364.30" y="591.70" font-size="6.6" text-anchor="end" fill="#222"><tspan font-size="5.6">★</tspan>Inactivation of CSF3 signaling</text>
<circle cx="376.3" cy="589.4" r="1.4" fill="#50318e"/>
<path d="M368.3,601.2 H483.8" stroke="#ececec" stroke-width="0.6"/>
<path d="M366.5,601.2 H368.3" stroke="#333" stroke-width="0.6"/>
<text x="364.30" y="600.30" font-size="6.6" text-anchor="end" fill="#222"><tspan font-size="5.6">★</tspan>  RUNX1 and FOXP3 control</text>
<text x="364.30" y="606.70" font-size="6.6" text-anchor="end" fill="#222">the development of Tregs</text>
<circle cx="373.3" cy="601.2" r="1.1" fill="#64298a"/>
<text x="425.50" y="364.80" font-size="6.8" text-anchor="middle" fill="#222">RIS group vs. SARC group</text>
<text x="426.50" y="626.50" font-size="6.8" text-anchor="middle" fill="#222">Gene ratio</text>
<text x="486.50" y="440.20" font-size="6.8" fill="#111">Count</text>
<circle cx="490.5" cy="444.3" r="1.65" fill="#111"/>
<text x="495.20" y="446.50" font-size="6.6" fill="#222">10</text>
<circle cx="490.5" cy="450.9" r="2.05" fill="#111"/>
<text x="495.20" y="453.10" font-size="6.6" fill="#222">20</text>
<circle cx="490.5" cy="457.5" r="2.4" fill="#111"/>
<text x="495.20" y="459.70" font-size="6.6" fill="#222">30</text>
<circle cx="490.5" cy="464.1" r="2.75" fill="#111"/>
<text x="495.20" y="466.30" font-size="6.6" fill="#222">40</text>
<text x="486.5" y="476.4" font-size="6.8" fill="#111"><tspan font-style="italic">P</tspan> value</text>
<defs><linearGradient id="gP" x1="0" y1="0" x2="0" y2="1"><stop offset="0" stop-color="#ea1b3a"/><stop offset="0.5" stop-color="#9c1b8c"/><stop offset="1" stop-color="#3a3f98"/></linearGradient></defs>
<rect x="486.70" y="479.00" width="5.60" height="28.60" fill="url(#gP)"/>
<text x="492.80" y="488.20" font-size="6.6" fill="#222">0.005</text>
<text x="492.80" y="497.50" font-size="6.6" fill="#222">0.010</text>
<text x="492.80" y="506.20" font-size="6.6" fill="#222">0.015</text>
<text x="6.20" y="547.40" font-size="14.8" font-weight="bold" fill="#111">G</text>
<rect x="29.40" y="559.10" width="135.00" height="67.20" fill="#8c939e"/>
<rect x="29.40" y="631.10" width="135.00" height="44.44" fill="#8c939e"/>
<rect x="29.40" y="680.00" width="135.00" height="45.08" fill="#8c939e"/>
<g>
<path fill="#e04038" d="M30.2 559.9h4.6v4.5h-4.6zM30.2 680.8h4.6v4.6h-4.6zM35.8 697.5h4.6v4.6h-4.6z"/>
<path fill="#fcd89c" d="M35.8 559.9h4.6v4.5h-4.6zM91.8 559.9h4.6v4.5h-4.6zM91.8 582.1h4.6v4.5h-4.6zM69.4 587.6h4.6v4.5h-4.6zM58.2 604.3h4.6v4.5h-4.6zM86.2 609.9h4.6v4.5h-4.6zM159 631.9h4.6v4.5h-4.6zM58.2 664.8h4.6v4.5h-4.6zM47 680.8h4.6v4.6h-4.6zM136.6 708.6h4.6v4.6h-4.6z"/>
<path fill="#f4f4cc" d="M41.4 559.9h4.6v4.5h-4.6zM136.6 571h4.6v4.5h-4.6zM114.2 708.6h4.6v4.6h-4.6zM153.4 708.6h4.6v4.6h-4.6z"/>
<path fill="#ec8064" d="M47 559.9h4.6v4.5h-4.6zM47 582.1h4.6v4.5h-4.6zM47 609.9h4.6v4.5h-4.6zM30.2 615.4h4.6v4.5h-4.6zM41.4 648.3h4.6v4.5h-4.6zM41.4 653.8h4.6v4.5h-4.6zM47 670.3h4.6v4.5h-4.6zM41.4 691.9h4.6v4.6h-4.6z"/>
<path fill="#fce0a8" d="M52.6 559.9h4.6v4.5h-4.6zM52.6 587.6h4.6v4.5h-4.6zM119.8 598.8h4.6v4.5h-4.6zM131 604.3h4.6v4.5h-4.6zM119.8 631.9h4.6v4.5h-4.6zM69.4 642.9h4.6v4.5h-4.6z"/>
<path fill="#f8d898" d="M58.2 559.9h4.6v4.5h-4.6zM142.2 593.2h4.6v4.5h-4.6zM30.2 631.9h4.6v4.5h-4.6zM119.8 648.3h4.6v4.5h-4.6zM125.4 659.3h4.6v4.5h-4.6zM63.8 686.4h4.6v4.6h-4.6zM47 708.6h4.6v4.6h-4.6zM142.2 708.6h4.6v4.6h-4.6z"/>
<path fill="#ec7c60" d="M63.8 559.9h4.6v4.5h-4.6zM41.4 587.6h4.6v4.5h-4.6zM41.4 593.2h4.6v4.5h-4.6zM30.2 598.8h4.6v4.5h-4.6zM30.2 637.4h4.6v4.5h-4.6zM52.6 664.8h4.6v4.5h-4.6zM41.4 680.8h4.6v4.6h-4.6zM30.2 719.7h4.6v4.6h-4.6z"/>
<path fill="#f09470" d="M69.4 559.9h4.6v4.5h-4.6zM58.2 565.4h4.6v4.5h-4.6zM41.4 571h4.6v4.5h-4.6zM52.6 571h4.6v4.5h-4.6zM125.4 576.5h4.6v4.5h-4.6zM30.2 582.1h4.6v4.5h-4.6zM58.2 598.8h4.6v4.5h-4.6zM35.8 615.4h4.6v4.5h-4.6zM35.8 680.8h4.6v4.6h-4.6zM30.2 691.9h4.6v4.6h-4.6z"/>
<path fill="#f8d498" d="M75 559.9h4.6v4.5h-4.6zM86.2 571h4.6v4.5h-4.6zM69.4 576.5h4.6v4.5h-4.6zM41.4 604.3h4.6v4.5h-4.6zM136.6 620.9h4.6v4.5h-4.6zM153.4 631.9h4.6v4.5h-4.6zM80.6 637.4h4.6v4.5h-4.6zM69.4 648.3h4.6v4.5h-4.6zM80.6 664.8h4.6v4.5h-4.6zM58.2 670.3h4.6v4.5h-4.6zM63.8 680.8h4.6v4.6h-4.6zM75 680.8h4.6v4.6h-4.6zM69.4 686.4h4.6v4.6h-4.6zM119.8 686.4h4.6v4.6h-4.6zM80.6 691.9h4.6v4.6h-4.6zM131 697.5h4.6v4.6h-4.6z"/>
<path fill="#e4f0e8" d="M80.6 559.9h4.6v4.5h-4.6zM142.2 559.9h4.6v4.5h-4.6zM142.2 565.4h4.6v4.5h-4.6zM153.4 565.4h4.6v4.5h-4.6zM131 571h4.6v4.5h-4.6zM47 576.5h4.6v4.5h-4.6zM75 582.1h4.6v4.5h-4.6zM131 582.1h4.6v4.5h-4.6zM142.2 615.4h4.6v4.5h-4.6zM131 642.9h4.6v4.5h-4.6zM119.8 653.8h4.6v4.5h-4.6zM131 653.8h4.6v4.5h-4.6zM153.4 680.8h4.6v4.6h-4.6zM103 686.4h4.6v4.6h-4.6zM131 686.4h4.6v4.6h-4.6zM108.6 708.6h4.6v4.6h-4.6zM108.6 714.2h4.6v4.6h-4.6z"/>
<path fill="#b0cce4" d="M86.2 559.9h4.6v4.5h-4.6zM103 565.4h4.6v4.5h-4.6zM153.4 593.2h4.6v4.5h-4.6zM108.6 604.3h4.6v4.5h-4.6zM153.4 609.9h4.6v4.5h-4.6zM91.8 653.8h4.6v4.5h-4.6z"/>
<path fill="#c0d8e8" d="M97.4 559.9h4.6v4.5h-4.6zM147.8 559.9h4.6v4.5h-4.6zM159 559.9h4.6v4.5h-4.6zM131 576.5h4.6v4.5h-4.6zM97.4 598.8h4.6v4.5h-4.6zM147.8 598.8h4.6v4.5h-4.6zM114.2 609.9h4.6v4.5h-4.6zM103 620.9h4.6v4.5h-4.6zM103 637.4h4.6v4.5h-4.6zM103 648.3h4.6v4.5h-4.6zM142.2 653.8h4.6v4.5h-4.6zM153.4 686.4h4.6v4.6h-4.6zM103 697.5h4.6v4.6h-4.6zM136.6 697.5h4.6v4.6h-4.6zM131 703h4.6v4.6h-4.6zM91.8 708.6h4.6v4.6h-4.6zM97.4 719.7h4.6v4.6h-4.6z"/>
<path fill="#88b0d4" d="M103 559.9h4.6v4.5h-4.6zM97.4 587.6h4.6v4.5h-4.6zM114.2 637.4h4.6v4.5h-4.6zM91.8 659.3h4.6v4.5h-4.6zM153.4 659.3h4.6v4.5h-4.6zM131 664.8h4.6v4.5h-4.6zM97.4 686.4h4.6v4.6h-4.6zM147.8 686.4h4.6v4.6h-4.6zM103 691.9h4.6v4.6h-4.6z"/>
<path fill="#fcf0bc" d="M108.6 559.9h4.6v4.5h-4.6zM86.2 582.1h4.6v4.5h-4.6zM63.8 598.8h4.6v4.5h-4.6zM80.6 598.8h4.6v4.5h-4.6zM86.2 642.9h4.6v4.5h-4.6zM136.6 648.3h4.6v4.5h-4.6zM136.6 664.8h4.6v4.5h-4.6zM86.2 691.9h4.6v4.6h-4.6zM103 703h4.6v4.6h-4.6zM75 708.6h4.6v4.6h-4.6zM63.8 719.7h4.6v4.6h-4.6zM69.4 719.7h4.6v4.6h-4.6zM136.6 719.7h4.6v4.6h-4.6zM142.2 719.7h4.6v4.6h-4.6z"/>
<path fill="#dcecec" d="M114.2 559.9h4.6v4.5h-4.6zM103 571h4.6v4.5h-4.6zM142.2 571h4.6v4.5h-4.6zM80.6 582.1h4.6v4.5h-4.6zM91.8 587.6h4.6v4.5h-4.6zM142.2 598.8h4.6v4.5h-4.6zM119.8 609.9h4.6v4.5h-4.6zM136.6 609.9h4.6v4.5h-4.6zM136.6 615.4h4.6v4.5h-4.6zM86.2 620.9h4.6v4.5h-4.6zM114.2 620.9h4.6v4.5h-4.6zM91.8 642.9h4.6v4.5h-4.6zM103 642.9h4.6v4.5h-4.6zM125.4 642.9h4.6v4.5h-4.6zM97.4 653.8h4.6v4.5h-4.6zM153.4 653.8h4.6v4.5h-4.6zM114.2 659.3h4.6v4.5h-4.6zM142.2 659.3h4.6v4.5h-4.6zM97.4 664.8h4.6v4.5h-4.6zM125.4 680.8h4.6v4.6h-4.6zM147.8 680.8h4.6v4.6h-4.6zM159 680.8h4.6v4.6h-4.6zM91.8 686.4h4.6v4.6h-4.6zM75 691.9h4.6v4.6h-4.6zM147.8 691.9h4.6v4.6h-4.6zM75 714.2h4.6v4.6h-4.6zM103 714.2h4.6v4.6h-4.6z"/>
<path fill="#f4b484" d="M119.8 559.9h4.6v4.5h-4.6zM63.8 587.6h4.6v4.5h-4.6zM103 593.2h4.6v4.5h-4.6zM80.6 604.3h4.6v4.5h-4.6zM41.4 620.9h4.6v4.5h-4.6zM69.4 620.9h4.6v4.5h-4.6zM63.8 631.9h4.6v4.5h-4.6zM58.2 637.4h4.6v4.5h-4.6zM69.4 664.8h4.6v4.5h-4.6zM58.2 680.8h4.6v4.6h-4.6zM80.6 703h4.6v4.6h-4.6zM41.4 719.7h4.6v4.6h-4.6z"/>
<path fill="#b4d0e4" d="M125.4 559.9h4.6v4.5h-4.6zM136.6 565.4h4.6v4.5h-4.6zM147.8 565.4h4.6v4.5h-4.6zM159 571h4.6v4.5h-4.6zM91.8 593.2h4.6v4.5h-4.6zM147.8 637.4h4.6v4.5h-4.6zM97.4 642.9h4.6v4.5h-4.6zM103 653.8h4.6v4.5h-4.6zM142.2 703h4.6v4.6h-4.6zM103 719.7h4.6v4.6h-4.6z"/>
<path fill="#fcf4c0" d="M131 559.9h4.6v4.5h-4.6zM63.8 593.2h4.6v4.5h-4.6zM131 609.9h4.6v4.5h-4.6zM97.4 631.9h4.6v4.5h-4.6zM125.4 653.8h4.6v4.5h-4.6zM41.4 670.3h4.6v4.5h-4.6zM69.4 691.9h4.6v4.6h-4.6zM91.8 691.9h4.6v4.6h-4.6z"/>
<path fill="#f4a87c" d="M136.6 559.9h4.6v4.5h-4.6zM91.8 565.4h4.6v4.5h-4.6zM69.4 571h4.6v4.5h-4.6zM52.6 598.8h4.6v4.5h-4.6zM63.8 642.9h4.6v4.5h-4.6zM69.4 680.8h4.6v4.6h-4.6zM47 703h4.6v4.6h-4.6zM52.6 719.7h4.6v4.6h-4.6z"/>
<path fill="#84acd4" d="M153.4 559.9h4.6v4.5h-4.6zM153.4 576.5h4.6v4.5h-4.6zM147.8 587.6h4.6v4.5h-4.6zM159 708.6h4.6v4.6h-4.6z"/>
<path fill="#f4b884" d="M30.2 565.4h4.6v4.5h-4.6zM63.8 609.9h4.6v4.5h-4.6z"/>
<path fill="#f0906c" d="M35.8 565.4h4.6v4.5h-4.6zM63.8 565.4h4.6v4.5h-4.6zM41.4 576.5h4.6v4.5h-4.6zM30.2 587.6h4.6v4.5h-4.6zM41.4 609.9h4.6v4.5h-4.6zM52.6 609.9h4.6v4.5h-4.6zM41.4 615.4h4.6v4.5h-4.6zM30.2 642.9h4.6v4.5h-4.6zM41.4 659.3h4.6v4.5h-4.6zM52.6 659.3h4.6v4.5h-4.6zM41.4 664.8h4.6v4.5h-4.6zM41.4 686.4h4.6v4.6h-4.6zM80.6 708.6h4.6v4.6h-4.6z"/>
<path fill="#f08468" d="M41.4 565.4h4.6v4.5h-4.6zM35.8 582.1h4.6v4.5h-4.6zM75 593.2h4.6v4.5h-4.6zM52.6 604.3h4.6v4.5h-4.6zM63.8 664.8h4.6v4.5h-4.6zM35.8 719.7h4.6v4.6h-4.6z"/>
<path fill="#f4ac7c" d="M47 565.4h4.6v4.5h-4.6zM30.2 576.5h4.6v4.5h-4.6zM119.8 587.6h4.6v4.5h-4.6zM136.6 587.6h4.6v4.5h-4.6zM47 637.4h4.6v4.5h-4.6z"/>
<path fill="#f08c6c" d="M52.6 565.4h4.6v4.5h-4.6zM69.4 582.1h4.6v4.5h-4.6zM30.2 648.3h4.6v4.5h-4.6zM52.6 648.3h4.6v4.5h-4.6zM69.4 653.8h4.6v4.5h-4.6zM52.6 670.3h4.6v4.5h-4.6zM35.8 686.4h4.6v4.6h-4.6zM35.8 691.9h4.6v4.6h-4.6zM30.2 703h4.6v4.6h-4.6zM80.6 714.2h4.6v4.6h-4.6zM80.6 719.7h4.6v4.6h-4.6zM119.8 719.7h4.6v4.6h-4.6z"/>
<path fill="#fcdca0" d="M69.4 565.4h4.6v4.5h-4.6zM75 598.8h4.6v4.5h-4.6zM69.4 604.3h4.6v4.5h-4.6zM58.2 609.9h4.6v4.5h-4.6zM58.2 615.4h4.6v4.5h-4.6zM69.4 615.4h4.6v4.5h-4.6zM119.8 642.9h4.6v4.5h-4.6zM47 653.8h4.6v4.5h-4.6zM52.6 686.4h4.6v4.6h-4.6zM119.8 697.5h4.6v4.6h-4.6zM63.8 708.6h4.6v4.6h-4.6zM69.4 708.6h4.6v4.6h-4.6z"/>
<path fill="#f8f4c8" d="M75 565.4h4.6v4.5h-4.6zM86.2 576.5h4.6v4.5h-4.6zM147.8 582.1h4.6v4.5h-4.6zM86.2 587.6h4.6v4.5h-4.6zM75 615.4h4.6v4.5h-4.6zM131 615.4h4.6v4.5h-4.6zM35.8 631.9h4.6v4.5h-4.6zM58.2 653.8h4.6v4.5h-4.6zM86.2 659.3h4.6v4.5h-4.6zM97.4 670.3h4.6v4.5h-4.6zM108.6 670.3h4.6v4.5h-4.6zM80.6 697.5h4.6v4.6h-4.6zM153.4 703h4.6v4.6h-4.6zM131 714.2h4.6v4.6h-4.6zM153.4 714.2h4.6v4.6h-4.6zM91.8 719.7h4.6v4.6h-4.6z"/>
<path fill="#fcecb8" d="M80.6 565.4h4.6v4.5h-4.6zM58.2 582.1h4.6v4.5h-4.6zM63.8 582.1h4.6v4.5h-4.6zM142.2 587.6h4.6v4.5h-4.6zM35.8 593.2h4.6v4.5h-4.6zM125.4 604.3h4.6v4.5h-4.6zM80.6 615.4h4.6v4.5h-4.6zM69.4 631.9h4.6v4.5h-4.6zM86.2 637.4h4.6v4.5h-4.6zM136.6 670.3h4.6v4.5h-4.6zM142.2 691.9h4.6v4.6h-4.6zM58.2 697.5h4.6v4.6h-4.6zM142.2 714.2h4.6v4.6h-4.6z"/>
<path fill="#f8f4cc" d="M86.2 565.4h4.6v4.5h-4.6zM147.8 576.5h4.6v4.5h-4.6zM125.4 593.2h4.6v4.5h-4.6zM97.4 620.9h4.6v4.5h-4.6zM131 631.9h4.6v4.5h-4.6zM75 642.9h4.6v4.5h-4.6zM97.4 708.6h4.6v4.6h-4.6zM114.2 714.2h4.6v4.6h-4.6zM136.6 714.2h4.6v4.6h-4.6z"/>
<path fill="#e8f0e0" d="M97.4 565.4h4.6v4.5h-4.6zM114.2 571h4.6v4.5h-4.6zM153.4 587.6h4.6v4.5h-4.6zM136.6 604.3h4.6v4.5h-4.6zM103 615.4h4.6v4.5h-4.6zM147.8 653.8h4.6v4.5h-4.6zM97.4 659.3h4.6v4.5h-4.6zM80.6 670.3h4.6v4.5h-4.6zM86.2 686.4h4.6v4.6h-4.6zM75 703h4.6v4.6h-4.6zM119.8 703h4.6v4.6h-4.6zM86.2 714.2h4.6v4.6h-4.6z"/>
<path fill="#e0ecec" d="M108.6 565.4h4.6v4.5h-4.6zM136.6 576.5h4.6v4.5h-4.6zM131 598.8h4.6v4.5h-4.6zM91.8 604.3h4.6v4.5h-4.6zM108.6 609.9h4.6v4.5h-4.6zM75 620.9h4.6v4.5h-4.6zM125.4 620.9h4.6v4.5h-4.6zM63.8 637.4h4.6v4.5h-4.6zM142.2 637.4h4.6v4.5h-4.6zM91.8 648.3h4.6v4.5h-4.6zM159 653.8h4.6v4.5h-4.6zM131 659.3h4.6v4.5h-4.6zM125.4 664.8h4.6v4.5h-4.6zM136.6 680.8h4.6v4.6h-4.6zM125.4 686.4h4.6v4.6h-4.6zM97.4 697.5h4.6v4.6h-4.6zM91.8 703h4.6v4.6h-4.6zM86.2 719.7h4.6v4.6h-4.6z"/>
<path fill="#bcd4e4" d="M114.2 565.4h4.6v4.5h-4.6zM108.6 598.8h4.6v4.5h-4.6zM147.8 615.4h4.6v4.5h-4.6zM103 670.3h4.6v4.5h-4.6z"/>
<path fill="#f4f0d0" d="M119.8 565.4h4.6v4.5h-4.6zM119.8 571h4.6v4.5h-4.6zM52.6 582.1h4.6v4.5h-4.6zM97.4 593.2h4.6v4.5h-4.6zM108.6 631.9h4.6v4.5h-4.6zM108.6 691.9h4.6v4.6h-4.6zM142.2 697.5h4.6v4.6h-4.6z"/>
<path fill="#fcf4c4" d="M125.4 565.4h4.6v4.5h-4.6zM80.6 571h4.6v4.5h-4.6zM142.2 576.5h4.6v4.5h-4.6zM131 587.6h4.6v4.5h-4.6zM119.8 593.2h4.6v4.5h-4.6zM52.6 631.9h4.6v4.5h-4.6zM69.4 637.4h4.6v4.5h-4.6zM136.6 642.9h4.6v4.5h-4.6zM80.6 680.8h4.6v4.6h-4.6zM97.4 680.8h4.6v4.6h-4.6zM142.2 686.4h4.6v4.6h-4.6zM86.2 703h4.6v4.6h-4.6zM52.6 708.6h4.6v4.6h-4.6zM63.8 714.2h4.6v4.6h-4.6z"/>
<path fill="#f8d094" d="M131 565.4h4.6v4.5h-4.6zM119.8 582.1h4.6v4.5h-4.6zM142.2 582.1h4.6v4.5h-4.6zM35.8 587.6h4.6v4.5h-4.6zM136.6 593.2h4.6v4.5h-4.6zM30.2 604.3h4.6v4.5h-4.6zM47 615.4h4.6v4.5h-4.6zM58.2 631.9h4.6v4.5h-4.6zM114.2 631.9h4.6v4.5h-4.6zM142.2 631.9h4.6v4.5h-4.6zM119.8 637.4h4.6v4.5h-4.6zM136.6 637.4h4.6v4.5h-4.6zM80.6 642.9h4.6v4.5h-4.6zM75 648.3h4.6v4.5h-4.6zM136.6 653.8h4.6v4.5h-4.6zM58.2 659.3h4.6v4.5h-4.6zM136.6 659.3h4.6v4.5h-4.6zM63.8 670.3h4.6v4.5h-4.6zM114.2 670.3h4.6v4.5h-4.6zM58.2 686.4h4.6v4.6h-4.6zM47 697.5h4.6v4.6h-4.6zM52.6 703h4.6v4.6h-4.6zM69.4 703h4.6v4.6h-4.6zM136.6 703h4.6v4.6h-4.6zM125.4 719.7h4.6v4.6h-4.6z"/>
<path fill="#648cc0" d="M159 565.4h4.6v4.5h-4.6zM159 604.3h4.6v4.5h-4.6zM159 615.4h4.6v4.5h-4.6zM159 648.3h4.6v4.5h-4.6zM97.4 691.9h4.6v4.6h-4.6zM114.2 697.5h4.6v4.6h-4.6zM159 719.7h4.6v4.6h-4.6z"/>
<path fill="#e04840" d="M30.2 571h4.6v4.5h-4.6zM35.8 620.9h4.6v4.5h-4.6zM35.8 653.8h4.6v4.5h-4.6zM41.4 703h4.6v4.6h-4.6z"/>
<path fill="#e05044" d="M35.8 571h4.6v4.5h-4.6z"/>
<path fill="#f4b080" d="M47 571h4.6v4.5h-4.6zM63.8 571h4.6v4.5h-4.6zM125.4 582.1h4.6v4.5h-4.6zM47 598.8h4.6v4.5h-4.6zM47 620.9h4.6v4.5h-4.6zM58.2 642.9h4.6v4.5h-4.6zM47 648.3h4.6v4.5h-4.6zM47 659.3h4.6v4.5h-4.6zM119.8 670.3h4.6v4.5h-4.6zM58.2 691.9h4.6v4.6h-4.6zM41.4 697.5h4.6v4.6h-4.6zM52.6 697.5h4.6v4.6h-4.6zM119.8 708.6h4.6v4.6h-4.6zM58.2 714.2h4.6v4.6h-4.6z"/>
<path fill="#fce0a4" d="M58.2 571h4.6v4.5h-4.6zM91.8 598.8h4.6v4.5h-4.6zM63.8 604.3h4.6v4.5h-4.6zM69.4 609.9h4.6v4.5h-4.6zM125.4 631.9h4.6v4.5h-4.6zM86.2 648.3h4.6v4.5h-4.6zM119.8 659.3h4.6v4.5h-4.6zM75 686.4h4.6v4.6h-4.6zM63.8 697.5h4.6v4.6h-4.6zM63.8 703h4.6v4.6h-4.6zM125.4 703h4.6v4.6h-4.6zM47 714.2h4.6v4.6h-4.6zM52.6 714.2h4.6v4.6h-4.6zM119.8 714.2h4.6v4.6h-4.6zM47 719.7h4.6v4.6h-4.6z"/>
<path fill="#e0f0ec" d="M75 571h4.6v4.5h-4.6zM103 576.5h4.6v4.5h-4.6zM103 598.8h4.6v4.5h-4.6zM97.4 604.3h4.6v4.5h-4.6zM97.4 609.9h4.6v4.5h-4.6zM131 620.9h4.6v4.5h-4.6zM153.4 637.4h4.6v4.5h-4.6zM80.6 653.8h4.6v4.5h-4.6zM91.8 680.8h4.6v4.6h-4.6zM159 686.4h4.6v4.6h-4.6zM41.4 708.6h4.6v4.6h-4.6zM108.6 719.7h4.6v4.6h-4.6z"/>
<path fill="#b4cce4" d="M91.8 571h4.6v4.5h-4.6zM80.6 631.9h4.6v4.5h-4.6z"/>
<path fill="#bcd4e8" d="M97.4 571h4.6v4.5h-4.6zM103 609.9h4.6v4.5h-4.6zM108.6 653.8h4.6v4.5h-4.6z"/>
<path fill="#fcf0c0" d="M108.6 571h4.6v4.5h-4.6zM125.4 571h4.6v4.5h-4.6zM119.8 576.5h4.6v4.5h-4.6zM114.2 593.2h4.6v4.5h-4.6zM125.4 598.8h4.6v4.5h-4.6zM75 604.3h4.6v4.5h-4.6zM142.2 604.3h4.6v4.5h-4.6zM58.2 620.9h4.6v4.5h-4.6zM119.8 620.9h4.6v4.5h-4.6zM91.8 637.4h4.6v4.5h-4.6zM35.8 670.3h4.6v4.5h-4.6zM125.4 708.6h4.6v4.6h-4.6zM97.4 714.2h4.6v4.6h-4.6zM75 719.7h4.6v4.6h-4.6zM131 719.7h4.6v4.6h-4.6z"/>
<path fill="#94b8d8" d="M147.8 571h4.6v4.5h-4.6zM147.8 604.3h4.6v4.5h-4.6zM147.8 642.9h4.6v4.5h-4.6zM114.2 680.8h4.6v4.6h-4.6z"/>
<path fill="#ecf0e0" d="M153.4 571h4.6v4.5h-4.6zM114.2 576.5h4.6v4.5h-4.6zM80.6 609.9h4.6v4.5h-4.6zM86.2 615.4h4.6v4.5h-4.6zM108.6 648.3h4.6v4.5h-4.6zM142.2 648.3h4.6v4.5h-4.6zM86.2 653.8h4.6v4.5h-4.6zM91.8 670.3h4.6v4.5h-4.6zM119.8 680.8h4.6v4.6h-4.6zM131 691.9h4.6v4.6h-4.6z"/>
<path fill="#f4a47c" d="M35.8 576.5h4.6v4.5h-4.6zM119.8 615.4h4.6v4.5h-4.6zM63.8 648.3h4.6v4.5h-4.6zM52.6 680.8h4.6v4.6h-4.6z"/>
<path fill="#e05040" d="M52.6 576.5h4.6v4.5h-4.6zM35.8 703h4.6v4.6h-4.6z"/>
<path fill="#e0443c" d="M58.2 576.5h4.6v4.5h-4.6zM35.8 609.9h4.6v4.5h-4.6zM30.2 620.9h4.6v4.5h-4.6zM35.8 642.9h4.6v4.5h-4.6zM35.8 659.3h4.6v4.5h-4.6zM69.4 670.3h4.6v4.5h-4.6zM35.8 714.2h4.6v4.6h-4.6z"/>
<path fill="#dc3c38" d="M63.8 576.5h4.6v4.5h-4.6zM86.2 631.9h4.6v4.5h-4.6z"/>
<path fill="#e8f0e4" d="M75 576.5h4.6v4.5h-4.6zM86.2 593.2h4.6v4.5h-4.6zM91.8 615.4h4.6v4.5h-4.6zM142.2 620.9h4.6v4.5h-4.6zM153.4 620.9h4.6v4.5h-4.6zM142.2 642.9h4.6v4.5h-4.6zM75 653.8h4.6v4.5h-4.6zM125.4 670.3h4.6v4.5h-4.6zM142.2 670.3h4.6v4.5h-4.6zM125.4 697.5h4.6v4.6h-4.6zM131 708.6h4.6v4.6h-4.6zM125.4 714.2h4.6v4.6h-4.6z"/>
<path fill="#f4f0cc" d="M80.6 576.5h4.6v4.5h-4.6zM41.4 582.1h4.6v4.5h-4.6zM108.6 587.6h4.6v4.5h-4.6zM52.6 593.2h4.6v4.5h-4.6zM80.6 593.2h4.6v4.5h-4.6zM30.2 609.9h4.6v4.5h-4.6zM125.4 615.4h4.6v4.5h-4.6zM136.6 631.9h4.6v4.5h-4.6zM131 670.3h4.6v4.5h-4.6zM125.4 691.9h4.6v4.6h-4.6zM114.2 703h4.6v4.6h-4.6z"/>
<path fill="#c4d8e8" d="M91.8 576.5h4.6v4.5h-4.6zM136.6 598.8h4.6v4.5h-4.6zM108.6 615.4h4.6v4.5h-4.6zM97.4 648.3h4.6v4.5h-4.6z"/>
<path fill="#f08868" d="M97.4 576.5h4.6v4.5h-4.6zM75 587.6h4.6v4.5h-4.6zM35.8 598.8h4.6v4.5h-4.6zM41.4 598.8h4.6v4.5h-4.6zM30.2 686.4h4.6v4.6h-4.6z"/>
<path fill="#b8d4e4" d="M108.6 576.5h4.6v4.5h-4.6zM114.2 582.1h4.6v4.5h-4.6zM153.4 615.4h4.6v4.5h-4.6zM103 659.3h4.6v4.5h-4.6z"/>
<path fill="#5880b8" d="M159 576.5h4.6v4.5h-4.6zM91.8 631.9h4.6v4.5h-4.6z"/>
<path fill="#80a8d0" d="M97.4 582.1h4.6v4.5h-4.6zM114.2 648.3h4.6v4.5h-4.6zM147.8 648.3h4.6v4.5h-4.6zM153.4 648.3h4.6v4.5h-4.6zM114.2 653.8h4.6v4.5h-4.6zM159 659.3h4.6v4.5h-4.6zM147.8 714.2h4.6v4.6h-4.6zM159 714.2h4.6v4.6h-4.6z"/>
<path fill="#fce8b4" d="M103 582.1h4.6v4.5h-4.6zM153.4 604.3h4.6v4.5h-4.6zM75 609.9h4.6v4.5h-4.6zM125.4 648.3h4.6v4.5h-4.6zM75 659.3h4.6v4.5h-4.6zM86.2 708.6h4.6v4.6h-4.6zM41.4 714.2h4.6v4.6h-4.6z"/>
<path fill="#d0e4e8" d="M108.6 582.1h4.6v4.5h-4.6z"/>
<path fill="#fcdca4" d="M136.6 582.1h4.6v4.5h-4.6zM69.4 593.2h4.6v4.5h-4.6zM75 637.4h4.6v4.5h-4.6z"/>
<path fill="#dce8ec" d="M153.4 582.1h4.6v4.5h-4.6zM125.4 587.6h4.6v4.5h-4.6zM86.2 604.3h4.6v4.5h-4.6zM103 664.8h4.6v4.5h-4.6zM142.2 664.8h4.6v4.5h-4.6zM97.4 703h4.6v4.6h-4.6z"/>
<path fill="#688cc0" d="M159 582.1h4.6v4.5h-4.6zM159 593.2h4.6v4.5h-4.6z"/>
<path fill="#f4ac80" d="M47 587.6h4.6v4.5h-4.6zM47 604.3h4.6v4.5h-4.6zM52.6 615.4h4.6v4.5h-4.6zM52.6 620.9h4.6v4.5h-4.6zM52.6 642.9h4.6v4.5h-4.6zM58.2 648.3h4.6v4.5h-4.6zM63.8 659.3h4.6v4.5h-4.6zM47 664.8h4.6v4.5h-4.6zM63.8 691.9h4.6v4.6h-4.6zM58.2 703h4.6v4.6h-4.6z"/>
<path fill="#f8b884" d="M58.2 587.6h4.6v4.5h-4.6zM58.2 593.2h4.6v4.5h-4.6zM35.8 604.3h4.6v4.5h-4.6zM63.8 615.4h4.6v4.5h-4.6zM103 631.9h4.6v4.5h-4.6zM63.8 653.8h4.6v4.5h-4.6zM69.4 659.3h4.6v4.5h-4.6zM86.2 680.8h4.6v4.6h-4.6zM52.6 691.9h4.6v4.6h-4.6z"/>
<path fill="#f8cc94" d="M80.6 587.6h4.6v4.5h-4.6zM147.8 631.9h4.6v4.5h-4.6zM80.6 648.3h4.6v4.5h-4.6zM47 686.4h4.6v4.6h-4.6zM69.4 697.5h4.6v4.6h-4.6z"/>
<path fill="#547cb8" d="M103 587.6h4.6v4.5h-4.6zM159 609.9h4.6v4.5h-4.6z"/>
<path fill="#e4f0ec" d="M114.2 587.6h4.6v4.5h-4.6zM69.4 598.8h4.6v4.5h-4.6zM91.8 620.9h4.6v4.5h-4.6zM47 631.9h4.6v4.5h-4.6zM75 631.9h4.6v4.5h-4.6zM108.6 642.9h4.6v4.5h-4.6zM131 648.3h4.6v4.5h-4.6zM80.6 659.3h4.6v4.5h-4.6zM75 670.3h4.6v4.5h-4.6z"/>
<path fill="#587cb8" d="M159 587.6h4.6v4.5h-4.6zM159 620.9h4.6v4.5h-4.6zM153.4 670.3h4.6v4.5h-4.6zM108.6 703h4.6v4.6h-4.6z"/>
<path fill="#f08464" d="M30.2 593.2h4.6v4.5h-4.6zM41.4 642.9h4.6v4.5h-4.6zM47 691.9h4.6v4.6h-4.6zM35.8 708.6h4.6v4.6h-4.6z"/>
<path fill="#fcd898" d="M47 593.2h4.6v4.5h-4.6zM131 593.2h4.6v4.5h-4.6zM63.8 620.9h4.6v4.5h-4.6zM86.2 697.5h4.6v4.6h-4.6zM153.4 697.5h4.6v4.6h-4.6z"/>
<path fill="#ecf0dc" d="M108.6 593.2h4.6v4.5h-4.6zM142.2 609.9h4.6v4.5h-4.6z"/>
<path fill="#90b8d8" d="M147.8 593.2h4.6v4.5h-4.6zM114.2 642.9h4.6v4.5h-4.6zM108.6 697.5h4.6v4.6h-4.6z"/>
<path fill="#f8d494" d="M86.2 598.8h4.6v4.5h-4.6zM91.8 609.9h4.6v4.5h-4.6zM125.4 637.4h4.6v4.5h-4.6zM91.8 664.8h4.6v4.5h-4.6zM119.8 664.8h4.6v4.5h-4.6zM119.8 691.9h4.6v4.6h-4.6zM136.6 691.9h4.6v4.6h-4.6zM75 697.5h4.6v4.6h-4.6z"/>
<path fill="#8cb0d4" d="M114.2 598.8h4.6v4.5h-4.6zM108.6 620.9h4.6v4.5h-4.6z"/>
<path fill="#e4f0e4" d="M153.4 598.8h4.6v4.5h-4.6zM58.2 708.6h4.6v4.6h-4.6z"/>
<path fill="#6084bc" d="M159 598.8h4.6v4.5h-4.6z"/>
<path fill="#f0f0d8" d="M103 604.3h4.6v4.5h-4.6z"/>
<path fill="#8cb4d8" d="M114.2 604.3h4.6v4.5h-4.6zM153.4 719.7h4.6v4.6h-4.6z"/>
<path fill="#fcdc9c" d="M119.8 604.3h4.6v4.5h-4.6z"/>
<path fill="#b8d0e4" d="M125.4 609.9h4.6v4.5h-4.6zM80.6 620.9h4.6v4.5h-4.6zM114.2 719.7h4.6v4.6h-4.6z"/>
<path fill="#c4dce8" d="M147.8 609.9h4.6v4.5h-4.6zM114.2 615.4h4.6v4.5h-4.6zM153.4 642.9h4.6v4.5h-4.6zM159 664.8h4.6v4.5h-4.6zM103 680.8h4.6v4.6h-4.6zM108.6 680.8h4.6v4.6h-4.6zM91.8 714.2h4.6v4.6h-4.6z"/>
<path fill="#fcecb4" d="M97.4 615.4h4.6v4.5h-4.6zM147.8 620.9h4.6v4.5h-4.6zM131 637.4h4.6v4.5h-4.6zM75 664.8h4.6v4.5h-4.6zM91.8 697.5h4.6v4.6h-4.6z"/>
<path fill="#5478b8" d="M41.4 631.9h4.6v4.5h-4.6z"/>
<path fill="#dc4038" d="M35.8 637.4h4.6v4.5h-4.6zM30.2 653.8h4.6v4.5h-4.6zM30.2 697.5h4.6v4.6h-4.6z"/>
<path fill="#f09070" d="M41.4 637.4h4.6v4.5h-4.6zM52.6 653.8h4.6v4.5h-4.6zM58.2 719.7h4.6v4.6h-4.6z"/>
<path fill="#f8f4c4" d="M52.6 637.4h4.6v4.5h-4.6zM147.8 703h4.6v4.6h-4.6zM69.4 714.2h4.6v4.6h-4.6z"/>
<path fill="#b0cce0" d="M97.4 637.4h4.6v4.5h-4.6zM108.6 659.3h4.6v4.5h-4.6zM147.8 719.7h4.6v4.6h-4.6z"/>
<path fill="#7ca4d0" d="M108.6 637.4h4.6v4.5h-4.6zM153.4 691.9h4.6v4.6h-4.6z"/>
<path fill="#6088bc" d="M159 637.4h4.6v4.5h-4.6zM159 642.9h4.6v4.5h-4.6z"/>
<path fill="#f4b480" d="M47 642.9h4.6v4.5h-4.6z"/>
<path fill="#e04c40" d="M35.8 648.3h4.6v4.5h-4.6zM30.2 670.3h4.6v4.5h-4.6z"/>
<path fill="#dc3c34" d="M30.2 659.3h4.6v4.5h-4.6zM136.6 686.4h4.6v4.6h-4.6zM30.2 708.6h4.6v4.6h-4.6zM30.2 714.2h4.6v4.6h-4.6z"/>
<path fill="#d8e8ec" d="M147.8 659.3h4.6v4.5h-4.6zM86.2 664.8h4.6v4.5h-4.6zM108.6 664.8h4.6v4.5h-4.6zM86.2 670.3h4.6v4.5h-4.6zM131 680.8h4.6v4.6h-4.6zM142.2 680.8h4.6v4.6h-4.6zM103 708.6h4.6v4.6h-4.6z"/>
<path fill="#e0483c" d="M30.2 664.8h4.6v4.5h-4.6zM35.8 664.8h4.6v4.5h-4.6z"/>
<path fill="#90b4d8" d="M114.2 664.8h4.6v4.5h-4.6zM159 691.9h4.6v4.6h-4.6zM159 697.5h4.6v4.6h-4.6z"/>
<path fill="#8cb4d4" d="M147.8 664.8h4.6v4.5h-4.6zM153.4 664.8h4.6v4.5h-4.6zM147.8 670.3h4.6v4.5h-4.6zM159 703h4.6v4.6h-4.6z"/>
<path fill="#84acd0" d="M159 670.3h4.6v4.5h-4.6zM114.2 691.9h4.6v4.6h-4.6z"/>
<path fill="#fcecbc" d="M80.6 686.4h4.6v4.6h-4.6zM114.2 686.4h4.6v4.6h-4.6z"/>
<path fill="#5c84bc" d="M108.6 686.4h4.6v4.6h-4.6z"/>
<path fill="#5c80bc" d="M147.8 697.5h4.6v4.6h-4.6z"/>
<path fill="#6488c0" d="M147.8 708.6h4.6v4.6h-4.6z"/>
</g>
<g>
<path fill="#52ae62" d="M29.7 550.8h5.7v5.1h-5.7zM35.3 550.8h5.7v5.1h-5.7zM63.3 550.8h5.7v5.1h-5.7zM96.9 550.8h5.7v5.1h-5.7zM102.5 550.8h5.7v5.1h-5.7zM113.7 550.8h5.7v5.1h-5.7z"/>
<path fill="#6a95cc" d="M40.9 550.8h5.7v5.1h-5.7zM46.5 550.8h5.7v5.1h-5.7zM52.1 550.8h5.7v5.1h-5.7zM57.7 550.8h5.7v5.1h-5.7zM68.9 550.8h5.7v5.1h-5.7zM74.5 550.8h5.7v5.1h-5.7zM80.1 550.8h5.7v5.1h-5.7zM85.7 550.8h5.7v5.1h-5.7zM91.3 550.8h5.7v5.1h-5.7zM108.1 550.8h5.7v5.1h-5.7z"/>
<path fill="#d8323c" d="M119.3 550.8h5.7v5.1h-5.7zM130.5 550.8h5.7v5.1h-5.7zM158.5 550.8h5.7v5.1h-5.7z"/>
<path fill="#eaa0a4" d="M124.9 550.8h5.7v5.1h-5.7zM136.1 550.8h5.7v5.1h-5.7zM141.7 550.8h5.7v5.1h-5.7zM147.3 550.8h5.7v5.1h-5.7zM152.9 550.8h5.7v5.1h-5.7z"/>
</g>
<text x="74.80" y="547.00" font-size="7.0" text-anchor="middle" fill="#222">RIS group</text>
<text x="142.00" y="547.00" font-size="7.0" text-anchor="middle" fill="#222">SARC group</text>
<text x="166.80" y="555.20" font-size="6.6" fill="#222">Group</text>
<text x="167.30" y="564.60" font-size="6.8" fill="#222">Activated CD4 T cell</text>
<text x="167.30" y="569.90" font-size="6.8" fill="#222">Activated CD8 T cell <tspan font-size="6.2">▲</tspan></text>
<text x="167.30" y="575.50" font-size="6.8" fill="#222">Activated dendritic cell <tspan font-size="6.2">▲</tspan></text>
<text x="167.30" y="581.00" font-size="6.8" fill="#222">CD56bright natural killer cell</text>
<text x="167.30" y="586.60" font-size="6.8" fill="#222">Central memory CD4 T cell</text>
<text x="167.30" y="592.10" font-size="6.8" fill="#222">Central memory CD8 T cell</text>
<text x="167.30" y="597.70" font-size="6.8" fill="#222">Effector memeory CD4 T cell</text>
<text x="167.30" y="603.20" font-size="6.8" fill="#222">Effector memeory CD8 T cell <tspan font-size="6.2">▲</tspan></text>
<text x="167.30" y="608.80" font-size="6.8" fill="#222">Natural killer cell</text>
<text x="167.30" y="614.30" font-size="6.8" fill="#222">Natural killer T cell <tspan font-size="6.2">▲</tspan></text>
<text x="167.30" y="619.90" font-size="6.8" fill="#222">Type 1 T helper cell <tspan font-size="6.2">▲</tspan></text>
<text x="167.30" y="625.40" font-size="6.8" fill="#222">Type 17 T helper cell</text>
<text x="167.30" y="635.90" font-size="6.8" fill="#222">CD56dim natural killer cell</text>
<text x="167.30" y="641.30" font-size="6.8" fill="#222">Immature dendritic cell</text>
<text x="167.30" y="646.80" font-size="6.8" fill="#222">Macrophage <tspan font-size="6.2">▲</tspan></text>
<text x="167.30" y="652.30" font-size="6.8" fill="#222">MDSC <tspan font-size="6.2">▲</tspan></text>
<text x="167.30" y="657.70" font-size="6.8" fill="#222">Neutrophil</text>
<text x="167.30" y="663.20" font-size="6.8" fill="#222">Plasmacytoid dendritic cell</text>
<text x="167.30" y="668.70" font-size="6.8" fill="#222">Regulatory T cell <tspan font-size="6.2">▲</tspan></text>
<text x="167.30" y="674.20" font-size="6.8" fill="#222">Type 2 T helper cell <tspan font-size="6.2">▲</tspan></text>
<text x="167.30" y="684.90" font-size="6.8" fill="#222">Activated B cell</text>
<text x="167.30" y="690.40" font-size="6.8" fill="#222">Eosinophil</text>
<text x="167.30" y="696.00" font-size="6.8" fill="#222">Gamma delta T cell</text>
<text x="167.30" y="701.60" font-size="6.8" fill="#222">Immature  B cell</text>
<text x="167.30" y="707.10" font-size="6.8" fill="#222">Mast cell <tspan font-size="6.2">▲</tspan></text>
<text x="167.30" y="712.70" font-size="6.8" fill="#222">Memory B cell</text>
<text x="167.30" y="718.20" font-size="6.8" fill="#222">Monocyte</text>
<text x="167.30" y="723.80" font-size="6.8" fill="#222">T follicular helper cell</text>
<text x="247.80" y="686.00" font-size="6.8" font-weight="bold" fill="#111">Group</text>
<rect x="245.80" y="693.20" width="4.00" height="4.00" fill="#5b87c5"/>
<text x="253.00" y="697.50" font-size="6.6" fill="#222">RIFS</text>
<rect x="245.80" y="700.80" width="4.00" height="4.00" fill="#35a94b"/>
<text x="253.00" y="705.10" font-size="6.6" fill="#222">RIOS</text>
<rect x="245.80" y="708.40" width="4.00" height="4.00" fill="#d6262c"/>
<text x="253.00" y="712.70" font-size="6.6" fill="#222">FS</text>
<rect x="245.80" y="716.00" width="4.00" height="4.00" fill="#e79896"/>
<text x="253.00" y="720.30" font-size="6.6" fill="#222">OS</text>
<text x="288.80" y="686.00" font-size="6.8" fill="#222">Cell type score</text>
<defs><linearGradient id="gG" x1="0" y1="0" x2="0" y2="1"><stop offset="0.00" stop-color="#da3a34"/><stop offset="0.03" stop-color="#de4038"/><stop offset="0.17" stop-color="#f08a6a"/><stop offset="0.28" stop-color="#f5af80"/><stop offset="0.40" stop-color="#fad798"/><stop offset="0.48" stop-color="#fcf3c2"/><stop offset="0.57" stop-color="#e2efec"/><stop offset="0.70" stop-color="#bcd5e6"/><stop offset="0.83" stop-color="#87afd4"/><stop offset="1.00" stop-color="#5076b4"/></linearGradient></defs>
<rect x="291.00" y="689.20" width="6.30" height="32.80" fill="url(#gG)"/>
<text x="300.60" y="693.10" font-size="6.6" fill="#222">1</text>
<text x="300.60" y="708.10" font-size="6.6" fill="#222">0.5</text>
<text x="300.60" y="721.50" font-size="6.6" fill="#222">0</text>
</svg></body></html>
